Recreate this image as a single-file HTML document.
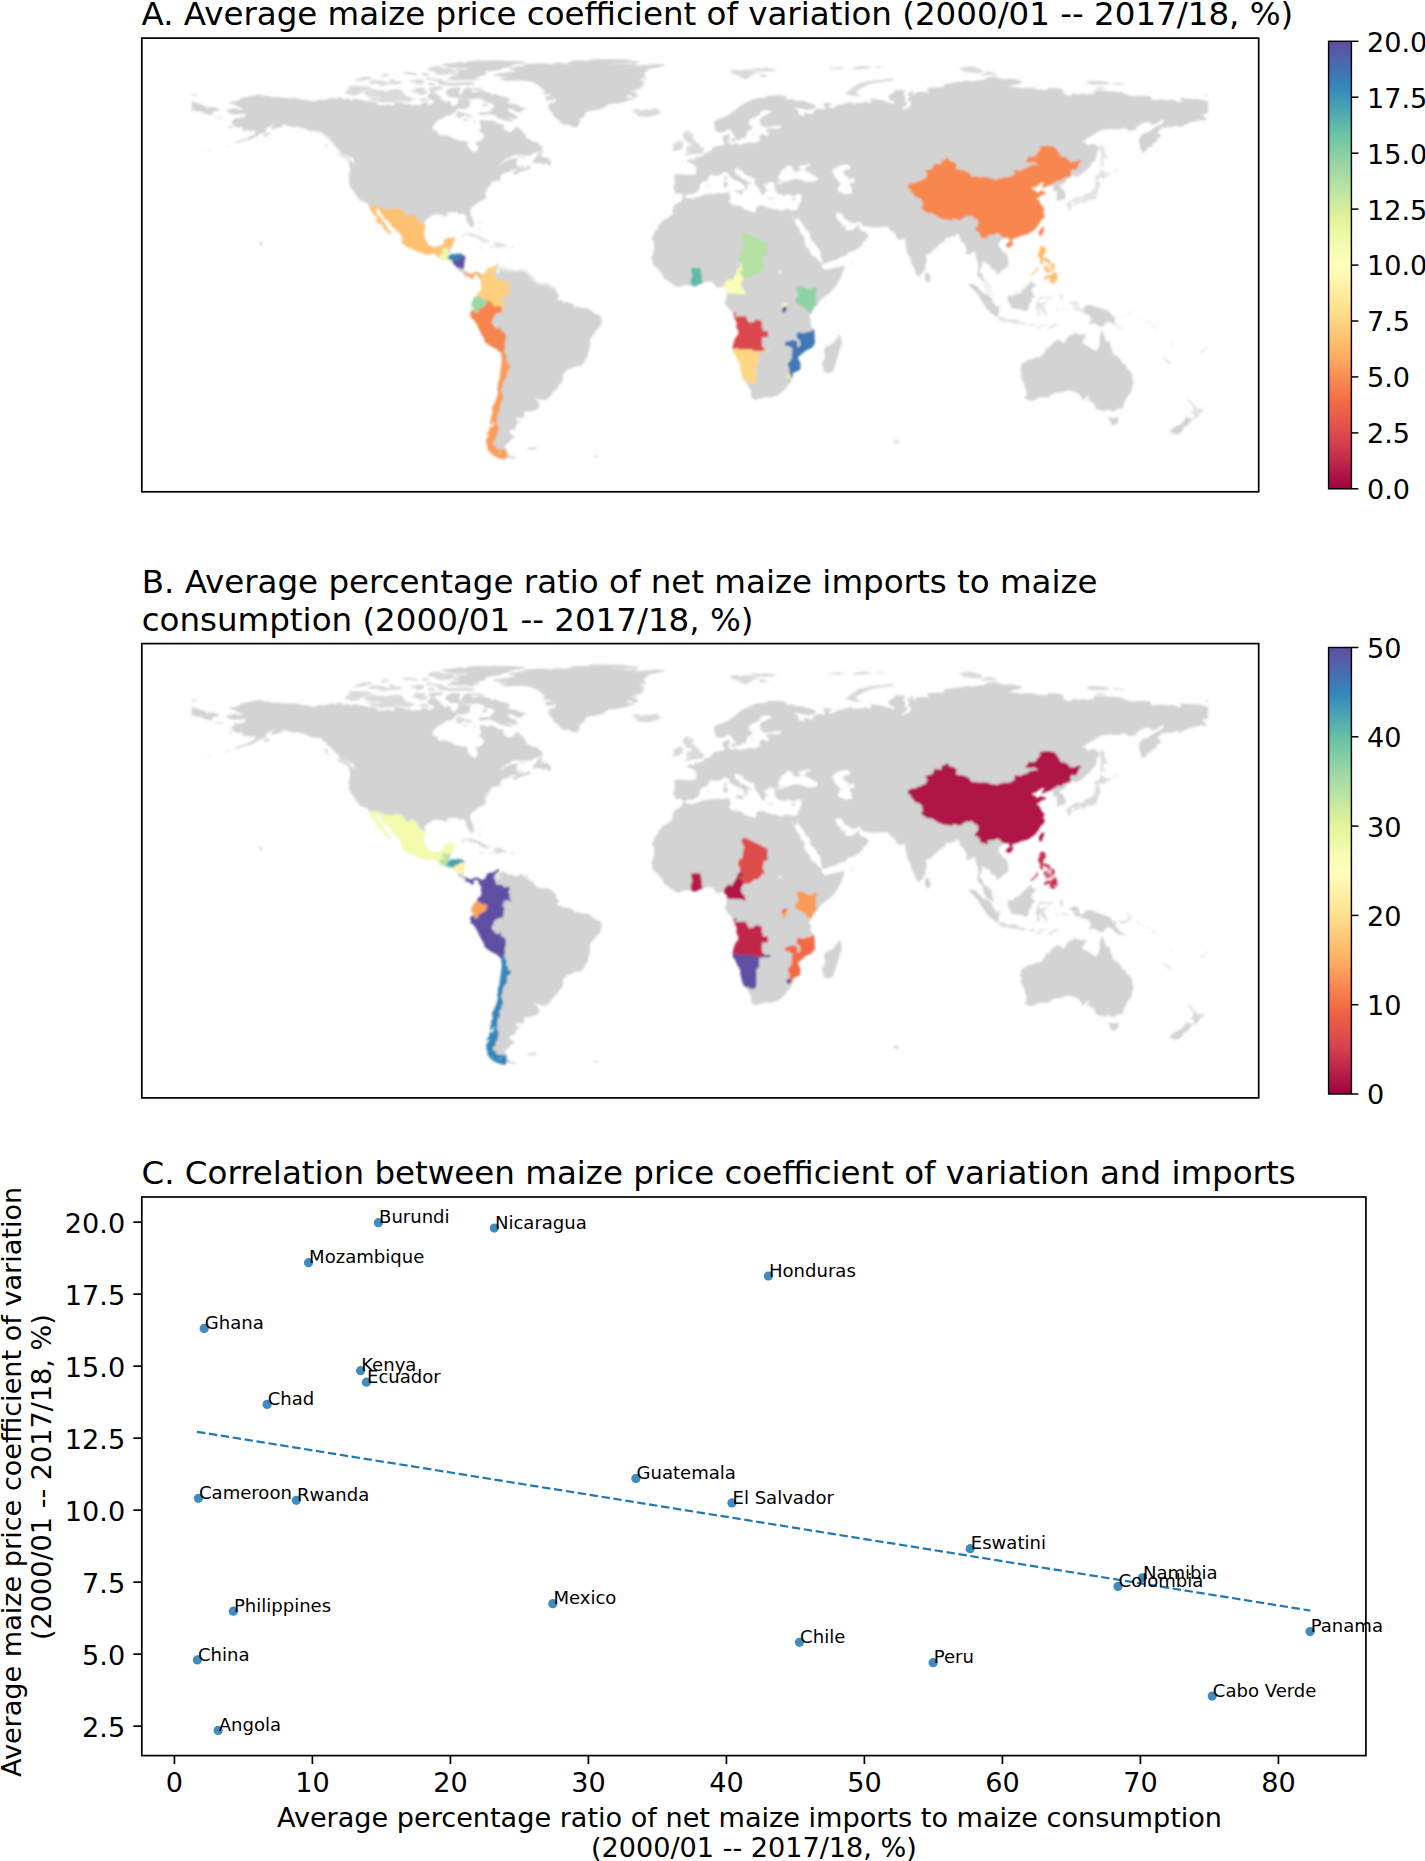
<!DOCTYPE html>
<html lang="en"><head><meta charset="utf-8"><title>Maize price variation and imports</title>
<style>html,body{margin:0;padding:0;background:#fff}body{width:1425px;height:1861px;overflow:hidden}</style></head>
<body>
<svg width="1425" height="1861" viewBox="0 0 1425 1861" style="display:block;font-family:'DejaVu Sans', 'Liberation Sans', sans-serif">
<rect x="0" y="0" width="1425" height="1861" fill="#fff"/>
<defs><filter id="soft" x="-2%" y="-2%" width="104%" height="104%"><feGaussianBlur stdDeviation="1.0"/></filter></defs>
<g filter="url(#soft)">
<path d="M225.4 110.8L229.9 109.3L235.8 108.2L237.8 109.6L243.4 109.6L241.2 107.9L237.8 106.8L235.8 105.3L233.0 104.2L229.0 103.0L230.7 101.6L235.8 101.6L239.2 100.1L240.0 98.7L242.9 97.5L245.7 97.3L251.0 95.8L253.6 96.1L257.8 94.4L262.1 95.2L264.3 96.4L265.4 95.8L270.2 96.1L270.0 96.7L274.5 97.3L277.3 97.0L283.2 97.8L288.6 98.1L290.8 98.4L294.5 97.8L298.8 98.7L301.9 99.3L307.2 99.8L311.7 101.3L314.6 101.6L317.1 100.4L320.5 99.6L324.7 99.8L329.0 98.7L333.5 97.8L335.5 99.0L337.4 98.4L338.3 97.0L340.2 97.3L344.8 99.8L348.7 97.8L349.0 100.1L352.4 99.6L353.5 98.7L356.9 99.0L361.4 100.1L367.9 101.3L371.9 101.9L374.7 101.6L378.4 103.0L374.4 104.5L379.5 105.0L387.1 104.7L389.7 104.2L392.5 105.9L395.6 104.5L392.8 103.3L394.5 102.2L398.0 102.2L400.1 101.9L402.6 102.4L405.5 104.2L408.6 103.9L413.4 105.3L417.9 104.7L422.1 104.7L421.6 103.0L424.1 102.4L428.6 103.6L428.6 106.2L430.3 103.9L432.6 103.9L434.0 101.0L430.9 99.3L427.5 98.1L427.8 95.0L431.2 92.9L434.8 93.2L437.6 94.7L441.6 97.8L439.1 99.3L444.4 99.8L444.1 102.7L448.1 100.4L451.5 102.4L450.6 104.5L453.2 106.5L456.3 104.5L458.3 101.9L458.5 98.7L462.5 99.0L466.7 99.3L470.4 100.7L470.7 102.2L468.4 103.9L470.4 105.3L470.1 106.8L464.7 108.8L460.8 109.1L457.7 108.2L456.8 109.6L454.3 112.2L453.5 113.4L450.1 115.4L446.1 115.7L443.9 116.8L443.6 118.5L440.5 119.1L436.8 121.4L434.0 124.6L432.8 126.9L432.6 130.3L436.8 130.6L437.9 133.5L439.3 135.5L443.3 134.9L448.7 136.1L451.5 137.2L453.5 138.7L456.8 139.6L459.9 140.7L464.5 141.0L467.6 141.3L467.3 143.6L468.1 146.5L470.1 149.6L474.3 152.5L476.6 151.6L478.0 148.5L476.6 144.2L474.6 142.4L479.1 141.3L482.2 139.3L483.9 137.2L483.7 135.2L481.7 132.6L478.3 130.6L481.7 127.5L480.3 124.9L479.4 120.6L481.4 119.7L486.2 120.6L489.0 120.9L491.6 120.3L494.1 121.1L497.5 122.9L498.3 124.0L503.4 124.0L503.4 126.6L504.3 130.1L506.8 130.6L509.1 132.4L513.0 130.6L515.8 127.5L517.5 126.3L519.8 128.9L523.5 132.4L526.6 135.9L525.4 137.8L529.1 139.3L531.6 141.0L536.3 141.9L538.1 142.7L539.3 145.0L541.2 145.6L542.4 146.5L542.7 149.9L540.7 150.8L538.7 151.9L533.9 152.8L530.5 155.4L525.7 155.7L519.5 155.1L515.3 155.1L512.5 155.4L510.2 157.4L506.5 158.5L502.4 162.6L499.2 165.2L501.4 164.6L506.1 160.8L512.0 158.5L516.1 158.3L518.7 159.7L516.1 161.4L517.0 164.6L517.8 166.9L521.5 168.3L526.3 167.7L529.1 164.6L529.4 166.6L531.1 167.7L527.7 169.5L521.3 171.2L518.7 172.3L515.3 174.7L513.3 174.4L513.0 171.8L518.1 169.5L513.6 169.5L510.5 170.0L510.8 170.9L507.9 172.3L504.8 173.3L502.0 174.1L500.6 175.8L500.0 178.1L500.9 179.5L502.0 179.5L502.3 180.1L500.6 180.4L499.2 180.4L496.9 181.0L494.1 181.3L491.8 182.1L491.0 183.0L491.0 183.6L490.4 185.6L488.5 187.9L488.2 187.0L486.8 186.2L487.3 187.7L487.9 189.0L487.0 190.5L485.6 192.8L485.4 192.5L484.5 190.2L484.8 187.3L483.9 188.5L484.5 190.8L484.5 193.4L485.4 193.6L486.2 197.4L484.2 199.7L481.4 200.5L479.4 202.3L478.0 202.3L476.6 203.4L476.3 204.3L473.2 206.3L471.5 207.7L470.4 209.5L469.8 211.5L470.4 213.5L471.2 215.8L472.6 217.8L472.6 219.2L473.8 222.4L473.8 225.6L472.9 227.3L472.1 227.6L470.7 227.3L470.4 226.1L469.3 225.3L467.8 223.0L466.4 220.7L465.9 216.1L463.6 213.8L462.5 213.2L459.7 214.6L459.1 214.4L457.7 212.9L456.0 212.3L452.9 212.6L450.3 212.3L448.1 212.6L447.0 212.9L447.5 213.8L447.5 214.9L448.1 215.5L447.5 215.8L446.4 215.5L445.3 216.1L443.3 216.1L441.3 214.4L438.8 214.8L436.8 214.1L435.1 214.4L432.6 214.9L430.0 217.2L427.2 218.4L425.8 219.8L424.9 221.0L424.9 223.0L425.2 224.4L425.8 225.3L424.7 227.9L424.1 229.9L423.8 233.9L423.5 235.4L424.1 236.8L424.9 238.2L425.5 240.5L427.5 242.5L428.0 244.3L429.2 245.7L432.3 246.3L433.4 247.7L435.9 246.9L437.9 246.6L440.2 246.0L441.9 245.4L443.6 244.3L444.4 240.2L445.0 239.4L447.0 238.5L450.1 237.9L452.4 238.1L454.2 237.8L454.9 238.5L454.7 239.8L453.2 241.5L452.6 243.3L453.2 243.7L452.6 245.1L452.0 247.2L451.2 246.6L450.6 246.6L451.2 247.7L450.6 249.2L450.9 250.9L450.3 252.3L448.9 254.1L449.8 254.6L450.9 254.6L451.8 254.1L453.2 254.2L454.6 254.5L456.0 254.3L457.1 253.8L458.8 254.1L459.9 253.8L461.6 254.3L463.3 255.5L464.5 255.8L465.2 256.6L465.0 258.7L464.2 260.7L464.2 262.7L464.2 264.1L463.6 265.6L463.8 268.2L463.1 269.0L464.5 269.9L465.6 271.0L467.0 272.2L467.8 273.3L469.3 273.9L470.1 274.5L471.5 274.2L472.6 273.6L474.3 273.0L475.2 272.2L476.9 272.3L478.3 272.8L479.4 273.2L480.6 274.2L481.5 274.9L481.1 276.8L480.0 279.1L479.1 278.2L478.6 276.6L479.1 275.9L478.6 275.6L478.0 274.8L476.6 273.9L475.2 274.2L474.6 275.1L472.9 275.9L472.6 276.5L474.1 278.1L473.2 278.5L471.5 279.1L471.0 277.4L469.8 277.6L469.3 276.5L467.3 275.9L465.9 276.2L465.7 276.7L464.2 275.5L463.6 274.9L463.9 274.5L463.6 273.8L461.9 272.5L460.9 272.2L460.8 271.3L459.9 270.7L460.2 271.6L459.7 272.3L459.0 271.5L458.1 271.2L457.7 270.7L457.7 269.8L458.1 268.9L458.0 267.9L457.0 267.0L455.7 265.9L455.0 264.9L453.8 264.0L452.4 262.7L452.7 262.2L453.2 262.7L453.5 262.4L452.9 261.5L452.0 261.2L451.8 262.0L450.1 261.9L449.2 261.7L447.9 261.1L446.4 261.0L445.5 260.3L444.1 259.8L442.4 259.7L441.0 259.1L439.5 258.0L436.3 254.9L434.8 253.9L432.6 253.2L431.0 253.4L428.8 254.5L427.3 254.8L425.3 254.0L423.2 253.5L420.6 252.1L418.4 251.8L415.3 250.4L412.9 249.0L412.2 248.3L410.6 248.1L407.7 247.2L406.6 245.9L403.5 244.3L402.1 242.4L401.5 241.0L402.4 240.7L402.1 240.0L402.7 239.2L402.7 238.2L401.8 236.9L401.5 235.7L400.6 234.3L398.1 231.4L395.3 229.2L393.9 227.4L391.5 226.2L391.0 225.5L391.4 223.7L389.9 223.0L388.3 221.7L387.6 219.6L386.0 219.4L384.4 217.9L383.1 216.5L383.0 215.6L381.5 213.5L380.4 211.2L380.5 210.1L378.4 209.0L377.5 209.1L375.9 208.3L375.4 209.5L375.9 210.9L376.2 213.0L377.1 214.2L379.2 216.2L379.7 216.9L380.1 217.1L380.5 218.1L381.0 218.0L381.6 219.9L382.4 220.6L383.0 221.6L384.8 223.1L385.8 225.8L386.6 227.0L387.4 228.4L387.5 229.9L388.9 230.0L390.0 231.3L391.0 232.6L391.0 233.1L389.8 234.1L389.3 234.1L388.5 232.4L386.7 230.8L384.7 229.4L383.2 228.6L383.3 226.5L382.9 225.0L381.5 224.1L379.6 222.8L379.2 223.2L378.5 222.4L376.8 221.7L375.1 220.0L375.3 219.8L376.5 220.0L377.5 218.9L377.6 217.6L375.5 215.6L373.8 214.8L372.7 213.0L371.7 211.1L370.4 208.8L369.2 206.2L368.8 204.7L367.0 203.1L365.6 202.7L365.3 201.9L363.7 201.8L362.7 201.0L360.1 200.7L359.4 200.2L359.1 198.6L356.3 195.8L353.9 191.8L354.1 191.1L352.8 190.2L350.6 187.7L350.2 185.4L348.7 183.8L349.3 181.4L349.3 179.0L348.4 176.8L349.5 174.0L350.1 168.8L349.6 165.0L348.7 162.5L347.9 161.2L348.2 160.6L352.3 161.6L353.8 164.3L354.5 163.5L354.1 161.2L353.1 158.8L352.7 158.0L347.3 156.0L345.3 154.7L340.1 153.6L338.6 151.0L339.0 149.2L335.4 148.0L334.9 145.7L331.5 143.6L331.4 142.1L329.8 141.0L327.3 140.1L326.6 137.6L322.9 135.3L321.4 132.6L318.7 132.4L314.2 132.3L310.9 131.5L305.0 128.5L302.3 128.0L297.4 126.9L293.5 127.2L287.9 125.9L284.6 124.6L281.5 125.3L282.0 127.2L280.5 127.4L277.2 128.0L274.7 129.0L271.6 129.6L271.2 127.9L272.5 125.1L275.5 124.2L274.7 123.5L271.1 125.1L269.2 127.0L265.1 129.1L267.2 130.5L264.5 132.5L261.5 133.7L258.6 134.6L257.9 135.9L253.5 137.4L252.7 138.7L249.3 139.9L247.4 139.7L244.8 140.5L241.9 141.5L239.6 142.5L234.7 143.3L234.3 142.8L237.4 141.4L240.1 140.6L243.1 139.0L246.6 138.7L248.0 137.5L251.9 135.8L252.6 135.2L254.7 134.2L255.1 132.0L256.6 130.3L253.3 131.2L252.4 130.7L250.9 131.7L249.0 130.3L248.3 131.3L247.2 129.9L244.4 131.0L242.7 131.0L242.4 129.3L242.9 128.2L241.1 127.2L237.4 127.8L235.1 126.4L233.1 125.7L233.1 124.1L230.9 122.9L232.0 121.2L234.3 119.6L235.3 118.1L237.6 117.9L239.6 118.4L241.8 117.0L243.9 117.2L246.0 116.3L245.5 115.0L243.9 114.5L246.0 113.4L244.3 113.4L241.3 114.1L240.4 114.7L238.2 114.1L234.2 114.4L230.1 113.7L228.9 112.5ZM481.5 274.9L483.0 274.9L485.1 272.9L486.3 272.6L486.3 271.7L486.8 269.2L488.4 267.9L490.2 267.9L490.4 267.3L492.7 267.5L494.9 266.1L496.0 265.4L497.3 264.0L498.3 264.2L499.1 265.0L498.5 265.9L498.5 266.6L496.8 266.9L497.7 268.2L497.7 269.7L496.4 271.4L497.5 273.7L498.7 273.5L499.4 271.4L498.5 270.4L498.3 268.2L501.8 267.1L501.5 265.7L502.5 264.8L503.5 266.8L505.5 266.9L507.3 268.5L507.4 269.4L509.9 269.4L512.9 269.2L514.5 270.5L516.7 270.8L518.3 269.9L518.3 269.2L521.8 269.0L525.2 269.0L522.8 269.8L523.8 271.2L526.0 271.4L528.2 272.8L528.6 275.1L530.1 275.1L531.2 275.7L533.1 276.8L534.8 278.7L534.9 280.2L535.9 280.2L537.5 281.6L538.6 282.6L542.0 283.2L544.6 282.5L547.6 283.2L550.6 284.2L553.6 286.7L554.1 287.8L555.0 287.7L555.7 289.3L557.3 294.3L558.8 294.8L558.9 296.8L556.8 299.2L557.6 300.0L562.6 300.5L562.8 303.4L564.9 301.5L568.4 302.5L573.1 304.3L574.5 306.0L574.1 307.5L577.3 306.6L582.8 308.2L587.0 308.1L591.2 310.4L594.8 313.7L597.0 314.5L599.4 314.6L600.4 315.5L601.4 319.2L601.9 320.9L600.7 325.7L599.3 327.6L595.3 331.6L593.5 334.8L591.4 337.3L590.7 337.4L589.9 339.5L590.1 344.9L589.4 349.3L589.0 351.2L588.2 352.3L587.7 356.2L584.8 359.9L584.3 362.9L582.0 364.2L581.4 365.9L578.3 365.9L573.9 367.0L571.9 368.3L568.7 369.1L565.4 371.4L563.0 374.3L562.6 376.4L563.1 378.0L562.5 380.9L561.9 382.3L559.9 383.9L556.8 388.9L554.3 391.2L552.4 392.6L551.1 395.3L549.2 397.0L548.0 398.8L544.8 400.4L542.7 399.8L541.2 400.1L538.6 398.9L536.7 398.9L535.0 397.4L534.8 398.9L538.3 401.3L538.0 403.3L539.7 404.6L539.6 406.0L536.9 409.6L532.7 411.2L527.0 411.8L523.9 411.5L524.5 413.2L523.9 415.4L524.5 416.8L522.8 417.8L519.9 418.2L517.2 417.2L516.1 417.9L516.5 420.8L518.4 421.7L519.9 420.7L520.8 422.2L518.2 423.1L515.9 424.9L515.5 427.8L514.8 429.4L512.1 429.4L509.9 430.8L509.1 433.0L511.9 435.1L514.6 435.7L513.6 438.3L510.3 439.9L508.4 443.3L505.9 444.4L504.7 445.8L505.6 448.7L507.5 450.4L506.8 450.6L504.3 450.8L500.0 452.0L499.5 454.6L498.3 454.8L495.1 453.8L491.8 451.8L488.3 450.2L487.4 448.3L488.2 446.6L486.8 444.7L486.5 439.8L487.7 437.1L490.6 434.8L486.4 434.0L489.1 431.5L490.0 426.7L493.1 427.7L494.6 421.7L492.7 421.0L491.8 424.6L490.1 424.1L490.9 420.0L491.9 414.7L493.2 412.8L492.4 409.9L492.2 406.7L493.3 406.6L495.1 402.0L497.0 397.4L498.2 393.1L497.6 388.8L498.4 386.4L498.1 382.8L499.7 379.3L500.3 373.8L501.2 367.8L502.0 361.3L501.8 356.6L501.2 352.6L498.4 350.9L498.2 349.7L492.6 346.9L487.5 343.7L485.3 341.9L484.2 339.6L484.6 338.8L482.2 335.0L479.5 329.7L476.8 323.9L475.6 322.6L474.7 320.5L472.5 318.6L470.5 317.5L471.4 316.2L470.1 313.4L471.0 311.4L473.2 309.6L474.7 307.5L474.1 306.2L473.0 307.5L471.3 306.3L471.9 305.5L471.4 302.8L472.4 302.4L472.9 300.6L474.0 298.8L473.8 297.6L475.4 297.0L477.3 295.8L476.9 294.9L478.0 294.7L477.8 293.3L478.5 292.2L479.9 292.0L481.1 290.2L482.2 288.7L481.1 288.0L481.7 286.4L481.0 283.7L481.6 283.0L481.2 280.6L480.0 279.1L481.1 276.8ZM506.2 451.2L507.2 452.6L508.6 454.7L512.3 456.5L516.3 457.2L515.0 458.6L512.3 458.8L510.9 457.7L509.2 457.7L506.2 457.7L504.5 459.5L502.4 458.6L499.5 458.2L495.9 456.6L493.0 455.0L489.1 451.8L491.4 452.4L495.4 454.4L499.2 455.4L500.6 454.1L501.5 452.1L504.1 450.9ZM527.1 449.0L530.5 447.2L532.9 448.0L534.6 446.8L536.9 448.1L536.0 449.1L532.2 450.0L530.9 449.0L528.5 450.3ZM567.9 62.1L577.4 60.3L587.3 60.5L590.9 59.4L600.8 59.1L623.4 59.5L641.0 61.8L635.8 62.9L625.0 63.0L609.8 63.3L611.3 63.8L621.3 63.5L629.8 64.5L635.3 63.6L637.6 64.7L634.5 66.3L641.7 65.3L655.4 64.1L663.9 64.7L665.4 65.9L653.9 68.0L652.3 68.6L643.3 69.1L649.8 69.3L646.5 71.4L644.3 73.2L644.4 76.4L647.8 78.3L643.3 78.4L638.7 79.3L643.9 80.9L644.6 83.3L641.5 83.6L645.2 86.0L639.0 86.3L642.2 87.4L641.3 88.5L637.3 88.9L633.4 88.9L636.9 90.8L636.9 92.1L631.4 90.9L629.9 91.7L633.7 92.4L637.4 94.2L638.5 96.5L633.4 97.1L631.3 95.9L627.8 94.3L628.8 96.3L625.5 97.7L632.9 97.9L636.8 98.0L629.2 100.5L621.6 102.8L613.3 103.8L610.2 103.8L607.3 104.9L603.4 108.0L597.3 110.0L595.3 110.1L591.6 110.8L587.5 111.5L585.1 113.3L585.1 115.3L583.6 117.2L579.0 119.5L580.1 121.7L578.9 124.1L577.4 126.9L573.5 127.1L569.3 124.7L563.7 124.7L560.9 123.1L559.0 120.3L554.1 116.7L552.7 114.9L552.3 112.3L548.4 109.6L549.4 107.5L547.5 106.5L550.3 103.1L554.6 102.1L555.7 100.9L556.3 98.6L553.1 99.6L551.5 100.0L549.0 100.5L545.5 99.5L545.3 97.6L546.4 96.1L549.1 96.0L554.8 96.8L550.0 95.0L547.5 94.0L544.6 94.4L542.3 93.7L545.4 91.0L543.7 89.9L541.5 87.9L538.1 84.9L534.5 83.7L534.5 82.5L526.9 80.9L521.0 80.6L513.4 80.8L506.5 81.0L503.2 80.1L498.3 78.2L505.7 77.4L511.4 77.2L499.4 76.4L493.0 75.3L493.4 74.2L504.1 72.8L514.4 71.4L515.5 70.3L507.9 69.3L510.3 68.1L520.1 66.2L524.2 65.8L523.0 64.5L529.7 63.8L538.4 63.3L547.1 63.3L550.2 64.2L557.6 62.6L564.4 63.7L568.3 63.9L574.2 64.9L567.5 63.3ZM526.9 108.2L524.3 109.3L519.5 112.8L516.1 111.6L511.6 108.8L507.9 109.1L507.7 110.8L510.5 112.5L514.4 113.9L515.6 114.5L517.3 117.4L516.4 119.4L512.7 118.8L505.7 116.5L509.6 118.8L512.7 120.6L513.0 121.7L505.4 120.6L499.5 118.8L496.1 117.4L496.9 116.5L492.7 115.1L488.7 114.2L480.6 115.1L478.0 113.9L480.0 111.9L485.4 111.9L491.0 111.4L491.3 109.1L494.7 106.2L493.0 103.9L488.7 102.7L482.8 101.6L484.8 100.7L481.7 99.0L479.1 98.7L476.9 97.8L475.5 98.7L470.4 99.0L460.2 98.4L454.0 97.5L449.5 97.3L447.2 96.1L450.1 95.0L446.1 95.0L445.3 92.1L447.5 89.5L450.3 88.3L457.7 87.5L460.5 88.6L459.9 91.2L458.3 93.8L461.1 95.0L462.2 92.7L463.1 90.1L467.6 87.6L471.2 88.1L471.8 90.6L472.4 92.4L477.4 91.6L480.3 90.5L486.5 92.0L490.4 93.3L490.7 94.6L496.1 93.9L498.9 95.8L505.7 96.9L508.2 98.1L510.8 100.7L505.7 102.1L512.3 104.0L516.8 104.6L520.9 107.2L525.3 107.4ZM506.5 60.7L514.1 60.9L520.1 61.3L525.3 62.1L525.2 62.9L518.3 64.1L511.5 64.7L508.9 65.3L515.0 65.3L508.4 67.1L503.8 67.9L499.0 70.2L493.1 70.7L491.3 71.3L482.8 71.6L486.7 71.9L484.7 72.5L487.1 73.9L484.4 74.9L480.0 75.7L478.7 76.8L474.7 77.7L475.1 78.3L480.0 78.2L480.0 78.9L472.5 80.6L465.1 79.9L456.8 80.3L452.6 79.9L447.3 79.8L446.9 78.4L452.1 77.8L450.7 75.7L452.5 75.5L460.0 76.7L456.2 74.9L451.6 74.3L453.9 73.2L458.9 72.5L459.7 71.5L455.7 70.4L454.5 68.9L462.2 69.0L464.4 69.4L468.8 68.3L462.5 68.0L452.6 68.1L447.6 67.2L445.3 66.0L442.0 65.2L441.3 64.2L445.5 63.6L448.9 63.5L454.4 63.1L458.5 62.0L462.0 62.2L465.1 63.0L467.2 61.4L471.0 61.0L476.0 60.6L484.6 60.5L486.1 60.8L494.3 60.3L500.4 60.5ZM541.4 154.0L539.6 156.5L541.4 155.5L543.3 156.1L542.3 157.1L544.8 157.9L546.1 157.2L548.9 158.1L548.1 160.2L550.0 159.7L550.4 161.2L551.3 163.0L550.1 165.6L548.8 165.7L546.9 165.1L547.6 162.8L546.8 162.4L543.5 164.9L541.8 164.8L543.8 163.5L541.1 162.8L538.1 162.9L532.6 162.9L532.2 162.0L533.9 161.0L532.7 160.2L535.1 158.5L538.0 153.9L539.7 152.2L542.2 151.3L543.5 151.4L542.9 152.2ZM351.2 160.2L349.8 160.6L345.2 159.3L344.3 158.3L341.8 157.3L341.3 156.5L338.4 156.0L337.3 154.4L337.5 153.7L340.5 154.4L342.2 154.8L344.9 155.1L345.8 156.1L347.3 157.4L350.1 158.7ZM325.3 144.3L328.0 144.1L327.1 147.4L329.6 149.7L328.4 149.7L326.8 148.4L325.7 147.0L324.3 146.1L323.8 144.9L323.9 144.0ZM267.3 133.0L269.2 133.2L270.4 134.1L268.0 135.5L265.1 136.6L263.7 135.8L263.3 134.5L265.8 133.5ZM215.1 116.3L216.9 116.9L218.6 116.6L220.9 117.3L223.7 117.7L223.5 118.0L221.3 118.6L219.2 118.0L218.1 117.5L215.6 117.6L214.9 117.4ZM230.0 126.1L232.2 126.3L232.5 127.4L230.7 127.9L228.9 127.4L227.2 126.6ZM260.8 244.9L260.4 245.4L259.7 245.0L259.8 244.2L259.3 243.1L259.5 242.8L259.9 242.3L259.7 241.8L259.9 241.5L261.7 242.3L262.2 242.7L262.9 243.7L261.7 244.4ZM517.8 156.3L522.4 156.8L525.3 158.0L524.1 158.6L520.4 157.7ZM520.2 165.9L524.8 166.2L523.5 167.4L522.4 167.5L518.8 166.3L518.1 165.4L519.2 164.5ZM787.7 99.7L790.6 98.7L795.3 100.4L803.0 101.1L813.7 104.5L815.8 105.7L816.0 107.6L812.8 109.1L808.2 109.9L795.7 107.7L793.6 108.1L798.2 110.2L798.4 111.5L798.5 114.5L802.2 115.4L804.4 116.1L804.7 114.7L803.1 113.5L804.9 112.4L811.7 114.2L814.1 113.5L812.1 111.4L818.7 108.5L821.3 108.7L824.0 109.7L825.6 107.7L823.3 106.0L824.6 104.3L822.6 102.5L830.5 103.4L832.1 105.1L828.5 105.4L828.5 107.0L830.7 108.0L835.1 107.4L835.8 105.5L841.7 104.2L851.6 101.7L853.7 101.8L850.9 103.6L854.4 103.9L856.4 102.9L861.7 102.8L865.9 101.6L869.1 103.4L872.3 101.5L869.4 99.8L870.8 98.8L879.2 99.7L883.1 100.6L893.3 103.9L895.2 102.4L892.3 100.9L892.3 100.3L888.8 100.0L889.8 98.6L888.3 96.4L888.2 95.4L893.4 92.9L895.3 90.2L897.3 89.7L904.8 90.4L905.4 92.0L902.7 94.4L904.5 95.3L905.4 97.3L904.7 101.2L907.9 103.0L906.7 104.9L901.1 109.0L904.3 109.4L905.5 108.4L908.6 107.6L909.3 106.2L911.8 104.9L910.1 103.2L911.5 101.3L908.4 101.1L907.7 99.5L909.9 96.6L906.3 94.2L911.3 92.3L910.7 90.3L912.1 90.2L913.5 91.8L912.4 94.6L915.5 95.1L914.2 93.0L918.9 91.9L924.8 91.7L930.0 93.4L927.5 91.0L927.2 87.9L932.1 87.3L938.9 87.4L945.0 87.1L942.7 85.6L946.0 83.7L949.2 83.6L954.7 82.2L962.2 81.8L963.1 81.0L970.5 80.7L972.8 81.4L979.2 79.9L984.3 79.9L985.1 78.7L987.8 77.4L994.5 76.3L999.3 77.2L995.5 77.9L1001.9 78.4L1002.6 79.8L1005.2 79.1L1013.5 79.1L1019.8 80.5L1022.1 81.6L1021.4 83.1L1018.3 83.9L1010.9 85.5L1008.7 86.4L1012.2 86.8L1016.4 87.5L1019.0 87.0L1020.4 88.8L1021.6 88.1L1026.2 87.6L1035.2 88.1L1035.9 89.4L1047.7 89.9L1047.9 87.7L1053.8 88.2L1058.4 88.1L1062.9 89.7L1064.2 91.5L1062.5 92.7L1066.1 95.0L1070.5 96.1L1073.2 93.1L1077.8 94.4L1082.6 93.6L1088.1 94.5L1090.1 93.7L1094.8 94.1L1092.7 91.4L1096.4 90.2L1121.9 92.1L1124.3 93.8L1131.7 96.0L1143.1 95.4L1148.8 95.9L1151.1 97.1L1150.8 99.2L1154.2 100.0L1158.0 99.4L1163.0 99.4L1168.3 99.9L1173.7 99.6L1178.6 102.2L1182.1 101.3L1179.8 99.4L1181.1 98.1L1190.1 98.9L1196.0 98.8L1204.1 100.1L1208.0 101.4L1208.0 112.9L1204.4 114.1L1200.7 113.9L1203.3 115.4L1205.0 117.8L1206.3 118.6L1206.6 119.8L1205.9 120.6L1200.6 119.9L1192.7 122.1L1190.2 122.4L1185.9 124.4L1181.8 126.2L1180.7 127.5L1176.7 125.5L1169.3 127.8L1168.1 126.7L1165.4 128.0L1161.6 127.6L1160.7 129.5L1157.3 132.2L1157.4 133.4L1160.6 134.0L1160.2 138.2L1157.6 138.3L1156.4 140.7L1157.6 142.0L1152.6 143.5L1151.6 146.7L1147.4 147.4L1146.6 150.4L1142.5 153.0L1141.5 151.1L1140.3 146.9L1138.7 140.5L1140.0 136.5L1142.4 134.8L1142.6 133.4L1147.0 132.8L1152.0 129.2L1156.9 126.2L1161.9 123.9L1164.2 119.8L1160.8 120.1L1159.1 122.5L1151.9 125.6L1149.6 122.1L1142.3 123.1L1135.3 127.9L1137.6 129.7L1131.3 130.4L1126.9 130.7L1127.1 128.6L1122.7 128.2L1119.2 129.6L1110.6 129.1L1101.3 129.9L1092.2 135.6L1081.4 142.3L1085.8 142.7L1087.2 144.5L1089.9 145.1L1091.7 143.7L1094.8 143.9L1098.9 147.1L1099.0 149.5L1096.8 152.4L1096.6 155.8L1095.3 160.4L1091.0 164.6L1090.1 166.6L1086.3 169.9L1082.5 173.2L1080.6 174.9L1076.9 176.6L1075.1 176.7L1073.3 175.3L1069.5 177.4L1069.1 178.3L1068.0 178.2L1066.8 179.1L1066.0 180.1L1066.1 182.2L1064.6 182.8L1064.1 183.3L1063.0 184.2L1061.2 184.6L1059.9 185.4L1059.8 186.7L1059.5 187.0L1060.6 187.5L1062.2 188.7L1064.7 192.1L1065.4 194.0L1065.4 197.3L1064.3 198.9L1061.8 199.4L1059.5 200.6L1057.0 200.9L1056.6 199.3L1057.2 197.1L1055.9 194.1L1058.0 193.7L1056.1 191.2L1054.7 190.6L1054.4 191.2L1053.6 191.4L1053.5 190.9L1052.7 190.6L1052.0 190.2L1052.7 188.9L1053.4 188.5L1053.1 188.0L1053.9 186.5L1053.7 186.0L1052.0 185.7L1050.7 184.9L1046.8 185.8L1044.7 187.1L1041.6 187.9L1043.1 186.6L1042.6 185.4L1044.8 183.5L1043.3 182.0L1040.8 183.0L1037.6 185.0L1035.9 186.9L1033.1 187.0L1031.7 188.3L1033.2 190.3L1035.5 190.8L1035.6 192.1L1037.8 192.9L1041.0 190.8L1043.5 192.0L1045.3 192.1L1045.8 193.6L1041.8 194.4L1040.5 195.9L1037.7 197.4L1036.3 199.4L1039.3 200.9L1040.4 203.8L1042.1 206.4L1044.1 208.6L1044.0 210.8L1042.2 211.5L1042.9 213.1L1044.6 214.0L1044.1 216.3L1043.4 218.6L1041.8 218.8L1039.8 222.0L1037.5 225.7L1034.9 229.2L1031.0 231.8L1027.1 234.3L1023.9 234.6L1022.1 235.9L1021.2 234.9L1019.6 236.4L1015.6 237.8L1012.7 238.2L1011.7 241.3L1010.1 241.5L1009.4 239.4L1010.0 238.2L1006.3 237.3L1004.9 237.8L1001.2 240.2L998.8 243.0L998.2 245.0L1000.4 248.0L1003.0 251.8L1005.5 253.5L1007.3 255.8L1008.6 261.2L1008.2 266.2L1005.8 268.1L1002.6 270.0L1000.3 272.4L996.8 275.1L995.8 273.2L996.5 271.3L994.4 269.6L992.1 269.2L990.9 267.7L989.5 264.7L987.0 263.4L984.5 263.5L985.0 261.2L982.5 261.2L982.3 264.4L980.7 268.6L979.8 271.1L980.0 273.2L981.8 273.3L983.0 275.9L983.5 278.4L985.1 280.1L986.8 280.4L988.2 281.9L988.9 282.2L990.6 283.9L991.7 285.8L991.9 287.8L991.6 289.1L991.9 290.1L992.1 291.8L993.1 292.5L994.2 295.1L994.1 296.1L992.1 296.3L989.5 294.1L986.1 291.9L985.8 290.4L984.2 288.5L983.8 286.1L982.8 284.5L983.1 282.4L982.5 281.2L981.3 280.1L980.8 278.7L979.3 277.0L978.0 275.7L977.5 277.4L977.0 275.8L977.3 274.0L978.1 271.2L977.9 269.1L978.7 266.9L977.8 265.2L978.0 262.1L976.8 260.6L975.9 257.1L975.4 253.5L974.2 251.1L972.3 252.5L969.1 254.6L967.5 254.3L965.8 253.7L966.8 250.1L966.2 247.4L964.0 244.1L964.3 243.0L962.7 242.7L960.7 240.3L959.8 238.8L959.7 237.4L959.1 236.0L958.0 234.3L955.4 234.2L955.6 235.4L954.7 237.0L953.5 236.4L953.1 236.9L952.3 236.6L951.2 236.3L950.8 237.4L948.9 237.4L945.4 237.9L945.6 240.1L944.1 241.8L940.0 243.8L936.9 247.2L934.7 249.0L931.9 250.8L931.9 252.2L930.5 252.9L928.0 253.9L926.6 254.1L925.8 256.2L926.4 260.0L926.6 262.4L925.3 265.1L925.3 270.0L923.9 270.1L922.6 272.3L923.5 273.3L920.9 274.1L919.9 276.1L918.8 276.9L916.1 274.2L914.8 270.2L913.7 267.3L912.8 265.9L911.2 263.1L910.6 259.6L910.0 257.7L907.5 253.8L906.3 248.2L905.5 244.5L905.5 241.1L904.9 238.3L900.8 240.1L898.8 239.7L895.1 236.2L896.5 235.2L895.7 234.1L892.4 231.6L890.3 230.9L889.5 228.9L887.3 226.6L882.1 227.2L877.5 227.2L873.5 227.6L868.2 226.8L865.1 226.1L861.9 225.7L860.7 222.2L859.4 221.7L857.2 222.2L854.4 223.6L850.9 222.7L848.1 220.5L845.3 219.6L843.4 216.9L841.4 213.1L839.9 213.5L838.1 212.6L837.0 213.7L835.3 213.5L835.9 214.8L835.7 215.5L836.6 217.7L837.7 220.1L839.1 220.8L839.6 221.8L841.5 223.0L841.6 224.2L841.4 225.2L841.7 226.1L842.5 226.9L842.9 227.9L843.3 228.6L843.1 226.5L843.9 225.0L844.7 224.7L845.5 225.6L845.6 227.2L845.0 228.9L845.5 230.0L846.0 229.9L846.1 230.7L848.3 230.2L850.6 230.3L852.4 230.4L854.3 228.5L856.4 226.6L858.2 224.8L859.0 223.8L859.4 224.1L859.1 225.3L858.7 225.8L859.1 228.1L860.4 230.1L861.9 231.1L864.0 231.5L865.7 232.0L867.0 233.7L867.7 234.6L868.7 235.0L868.7 235.6L867.7 237.3L867.2 238.1L866.1 239.1L865.0 241.0L863.7 240.9L863.2 241.6L862.7 243.0L863.0 244.9L862.8 245.3L861.5 245.3L859.7 246.4L859.4 247.8L858.8 248.4L857.0 248.4L855.9 249.1L855.9 250.2L854.6 251.0L853.0 250.8L851.1 251.7L849.8 251.9L847.8 252.7L847.2 253.9L847.2 254.9L844.4 256.1L839.8 257.5L837.3 259.5L836.1 259.7L835.2 259.5L833.6 260.7L831.8 261.2L829.4 261.4L828.7 261.6L828.1 262.3L827.3 262.5L826.9 263.3L825.5 263.2L824.6 263.6L822.6 263.4L821.9 261.8L822.0 260.2L821.5 259.3L821.0 257.2L820.2 256.0L820.8 255.9L820.4 254.6L820.8 254.0L820.7 252.8L820.3 251.6L819.5 250.7L819.2 249.5L817.8 248.5L816.3 246.1L815.5 243.7L813.5 241.8L812.3 241.3L810.4 238.5L810.1 236.5L810.2 234.8L808.6 231.6L807.2 230.5L805.7 229.9L804.8 228.3L804.9 227.6L804.2 226.1L803.3 225.5L802.2 223.4L800.5 221.0L799.1 219.1L797.7 219.1L798.1 217.5L798.2 216.5L798.6 215.3L798.5 214.9L797.7 216.1L797.1 218.3L796.3 219.8L795.7 220.3L794.7 219.3L793.5 218.0L791.4 213.9L791.1 209.9L795.2 210.7L796.6 210.0L797.5 209.0L798.0 207.5L798.6 205.3L799.0 204.6L800.1 202.2L801.5 200.2L801.3 197.9L802.0 196.7L800.9 195.5L802.0 194.4L800.3 194.6L797.9 193.9L796.0 195.6L791.7 195.9L789.4 194.4L786.3 194.3L785.7 195.5L783.7 195.8L781.0 194.3L777.9 194.3L776.3 191.5L774.2 189.9L775.6 187.6L773.8 186.3L775.3 183.9L773.4 182.9L773.5 182.4L771.7 182.3L770.3 182.0L766.8 182.7L768.8 184.4L767.4 184.8L765.8 184.8L764.3 183.3L763.8 184.0L764.4 185.7L765.8 187.1L764.7 187.7L766.3 189.0L767.7 189.8L767.8 191.5L765.2 190.7L766.0 192.2L764.2 192.5L765.3 195.0L763.4 195.0L761.1 193.8L760.0 191.5L759.5 189.6L758.4 188.3L757.0 186.6L756.8 185.8L756.3 185.6L756.2 185.0L754.7 184.0L754.4 182.6L754.7 180.7L755.1 179.8L754.6 179.3L754.0 179.1L753.2 178.2L752.0 177.6L749.3 176.5L747.7 175.5L745.1 174.6L742.7 172.5L743.3 172.3L742.0 171.1L742.0 170.1L740.2 169.7L739.3 170.9L738.5 169.9L738.5 169.0L738.6 168.9L739.3 168.6L737.0 168.2L734.7 169.2L734.8 170.7L734.5 171.5L735.4 173.0L738.1 174.4L739.5 176.8L742.6 179.1L744.9 179.1L745.5 179.7L744.8 180.3L747.3 181.3L749.4 182.2L751.8 183.7L752.1 184.2L751.5 185.3L750.0 183.9L747.5 183.5L746.3 185.3L748.4 186.4L748.0 187.9L746.9 188.1L745.4 190.5L744.2 190.7L744.2 189.9L744.8 188.3L745.4 187.7L744.3 186.0L743.4 184.6L742.2 184.2L741.4 183.0L739.6 182.4L738.4 181.3L736.3 181.1L734.1 179.8L731.5 177.9L729.6 176.3L728.7 173.4L727.3 173.1L725.0 172.1L723.7 172.6L722.1 173.9L720.9 174.1L718.3 175.7L712.8 174.9L708.7 175.9L708.3 177.6L708.5 179.3L705.8 181.2L702.2 181.8L701.9 182.8L700.2 184.4L699.1 186.7L700.2 188.3L698.6 189.6L698.0 191.5L695.8 192.1L693.8 194.3L690.2 194.3L687.6 194.3L685.8 195.3L684.7 196.4L683.3 196.1L682.3 195.2L681.5 193.5L678.9 193.1L677.7 193.8L676.2 193.4L674.8 193.7L675.2 191.5L674.9 189.7L673.7 189.4L673.0 188.3L673.2 186.5L674.4 185.4L674.5 184.3L675.1 182.5L675.1 181.3L674.5 180.3L674.4 179.3L674.5 177.3L673.4 176.0L677.4 173.9L680.8 174.4L684.6 174.4L687.6 174.9L690.0 174.8L694.5 174.9L696.0 173.2L696.5 167.4L693.6 164.4L691.5 162.9L687.2 161.8L686.9 159.7L690.6 159.1L695.3 159.9L694.5 156.6L697.1 157.8L703.7 155.6L704.5 153.2L707.0 152.6L709.2 152.1L710.7 151.3L713.2 147.1L717.0 145.9L719.4 145.9L719.9 145.3L722.3 145.2L722.8 145.8L724.7 144.4L724.1 143.3L724.0 141.7L722.8 140.1L722.7 137.1L723.2 136.4L724.0 135.5L726.5 135.3L727.5 134.5L729.8 133.7L729.7 135.2L728.8 136.1L729.2 136.9L730.7 137.4L730.0 138.5L729.2 138.1L727.1 140.2L727.9 141.6L728.0 142.7L730.8 143.4L730.8 144.4L733.7 143.9L735.2 143.1L738.4 144.2L739.8 145.1L741.7 144.3L746.1 143.0L749.6 142.0L752.5 142.5L752.7 143.2L755.4 143.2L756.0 141.9L759.9 141.0L759.4 138.6L759.4 136.4L760.8 134.6L763.5 133.7L765.7 135.8L768.0 135.7L768.5 133.5L768.9 131.8L767.8 132.2L766.0 131.2L765.8 129.5L769.3 128.7L772.9 128.3L776.0 128.8L778.9 128.7L782.1 127.1L779.1 125.7L774.0 126.0L769.1 127.0L764.5 127.6L762.8 126.1L760.1 125.1L760.7 122.3L759.4 119.7L760.7 118.0L763.2 116.2L769.7 113.1L771.6 112.5L771.3 111.3L767.4 109.9L762.5 110.7L759.8 112.7L760.2 114.5L755.7 116.8L750.3 119.3L748.2 123.3L750.2 125.3L752.9 126.9L750.3 130.2L747.4 130.9L746.3 135.7L744.7 138.4L741.3 138.1L739.7 140.4L736.4 140.5L735.6 137.8L733.2 134.5L731.0 130.5L729.1 128.7L723.6 132.0L719.8 132.7L715.9 131.2L714.9 128.2L714.0 121.5L716.6 119.7L724.0 117.3L729.6 114.3L734.8 110.3L741.6 104.7L746.3 102.6L754.0 98.9L760.3 97.7L764.9 97.8L769.2 95.4L774.3 95.6L779.4 95.0L788.2 97.1L784.6 97.9ZM191.8 101.4L198.7 103.6L206.1 106.4L205.8 108.2L207.7 108.9L207.1 106.9L214.7 107.3L220.3 110.0L217.5 111.2L212.8 111.5L212.8 114.3L211.6 115.0L209.0 114.9L206.9 113.9L203.1 113.0L202.5 111.8L199.6 111.3L196.4 111.7L194.9 110.7L195.5 109.6L192.1 110.3L193.4 111.6L191.8 112.9ZM1043.7 229.6L1042.0 234.2L1040.8 236.6L1039.3 234.2L1039.0 232.0L1040.6 229.2L1042.9 227.0L1044.2 227.9ZM930.8 278.2L930.4 281.2L929.2 282.0L926.7 282.6L925.4 280.4L924.9 276.2L926.2 271.5L928.1 273.1L929.4 275.2ZM743.7 189.8L742.7 192.1L743.1 193.0L742.5 194.4L740.4 193.4L738.9 193.1L735.0 191.6L735.4 190.1L738.7 190.4L741.6 190.1ZM725.9 181.2L727.6 183.3L727.2 187.1L725.9 186.9L724.8 187.9L723.7 187.1L723.6 183.6L722.9 182.0L724.5 182.1ZM726.9 178.5L726.0 180.7L724.7 180.2L724.0 178.2L724.6 177.2L726.4 176.1ZM766.8 197.1L768.4 198.0L770.6 197.9L772.6 198.1L774.1 198.2L773.7 199.1L769.7 199.3L769.7 198.9L766.3 198.3ZM792.3 198.7L792.9 198.0L795.0 198.0L797.5 197.2L795.6 198.4L795.9 199.2L793.1 200.3L791.6 200.0L791.0 198.8ZM735.7 139.8L734.0 142.1L731.1 140.5L730.7 139.3L734.8 138.4ZM728.1 141.0L730.4 141.3L730.1 140.0L727.8 140.1ZM751.3 135.8L753.5 134.1L754.1 133.1L752.1 133.5ZM706.7 185.9L708.7 184.9L709.6 185.6L708.5 186.7ZM850.4 263.7L852.9 263.4L853.8 263.8L851.8 264.4ZM1011.4 246.1L1009.0 247.4L1006.6 246.5L1006.6 244.1L1007.9 242.8L1011.0 242.0L1012.7 242.0L1013.3 243.1L1012.0 244.4ZM791.4 213.9L792.3 217.2L794.0 220.1L796.2 224.6L797.2 226.1L798.1 227.8L800.7 231.0L800.1 231.5L800.2 233.3L803.5 235.9L804.0 236.5L804.9 239.3L804.3 239.8L804.7 242.8L805.7 246.3L806.8 246.9L808.3 248.0L810.1 251.4L810.8 254.0L812.3 255.4L816.2 258.1L817.7 259.8L819.3 261.4L820.1 262.4L821.5 263.3L822.2 264.2L822.1 265.4L820.5 266.0L821.7 266.8L822.6 267.3L824.5 269.7L825.8 269.8L828.5 269.0L831.6 268.7L834.1 267.8L835.5 267.6L836.5 267.1L838.1 267.0L839.0 266.9L840.3 266.5L841.8 266.2L843.1 265.2L844.2 265.2L844.2 266.0L844.0 267.7L844.0 269.2L843.4 270.2L842.6 273.3L841.2 276.6L839.5 280.2L837.1 284.4L834.7 287.7L831.3 291.6L828.5 293.9L824.3 296.8L821.7 299.0L818.6 302.4L817.9 304.0L817.3 304.6L815.3 305.8L814.6 307.0L813.6 307.2L813.2 309.2L812.3 310.4L811.7 312.3L810.6 313.3L809.3 316.8L809.4 318.4L811.2 319.5L811.3 320.2L810.5 322.0L810.7 322.8L810.5 324.2L811.5 326.0L812.7 328.9L813.7 329.5L814.2 330.8L814.1 333.6L814.4 336.2L814.5 340.7L815.0 342.1L814.2 344.1L813.1 346.1L811.3 347.9L808.7 349.0L805.5 350.4L802.3 353.5L801.2 354.0L799.3 356.0L798.1 356.7L797.9 358.8L799.2 360.9L799.7 362.6L799.8 363.5L800.3 363.4L800.2 366.2L799.7 367.5L800.4 368.0L800.0 369.2L798.8 370.2L796.5 371.2L793.1 372.8L791.8 373.8L792.1 375.0L792.8 375.2L792.6 376.7L791.9 378.8L791.5 381.2L790.8 382.5L788.9 384.0L788.3 384.4L787.1 385.9L786.3 387.3L784.8 389.4L781.6 392.4L779.6 394.1L777.4 395.4L774.5 396.5L773.0 396.7L772.7 397.4L771.0 397.0L769.6 397.6L766.5 397.0L764.8 397.4L763.6 397.2L760.7 398.4L758.3 398.8L756.6 399.9L755.3 400.0L754.1 398.9L753.1 398.9L751.9 397.6L751.8 398.0L751.4 397.2L751.4 395.5L750.5 393.6L751.4 393.1L751.3 390.9L749.5 388.2L748.1 385.8L746.0 382.0L743.9 379.8L742.8 377.7L742.2 374.9L741.5 372.8L740.6 368.4L740.5 365.0L740.2 363.4L739.1 362.2L737.6 359.8L736.1 356.4L735.5 354.6L733.2 351.8L733.0 349.6L732.8 347.8L733.2 345.2L734.1 342.6L734.3 341.4L735.2 338.8L735.9 337.6L737.5 335.7L738.4 334.4L738.7 332.3L738.5 330.7L737.7 329.6L736.9 327.9L736.3 326.2L736.4 325.6L737.3 324.4L736.4 321.7L735.8 319.7L734.4 317.9L734.7 317.3L734.3 316.5L733.5 314.3L731.2 311.3L728.3 308.3L726.5 306.0L724.7 303.0L724.8 302.0L725.4 301.1L726.1 299.0L726.7 296.9L726.2 296.5L727.1 293.2L727.6 291.0L726.4 289.1L725.2 288.6L724.6 287.3L723.9 286.9L723.9 286.1L721.0 287.1L719.9 287.0L718.8 287.6L716.6 287.5L715.0 285.7L714.1 283.7L712.1 281.8L710.0 281.8L707.5 281.8L705.2 282.1L702.9 282.7L698.5 284.4L696.9 285.4L694.4 286.2L691.8 285.4L690.6 285.5L688.6 284.9L686.8 284.9L683.4 285.4L681.5 286.2L678.7 287.3L678.1 287.3L677.4 287.3L674.5 285.9L671.9 283.7L669.5 282.1L667.6 280.3L666.8 280.1L664.8 278.9L663.3 277.4L662.9 276.3L662.5 274.2L661.3 272.5L660.2 271.3L659.4 271.0L658.7 270.4L658.4 269.1L658.0 268.5L657.2 268.0L655.7 266.8L654.5 266.7L653.9 265.8L653.9 265.4L653.0 264.8L652.8 264.2L652.4 262.0L652.7 260.7L651.5 258.5L650.1 257.4L651.4 256.9L652.8 254.9L653.4 253.4L653.2 251.8L654.0 250.4L654.3 247.7L654.0 244.8L653.7 243.4L653.9 242.0L653.2 240.6L651.7 239.4L651.9 238.2L652.0 236.8L653.1 236.0L654.0 234.5L653.8 233.6L654.8 231.6L656.3 229.7L657.3 229.3L658.1 227.6L658.1 226.0L659.1 224.3L661.0 223.2L662.8 220.3L664.3 219.1L666.9 218.8L669.1 216.9L670.5 216.1L672.9 213.7L672.2 210.1L673.3 207.6L673.6 206.1L675.5 204.2L678.3 202.8L680.4 201.7L682.3 198.7L683.2 196.9L685.2 196.9L686.9 198.2L689.6 198.0L692.6 198.6L693.8 198.6L696.5 197.1L699.5 196.5L701.3 195.4L704.0 194.5L708.8 194.0L713.5 193.7L714.9 194.2L717.6 193.0L720.6 193.0L721.8 193.7L723.7 193.5L726.7 192.3L728.7 192.7L728.6 194.2L731.0 193.1L731.2 193.6L729.8 195.0L729.8 196.4L730.8 197.1L730.4 199.6L728.6 201.0L729.1 202.6L730.6 202.6L731.3 204.0L732.3 204.5L735.6 205.5L736.8 205.2L739.2 205.7L743.0 207.0L744.2 209.5L746.8 210.1L750.8 211.3L753.8 212.7L755.1 212.0L756.5 210.6L755.9 208.5L756.7 207.0L758.8 205.7L760.7 205.3L764.5 205.9L765.5 207.2L766.6 207.2L767.5 207.7L770.2 208.0L770.9 209.0L774.7 208.9L777.4 209.7L780.2 210.5L781.5 211.0L783.7 210.1L784.9 209.3L787.4 209.0L789.4 209.4L790.1 210.8L791.1 209.9ZM839.8 335.7L840.5 336.9L841.2 338.8L841.7 342.3L842.4 343.6L842.1 345.0L841.6 345.8L840.7 344.1L840.1 345.0L840.7 347.1L840.4 348.4L839.6 349.0L839.5 351.4L838.3 354.8L837.0 358.8L835.2 364.2L834.1 368.2L832.9 371.6L830.5 372.2L828.1 373.5L826.5 372.7L824.2 371.7L823.4 370.2L823.3 367.6L822.3 365.3L822.0 363.3L822.5 361.2L823.8 360.7L823.8 359.7L825.2 357.5L825.4 355.7L824.8 354.3L824.2 352.5L824.0 349.9L825.0 348.3L825.4 346.5L826.8 346.3L828.3 345.7L829.4 345.2L830.6 345.2L832.2 343.6L834.6 341.8L835.4 340.3L835.0 339.1L836.2 339.4L837.8 337.5L837.8 335.7L838.8 334.4ZM894.5 439.7L896.3 440.6L899.0 441.0L899.1 441.5L898.3 442.8L894.0 443.0L893.9 441.5L894.3 440.3ZM592.6 455.2L596.9 455.7L598.8 457.2L597.7 457.7L594.0 456.3ZM998.6 316.6L995.5 316.7L993.1 314.3L989.5 311.9L988.3 310.2L986.2 307.9L984.7 305.7L982.6 301.7L980.1 299.3L979.3 296.8L978.2 294.6L975.7 292.8L974.2 290.3L972.1 288.7L969.2 285.5L968.9 284.0L970.7 284.1L975.1 284.7L977.6 287.5L979.8 289.5L981.3 290.7L984.0 293.8L986.9 293.8L989.3 295.8L990.9 298.2L993.0 299.5L991.9 301.8L993.5 302.8L994.5 302.9L995.0 304.9L996.0 306.5L998.1 306.8L999.4 308.6L998.7 312.2ZM1009.5 294.0L1011.6 295.0L1013.7 294.5L1014.3 292.0L1015.5 291.5L1018.9 290.9L1020.9 288.6L1022.3 286.8L1023.4 285.7L1025.8 284.1L1028.0 282.1L1029.4 279.9L1030.6 279.9L1032.0 281.3L1032.1 282.6L1034.0 283.4L1036.3 284.2L1036.1 285.4L1034.3 285.5L1034.8 286.9L1032.7 287.9L1031.1 290.5L1033.2 293.2L1032.7 294.5L1035.8 297.2L1032.5 297.6L1031.5 299.5L1031.7 302.1L1028.9 304.1L1028.9 306.9L1027.8 311.3L1027.4 310.3L1024.1 311.6L1023.0 309.9L1021.0 309.7L1019.6 308.8L1016.3 309.8L1015.2 308.4L1013.4 308.6L1011.1 308.2L1010.6 304.4L1009.2 303.6L1007.9 301.1L1007.5 298.6L1007.8 295.9ZM1078.6 303.1L1079.4 307.8L1082.3 309.5L1084.6 306.4L1087.9 304.7L1090.4 304.7L1092.8 305.7L1094.9 306.7L1097.9 307.3L1102.9 309.3L1108.0 310.9L1110.0 312.4L1111.6 313.8L1112.0 315.5L1116.7 317.3L1117.4 318.8L1114.8 319.1L1115.4 321.1L1117.9 322.9L1119.8 326.0L1121.4 325.9L1121.3 327.2L1123.5 327.6L1122.6 328.2L1125.6 329.4L1125.3 330.2L1123.4 330.4L1122.7 329.7L1120.3 329.4L1117.4 328.9L1115.3 327.1L1113.7 325.5L1112.2 323.0L1108.5 321.8L1106.1 322.6L1104.4 323.5L1104.7 325.6L1102.5 326.6L1101.0 326.2L1098.0 326.0L1095.5 323.7L1092.7 323.1L1092.0 323.9L1088.4 324.0L1089.6 321.7L1091.4 320.9L1090.6 317.7L1089.3 315.3L1083.8 312.9L1081.5 312.6L1077.2 310.0L1076.4 311.4L1075.3 311.6L1074.7 310.6L1074.7 309.3L1072.5 307.9L1075.6 306.9L1077.6 306.9L1077.3 306.2L1073.2 306.2L1072.1 304.5L1069.5 303.9L1068.4 302.5L1072.2 301.8L1073.6 300.9L1078.2 302.0ZM1105.2 339.4L1106.2 341.7L1108.0 340.6L1108.9 341.8L1110.3 342.9L1110.0 344.2L1110.6 346.7L1111.0 348.1L1111.7 348.5L1112.5 350.9L1112.2 352.4L1113.2 354.3L1116.2 355.8L1118.2 357.2L1120.1 358.5L1119.7 359.2L1121.3 361.0L1122.4 364.1L1123.6 363.4L1124.7 364.7L1125.4 364.2L1125.9 367.3L1127.9 369.1L1129.2 370.2L1131.4 372.5L1132.2 374.8L1132.3 376.4L1132.1 378.2L1133.4 380.7L1133.3 383.2L1132.8 384.6L1132.0 387.1L1132.1 388.8L1131.5 390.8L1130.3 393.4L1128.2 394.9L1127.1 397.1L1126.2 398.5L1125.4 401.0L1124.3 402.4L1123.6 404.6L1123.2 406.6L1123.3 407.5L1121.7 408.5L1118.6 408.6L1116.0 409.8L1114.7 410.9L1113.0 412.1L1110.6 410.8L1108.9 410.3L1109.3 408.8L1107.8 409.4L1105.3 411.5L1102.9 410.7L1101.3 410.2L1099.7 410.0L1096.9 409.2L1095.1 407.4L1094.6 405.2L1093.9 402.6L1092.5 402.6L1089.8 402.2L1090.7 400.9L1090.1 398.7L1088.7 400.7L1086.2 401.2L1087.6 399.7L1088.1 398.0L1089.2 396.6L1088.9 394.5L1086.7 396.9L1084.9 397.9L1083.8 400.2L1081.6 399.0L1081.7 397.5L1079.9 395.4L1078.4 394.3L1078.9 393.6L1075.3 391.9L1073.4 391.8L1070.6 390.4L1065.6 390.7L1061.9 392.5L1058.7 392.7L1056.0 392.5L1053.0 394.0L1050.6 394.6L1050.0 396.1L1049.0 397.3L1046.6 397.4L1044.8 397.6L1042.3 397.1L1040.3 397.4L1038.3 397.6L1036.7 399.1L1035.9 398.9L1034.5 399.8L1033.1 400.7L1031.0 400.6L1029.1 400.6L1026.1 398.7L1024.6 398.2L1024.7 396.5L1026.1 396.2L1026.5 395.5L1026.5 394.5L1026.8 392.5L1026.5 390.7L1025.0 387.8L1024.5 386.2L1024.7 384.6L1023.5 382.7L1023.5 381.9L1022.2 380.7L1021.9 378.4L1020.3 376.2L1019.9 374.9L1021.1 376.2L1020.1 373.5L1021.6 374.3L1022.4 375.5L1022.3 374.0L1020.9 371.7L1020.7 370.8L1020.0 369.9L1020.3 368.3L1020.9 367.6L1021.3 366.1L1021.0 364.5L1022.1 362.4L1022.4 364.6L1023.6 362.6L1025.8 361.7L1027.2 360.4L1029.4 359.4L1030.7 359.1L1031.4 359.5L1033.7 358.4L1035.4 358.1L1035.8 357.5L1036.5 357.2L1038.1 357.3L1041.1 356.4L1042.6 355.2L1043.3 353.6L1045.0 352.2L1045.1 351.0L1045.2 349.4L1047.2 347.0L1048.3 349.5L1049.6 348.9L1048.5 347.6L1049.4 346.1L1050.7 346.8L1051.0 344.6L1052.6 343.2L1053.3 342.0L1054.7 341.5L1054.7 340.7L1056.0 341.1L1056.0 340.4L1057.2 339.9L1058.6 339.6L1060.7 340.9L1062.3 342.6L1064.0 342.6L1065.8 342.9L1065.2 341.3L1066.6 339.0L1067.8 338.2L1067.4 337.5L1068.6 335.9L1070.3 334.8L1071.8 335.2L1074.2 334.6L1074.1 333.2L1072.0 332.2L1073.6 331.8L1075.4 332.5L1076.9 333.7L1079.3 334.4L1080.1 334.2L1081.9 335.0L1083.5 334.2L1084.6 334.5L1085.2 333.9L1086.5 335.3L1085.8 336.9L1084.7 338.0L1083.7 338.1L1084.1 339.3L1083.2 340.7L1082.2 342.1L1082.4 343.0L1084.7 344.5L1086.8 345.5L1088.3 346.5L1090.3 348.2L1091.1 348.2L1092.6 348.9L1093.0 349.8L1095.7 350.8L1097.6 349.8L1098.1 348.2L1098.7 347.0L1099.1 345.4L1099.9 343.1L1099.5 341.7L1099.7 340.9L1099.4 339.2L1099.8 337.0L1100.3 336.5L1099.9 335.5L1100.6 334.0L1101.1 332.4L1101.2 331.6L1102.2 330.5L1103.0 331.9L1103.2 333.7L1103.9 334.1L1104.0 335.3L1105.1 336.7L1105.3 338.4ZM1110.4 417.2L1113.1 418.2L1114.6 417.8L1116.8 417.2L1118.5 417.4L1118.7 420.8L1117.8 421.8L1117.4 424.1L1116.5 423.3L1114.5 425.3L1113.9 425.2L1112.2 425.1L1110.4 422.6L1110.1 420.7L1108.4 418.2L1108.5 416.9ZM1178.9 425.1L1181.3 423.6L1183.0 422.1L1184.2 420.0L1185.3 419.2L1185.7 417.6L1187.7 416.3L1188.3 417.5L1189.0 418.7L1191.0 417.6L1191.8 418.8L1191.8 420.0L1190.8 421.3L1188.9 423.4L1187.5 424.6L1188.5 426.0L1186.3 426.0L1183.9 427.1L1183.2 429.0L1181.6 431.9L1179.3 433.2L1177.9 434.0L1175.3 433.9L1173.5 433.0L1170.4 432.8L1170.0 431.7L1171.5 429.6L1175.0 426.7L1176.8 426.2ZM1042.4 246.6L1044.1 247.4L1045.0 246.6L1045.3 247.4L1044.8 248.6L1045.8 250.6L1045.0 253.0L1043.3 254.0L1042.9 256.3L1043.5 258.6L1045.0 258.9L1046.3 258.5L1049.8 260.2L1049.6 261.7L1050.5 262.4L1050.2 263.7L1048.0 262.3L1046.9 260.8L1046.2 261.9L1044.4 260.2L1041.8 260.6L1040.4 259.9L1040.6 258.7L1041.5 258.0L1040.6 257.3L1040.2 258.4L1038.9 256.7L1038.4 255.5L1038.3 252.7L1039.5 253.7L1039.8 249.2L1040.7 246.5ZM1056.7 275.6L1057.0 277.5L1057.1 279.1L1056.2 281.8L1055.1 278.8L1053.8 280.3L1054.7 282.4L1053.9 283.7L1050.6 282.1L1049.8 280.0L1050.6 278.6L1048.9 277.3L1048.0 278.5L1046.6 278.3L1044.6 279.9L1044.1 279.1L1045.2 276.7L1047.0 275.9L1048.5 274.8L1049.5 276.1L1051.6 275.3L1052.1 274.0L1054.1 273.9L1053.9 271.7L1056.2 273.1L1056.5 274.5ZM1037.3 267.1L1037.8 269.4L1035.9 271.0L1034.5 273.0L1030.7 275.7L1032.1 273.7L1034.1 272.0L1035.8 269.9ZM1050.7 263.7L1053.4 263.7L1054.2 264.8L1055.0 268.0L1052.8 267.3L1052.9 268.2L1053.6 270.0L1052.2 270.7L1052.1 268.6L1051.3 268.5L1050.8 266.7L1052.5 266.9L1052.4 265.9ZM1048.5 268.3L1048.1 270.3L1047.1 272.8L1045.4 271.9L1046.0 271.1L1046.7 270.3L1047.0 268.5ZM1044.0 265.6L1045.7 266.5L1047.5 266.5L1047.4 267.7L1046.1 268.9L1044.3 269.8L1044.2 268.4L1044.4 266.9ZM1039.6 261.0L1042.0 261.2L1043.0 262.2L1042.2 264.7L1041.0 263.3ZM1050.1 267.4L1050.0 270.2L1048.8 271.2L1048.1 272.8L1048.8 269.9ZM1049.4 271.3L1051.4 270.9L1051.5 271.9L1050.0 272.2ZM1047.7 263.8L1050.0 265.0L1048.8 265.4L1047.6 264.7Z" fill="#d3d3d3"/>
<path d="M742.6 70.6L743.7 69.6L747.9 69.5L751.4 70.5L760.7 72.6L753.6 73.8L752.0 75.9L749.6 76.4L748.2 78.8L744.8 78.9L738.7 77.2L741.3 76.1L737.1 75.3L731.6 72.9L729.4 70.6L737.1 69.6L738.6 70.6ZM777.3 69.5L773.1 71.0L764.9 71.4L756.6 70.9L756.1 70.1L752.0 70.0L748.9 68.7L757.7 67.9L761.8 68.6L764.6 67.7L771.7 68.5ZM769.7 75.8L763.4 77.0L758.4 76.3L760.4 75.6L758.6 74.7L764.5 74.1L765.6 75.2ZM851.0 87.6L857.7 85.1L856.9 83.8L863.3 82.3L872.6 80.4L882.0 79.9L886.8 78.8L892.3 78.4L894.3 79.6L892.4 80.5L882.4 81.9L873.7 83.3L865.0 86.0L860.8 88.8L856.4 91.6L856.9 94.0L862.3 96.3L860.6 96.6L851.4 96.2L850.7 94.9L845.6 94.2L845.2 92.6L848.1 92.0L847.9 90.4L853.6 88.0ZM832.6 69.1L838.2 69.4L845.3 68.2L841.0 67.1L834.3 67.6L826.4 67.9ZM850.9 69.1L860.8 69.4L867.9 68.5L872.1 67.1L863.6 65.9L855.2 67.1ZM874.9 67.9L883.4 67.6L883.4 66.5L876.3 66.8ZM982.0 72.9L975.9 73.2L968.0 72.4L963.3 71.3L961.2 69.2L957.3 68.7L964.6 66.7L970.7 66.0L976.2 67.5L982.7 70.3ZM996.5 74.5L980.6 75.6L985.8 71.9L988.1 71.5L990.2 71.7L997.4 73.4ZM1091.8 80.7L1099.3 80.9L1109.5 82.4L1107.3 84.5L1096.8 84.5L1092.2 85.1L1086.6 83.3L1088.1 81.3ZM1118.3 83.0L1125.4 83.8L1122.2 84.9L1117.6 84.7L1112.4 83.5L1113.1 82.6ZM1094.7 88.7L1097.4 87.6L1100.9 87.3L1104.9 88.4L1105.3 89.2L1101.0 89.2L1095.2 88.9ZM1208.0 94.0L1204.5 95.2L1204.9 96.2L1208.0 96.0ZM191.8 96.0L195.5 95.8L198.4 95.2L198.6 94.8L191.8 94.0ZM691.4 131.1L688.4 134.2L691.3 133.8L694.4 133.9L693.6 136.2L691.1 138.8L694.0 138.9L696.8 142.7L698.7 143.1L700.4 146.4L701.2 147.5L704.6 148.1L704.3 149.9L702.9 150.7L704.0 152.2L701.5 153.7L697.7 153.7L692.9 154.5L691.5 153.9L689.7 155.3L687.1 155.0L685.1 156.1L683.6 155.5L687.7 152.5L690.3 151.8L685.8 151.4L685.0 150.2L688.0 149.3L686.4 147.8L687.0 145.9L691.2 146.2L691.6 144.5L689.7 142.7L686.2 142.2L685.6 141.4L686.6 140.1L685.6 139.3L684.1 140.7L684.0 137.9L682.5 136.4L683.6 133.5L685.8 131.1L688.0 131.4ZM682.4 144.8L682.9 146.9L680.7 149.4L675.7 151.1L671.7 150.7L674.0 147.7L672.5 144.8L676.4 142.5L678.5 141.2L680.9 141.1L683.9 142.9ZM658.9 108.6L658.3 110.5L661.5 112.4L657.8 114.6L649.7 116.6L647.2 117.1L643.5 116.7L635.6 115.8L638.4 114.5L632.3 113.1L637.3 112.6L637.1 111.7L631.2 111.0L633.1 109.2L637.4 108.7L641.8 110.7L646.1 109.1L649.7 109.9L654.3 108.4ZM472.6 87.8L479.7 87.9L484.5 89.5L484.5 90.4L481.7 90.2L478.6 90.1L475.5 90.5L471.5 88.9ZM344.4 93.0L345.6 91.8L347.6 89.7L350.0 87.8L347.3 86.1L356.8 85.6L360.8 86.2L368.0 86.4L370.8 87.2L373.8 88.4L370.3 89.1L363.3 91.2L359.8 93.2L359.8 94.4L352.4 95.8L350.9 94.6ZM390.6 78.9L393.5 79.2L394.4 80.6L395.5 81.6L398.0 81.1L401.0 81.2L401.5 82.6L399.8 84.0L390.2 84.5L383.1 85.7L378.8 85.8L378.4 84.8L384.3 83.6L371.6 83.9L367.6 83.4L371.4 80.6L374.1 79.8L382.1 80.7L387.1 82.4L392.0 82.7L388.0 79.9ZM353.1 80.8L357.9 78.7L363.7 76.8L368.0 76.8L371.9 76.4L371.5 78.6L369.3 79.6L366.7 79.8L361.4 81.0L356.9 81.4ZM421.8 79.1L424.0 80.4L424.1 81.9L422.8 84.0L418.1 84.3L415.1 83.9L415.2 82.2L410.5 82.4L410.3 80.2L413.4 80.3L417.7 79.3L421.6 79.5ZM434.5 83.2L435.7 84.1L434.1 85.2L430.0 85.0L426.6 84.2L428.1 82.9L432.1 82.2ZM474.6 84.3L472.8 85.0L468.6 85.6L464.9 85.3L456.8 85.7L451.1 85.8L446.5 85.4L439.0 84.5L438.0 82.9L437.7 81.5L434.8 80.2L429.0 79.9L425.7 79.0L426.8 77.8L432.6 78.0L435.8 78.9L441.3 78.9L443.7 79.9L443.1 80.9L446.3 81.6L448.1 82.3L451.9 82.4L456.0 82.6L460.5 82.0L466.3 81.8L470.9 82.0L473.9 83.0ZM433.1 86.5L439.0 86.6L444.4 87.3L440.2 89.9L436.8 90.4L433.8 92.6L430.6 92.5L428.8 90.0L428.8 88.5L430.3 87.3ZM416.4 90.6L413.3 88.7L416.6 87.4L420.0 88.0L425.0 87.6L425.7 88.4L423.1 89.8L427.4 91.0L426.9 93.6L422.2 94.8L419.5 94.5L417.6 93.4L410.5 91.2L410.6 90.3ZM429.9 101.0L428.1 102.0L424.3 101.1L422.0 101.4L418.2 100.1L420.6 99.2L422.6 98.0L425.6 98.8L427.3 99.3L428.2 99.9ZM465.3 121.0L463.4 120.9L462.8 120.1L464.9 118.8L468.8 118.8L468.7 119.4ZM474.3 120.3L475.4 120.4L476.1 121.0L475.0 122.5L473.8 122.2L473.0 121.4ZM485.7 106.6L482.6 106.8L481.9 105.3L483.1 103.7L485.6 103.3L487.9 104.1L487.9 105.4ZM454.2 70.6L457.7 71.5L453.8 72.4L448.5 74.6L443.6 74.8L437.7 74.4L434.7 73.2L434.7 72.2L436.9 71.4L431.8 71.5L428.7 70.5L426.9 69.2L430.8 67.0L433.7 66.8L432.4 66.2L439.0 66.0L442.6 67.6L452.0 68.7ZM417.4 74.5L418.5 75.7L413.9 75.3L409.3 74.4L403.0 74.3L405.7 73.4L402.3 72.7L402.1 71.7L407.6 72.0L415.3 73.1ZM425.1 73.0L426.8 73.2L430.1 74.2L429.4 75.2L425.2 75.8L422.9 75.2L421.7 74.1L421.5 72.9ZM385.1 72.9L386.7 73.1L390.3 73.7L386.9 74.2L382.2 74.2L382.2 73.8ZM388.8 76.3L383.6 77.1L379.4 76.2L381.7 75.3L385.8 75.0L389.8 75.4ZM367.2 90.6L374.7 88.9L377.5 89.5L376.1 90.8L382.6 89.9L386.4 91.4L389.7 89.9L394.5 89.5L395.9 92.5L393.9 89.5L396.4 89.1L399.3 89.5L402.4 90.7L404.0 93.5L405.0 95.6L409.7 97.0L414.8 98.4L414.5 99.6L409.9 99.8L411.7 100.9L410.7 102.0L405.6 101.5L400.8 100.8L397.5 100.9L392.2 101.9L380.0 102.6L378.5 101.3L374.6 100.5L372.1 100.8L368.6 98.5L370.5 98.2L374.9 97.7L378.9 97.9L382.5 97.3L377.1 96.7L371.0 96.9L367.1 96.9L365.6 95.8L372.1 94.6L367.7 94.7L362.8 93.9L365.2 91.8ZM459.5 110.9L460.0 112.2L461.5 111.7L463.1 112.5L466.2 113.5L469.4 114.3L469.7 115.7L471.7 115.5L473.8 116.4L471.3 117.4L466.9 116.7L465.3 115.4L462.5 116.9L458.5 118.4L457.5 116.7L453.7 117.0L456.1 115.6L456.5 113.3L457.5 110.7Z" fill="#dadada"/>
<path d="M632.7 255.8L633.7 256.1L633.6 256.9L632.7 256.6ZM635.1 253.0L636.0 253.3L635.7 253.9L635.1 253.8ZM628.3 250.6L629.3 250.3L629.5 251.0L628.5 251.2ZM630.7 251.9L632.1 252.0L631.9 252.3ZM652.2 218.2L654.4 217.7L653.0 219.2ZM659.8 218.7L660.9 217.2L660.7 219.0ZM655.3 219.2L656.4 219.0L656.1 220.0ZM822.1 332.9L822.7 334.0L822.0 333.7ZM856.0 359.9L857.4 360.5L856.6 361.2ZM861.9 357.3L863.1 357.9L862.2 358.8ZM723.9 290.0L725.2 289.2L724.6 290.3ZM1105.4 153.8L1108.2 158.9L1104.1 157.9L1102.3 162.1L1105.1 165.0L1105.0 167.1L1102.9 165.3L1101.0 167.5L1100.5 165.1L1100.8 162.3L1100.5 159.2L1101.2 157.0L1101.3 153.2L1099.6 150.4L1099.9 146.5L1102.5 145.1L1101.4 143.8L1102.6 143.4L1103.3 145.3L1104.3 148.1L1104.3 150.9ZM1106.2 172.7L1108.1 173.3L1110.1 172.1L1110.8 175.3L1106.6 176.1L1104.1 179.0L1099.7 177.0L1098.1 180.2L1095.0 180.2L1094.6 177.4L1096.0 175.1L1099.0 175.0L1099.8 171.0L1100.7 168.8L1104.0 171.7ZM1097.9 192.9L1096.8 195.2L1097.3 196.7L1095.8 198.7L1092.2 200.1L1087.3 200.2L1083.2 203.5L1081.3 202.4L1081.2 200.3L1076.3 200.9L1073.0 202.3L1069.7 202.3L1072.5 204.4L1070.6 209.3L1068.8 210.5L1067.5 209.4L1068.2 206.8L1066.4 206.0L1065.2 204.0L1067.9 203.1L1069.4 201.3L1072.2 199.8L1074.3 197.9L1079.9 197.0L1082.9 197.6L1085.9 192.5L1087.8 193.8L1091.9 191.0L1093.5 189.8L1095.3 186.3L1094.8 183.1L1096.0 181.3L1099.0 180.7L1100.5 184.7L1100.4 187.1L1097.8 190.0ZM1080.0 201.6L1080.4 202.5L1078.7 204.3L1077.6 203.4L1076.1 204.0L1075.4 205.7L1073.6 204.9L1073.6 203.5L1075.1 201.8L1076.7 202.2L1077.9 200.9ZM1112.1 172.1L1114.9 170.3L1119.4 168.6L1118.3 169.8L1114.3 171.8ZM1129.0 164.6L1131.8 162.0L1131.0 163.7ZM1138.0 155.7L1140.6 153.9L1139.2 155.4ZM1056.2 204.0L1058.1 203.4L1057.3 204.3ZM1006.5 319.3L1012.0 319.6L1012.6 318.4L1017.8 319.8L1018.8 321.6L1023.1 322.2L1026.5 323.9L1023.3 325.0L1020.2 323.8L1017.7 323.9L1014.7 323.7L1012.1 323.2L1008.8 322.1L1006.7 321.8L1005.6 322.2L1000.4 320.9L999.9 319.7L997.4 319.5L999.3 316.8L1002.7 316.9L1005.0 318.1L1006.2 318.3ZM1032.7 323.1L1033.7 323.9L1035.5 323.6L1036.2 324.9L1032.9 325.4L1031.0 325.8L1029.5 325.8L1030.4 324.1L1032.0 324.1ZM1046.8 323.1L1046.5 324.7L1042.2 325.5L1038.4 325.1L1038.4 324.1L1040.7 323.5L1042.4 324.4L1044.3 324.1ZM1035.8 327.3L1038.4 326.7L1039.9 327.6L1040.9 328.5L1040.7 329.3L1039.5 329.3ZM1027.1 324.0L1029.1 323.7L1028.8 325.4L1027.1 325.1ZM1052.7 325.4L1053.0 324.7L1055.5 324.1L1057.4 324.0L1058.3 323.6L1059.4 324.0L1058.3 324.7L1055.4 326.0L1053.0 326.8L1051.2 329.0L1048.8 329.6L1048.4 329.3L1048.7 328.3L1049.9 326.5ZM1063.2 296.5L1063.1 299.1L1061.6 298.8L1061.2 300.5L1062.3 302.0L1061.5 302.4L1060.4 300.6L1059.6 296.9L1060.1 294.6L1061.0 293.6L1061.2 295.1L1062.9 295.4ZM1068.2 308.7L1069.2 310.9L1066.9 309.7L1064.5 309.5L1062.9 309.7L1061.0 309.6L1061.6 308.0L1065.1 307.9ZM1059.1 309.8L1058.1 310.7L1056.1 310.2L1055.6 308.9L1058.4 308.8ZM997.7 304.4L999.7 304.7L1001.1 307.3L999.4 308.1L998.0 305.8ZM1128.9 315.6L1127.5 315.8L1127.0 316.6L1125.5 317.3L1124.0 318.0L1122.5 318.0L1120.2 317.1L1118.6 316.3L1118.8 315.5L1121.4 315.9L1122.9 315.7L1123.7 314.2L1124.0 315.7L1125.6 315.5L1126.4 314.5L1128.0 313.5L1127.7 311.8L1129.4 311.7L1130.0 312.2L1129.9 313.8ZM1125.2 307.7L1126.0 307.0L1127.5 307.8L1128.5 308.4L1129.7 309.1L1130.8 310.3L1131.9 311.3L1132.2 312.7L1131.3 313.5L1130.8 311.8L1130.2 310.7L1128.9 309.8L1127.2 308.5ZM1136.8 315.2L1137.6 315.8L1139.0 317.6L1140.3 318.6L1139.9 319.4L1139.2 319.7L1137.9 318.6L1136.7 316.8L1136.1 314.6L1136.5 314.3ZM1150.6 327.5L1152.6 326.8L1154.0 328.2L1152.9 328.3L1151.2 328.0ZM1154.0 323.7L1155.2 326.0L1156.3 327.4L1155.9 327.9L1153.8 325.5L1153.2 323.7ZM1147.0 320.9L1150.6 322.9L1151.2 323.8L1151.4 324.4L1147.6 322.1L1146.5 321.1ZM1141.8 318.8L1143.5 320.0L1144.6 320.9L1144.1 321.1L1142.8 320.5L1141.7 319.3ZM1156.9 329.1L1158.1 330.0L1157.5 330.9L1155.8 329.7ZM1171.8 345.5L1172.0 345.5L1171.6 342.8L1170.3 341.9L1170.7 344.9ZM1173.7 347.2L1172.8 347.6L1171.8 346.3L1172.0 345.5ZM1167.9 360.4L1170.2 362.2L1171.7 363.6L1170.6 364.2L1169.1 363.5L1167.0 362.2L1165.2 360.6L1163.4 358.6L1163.0 357.7L1164.2 357.7L1165.8 358.7L1167.0 359.6ZM1203.4 349.7L1204.4 350.5L1203.9 352.0L1202.2 352.4L1200.6 352.0L1200.4 350.8L1201.5 349.8L1202.8 350.1ZM1206.2 348.1L1204.5 348.7L1204.1 347.7L1205.5 347.1L1206.4 346.9L1208.0 346.0L1208.0 347.4ZM1199.3 415.1L1198.2 416.6L1196.8 418.6L1194.6 419.7L1194.1 419.0L1192.9 418.6L1194.6 416.2L1193.6 414.6L1190.6 413.5L1190.7 412.4L1192.7 411.4L1193.2 409.2L1193.1 407.3L1191.9 405.4L1192.0 404.9L1190.7 403.7L1188.4 401.2L1187.3 399.1L1188.3 398.9L1189.8 400.5L1192.0 401.3L1192.8 403.8L1194.9 406.9L1194.9 404.9L1196.2 405.7L1196.6 407.9L1198.9 408.8L1200.8 409.0L1202.4 407.9L1203.9 408.3L1203.2 410.8L1202.3 412.5L1200.2 412.4L1199.4 413.3L1199.7 414.5ZM1172.8 434.4L1174.7 434.6L1174.4 435.6L1172.8 435.7ZM1053.5 295.7L1051.2 298.6L1049.1 299.1L1046.3 298.6L1041.7 298.7L1039.2 299.1L1038.8 301.3L1041.3 303.9L1042.8 302.6L1048.1 301.6L1047.9 302.9L1046.6 302.5L1045.4 304.2L1042.9 305.3L1045.6 309.0L1045.1 310.0L1047.6 313.3L1047.6 315.2L1046.1 316.0L1045.0 315.0L1046.3 312.6L1043.6 313.8L1042.9 312.9L1043.2 311.9L1041.2 310.2L1041.4 307.4L1039.5 308.2L1039.8 311.6L1039.9 315.7L1038.1 316.1L1036.9 315.3L1037.7 312.6L1037.2 309.8L1036.1 309.8L1035.2 307.9L1036.3 306.0L1036.7 303.7L1038.2 299.4L1038.8 298.2L1041.2 296.0L1043.4 296.9L1046.9 297.3L1050.2 297.2L1053.0 295.1ZM467.7 233.1L470.1 233.3L472.3 233.3L475.0 234.3L476.1 235.4L478.7 235.0L479.7 235.7L482.1 237.5L483.9 238.8L484.8 238.8L486.5 239.3L486.3 240.1L488.4 240.3L490.5 241.5L490.2 242.1L488.3 242.5L486.4 242.6L484.4 242.4L480.4 242.7L482.3 241.1L481.1 240.3L479.3 240.1L478.4 239.3L477.7 237.7L476.1 237.8L473.4 237.0L472.6 236.4L468.9 236.0L467.9 235.4L469.0 234.7L466.2 234.5L464.2 236.0L463.0 236.1L462.6 236.8L461.2 237.1L460.0 236.8L461.5 235.9L462.1 234.9L463.4 234.2L464.8 233.7L467.0 233.4ZM497.5 243.1L497.8 242.6L500.0 242.6L501.7 243.4L502.4 243.3L502.9 244.3L504.5 244.2L504.4 245.1L505.6 245.2L507.0 246.3L506.0 247.4L504.7 246.8L503.4 246.9L502.4 246.8L501.9 247.3L500.8 247.5L500.4 246.8L499.5 247.2L498.3 249.2L497.6 248.7L497.5 247.9L495.6 247.4L494.3 247.6L492.6 247.4L491.2 247.9L489.7 247.0L490.0 246.1L492.6 246.5L494.7 246.7L495.7 246.1L494.4 244.8L494.4 243.8L492.6 243.3L493.3 242.5L495.0 242.6ZM480.9 246.6L482.8 246.9L484.3 247.6L484.8 248.3L482.8 248.4L481.9 248.8L480.4 248.4L478.7 247.4L479.1 246.7L480.3 246.5ZM512.8 246.5L514.2 246.8L514.7 247.4L514.0 248.1L511.9 248.1L510.3 248.2L510.1 246.9L510.5 246.5ZM479.2 227.3L480.0 227.4L481.0 229.8L481.0 231.4L480.3 231.6L479.6 229.9L478.5 229.1ZM482.5 223.3L482.0 225.3L481.5 225.0L481.6 223.5L480.3 222.3L480.3 222.0ZM476.9 222.7L478.3 222.5L480.1 222.6L480.2 223.3L477.1 223.8ZM525.8 268.8L527.4 268.5L528.0 268.6L527.9 270.7L525.5 271.0L525.0 270.8L525.8 270.0ZM441.9 301.0L442.7 300.8L443.0 302.4L442.0 302.2ZM234.1 142.7L236.4 141.9L238.6 141.9L238.1 142.7L235.5 143.3ZM226.2 146.5L229.9 144.4L230.7 145.0L227.9 146.5ZM222.8 147.6L225.6 145.9L226.2 146.5L223.4 147.8ZM205.9 150.2L208.7 149.3L211.5 149.9L208.1 150.3ZM199.7 151.1L201.6 150.3L203.1 150.8L200.8 151.3ZM1188.3 147.9L1189.7 147.3L1186.9 147.3ZM257.5 239.7L258.8 239.6L259.5 240.1L259.3 240.4L258.4 240.6ZM253.2 237.8L254.0 237.5L254.9 238.5L253.5 238.5ZM248.8 236.3L248.9 236.1L250.1 235.9L250.0 236.6L249.7 236.9Z" fill="#e3e3e3"/>
<path d="M781.8 181.1L779.2 180.1L778.7 179.0L778.0 177.3L779.1 175.3L780.5 174.0L781.3 170.6L783.5 169.5L785.7 167.4L786.7 165.8L789.3 165.4L792.0 167.3L793.9 167.2L791.6 169.4L794.6 170.2L794.0 171.6L795.5 172.2L799.4 170.5L802.5 170.0L803.0 169.0L800.1 169.2L798.8 168.5L798.6 166.7L801.0 165.6L803.7 165.4L805.6 164.5L807.8 164.3L810.3 163.8L810.4 164.5L807.7 166.9L806.2 165.6L805.5 169.2L803.4 169.6L805.9 171.3L809.1 172.4L812.7 174.9L816.9 177.1L817.6 179.1L817.2 180.3L813.9 181.8L811.4 181.6L808.2 182.0L804.1 180.9L799.2 178.9L794.5 178.9L791.2 179.7L787.8 181.6L782.4 181.2ZM831.7 171.5L834.5 168.5L838.5 166.3L841.1 165.7L844.4 164.4L846.8 165.2L849.6 165.0L850.1 166.8L849.6 169.6L847.2 169.2L844.8 169.6L844.7 171.7L841.9 171.5L842.0 172.4L843.6 173.1L844.8 175.7L848.1 176.7L848.6 177.7L848.0 179.6L849.0 181.4L849.3 179.3L852.6 178.0L854.5 178.9L854.4 182.0L851.9 182.9L849.3 182.2L850.5 184.8L849.8 186.8L852.0 187.7L851.6 190.7L852.1 192.8L851.9 193.4L847.4 194.2L843.4 193.7L841.5 192.3L838.8 191.7L837.9 189.6L837.8 188.1L838.8 187.5L839.4 186.4L839.8 184.2L842.2 184.0L841.3 183.2L840.0 183.1L838.5 181.0L837.0 179.5L834.0 176.1L834.2 174.2ZM775.3 183.6L777.0 183.4L781.5 183.6L784.3 182.6L781.8 181.7L778.9 181.8L776.7 182.7ZM778.7 271.0L780.9 271.0L781.5 272.5L780.4 273.3L778.7 272.8Z" fill="#fff"/>
<path d="M1114.3 304.1L1141.7 304.1L1141.7 334.3L1114.3 334.3Z" fill="#fff" fill-opacity="0.75"/>
<path d="M980.2 280.8L989.3 280.8L993.5 288.3L995.8 296.9L991.5 297.2L985.0 292.6L982.8 286.9L981.9 282.5Z" fill="#fff" fill-opacity="0.7"/>
<path d="M1058.4 298.4L1083.3 298.4L1083.3 312.7L1058.4 312.7Z" fill="#fff" fill-opacity="0.5"/>
<path d="M1008.5 293.5L1014.1 291.2L1018.9 290.0L1025.4 283.1L1029.6 278.8L1033.0 279.7L1028.8 284.8L1023.4 289.4L1020.3 293.2L1016.1 294.3L1011.8 296.3L1008.7 295.8Z" fill="#fff" fill-opacity="0.8"/>
<path d="M478.3 247.7L527.7 247.7L527.7 269.6L502.3 268.4L495.2 263.0L478.3 263.0Z" fill="#fff" fill-opacity="0.7"/>
<path d="M496.6 268.4L527.7 269.3L527.7 271.9L496.6 271.3Z" fill="#fff" fill-opacity="0.4"/>
<path d="M529.1 273.9L539.0 280.8L548.9 282.0L555.9 286.6L553.7 289.4L547.5 285.7L537.6 284.8L530.0 279.1Z" fill="#fff" fill-opacity="0.5"/>
<path d="M311.7 129.5L321.6 131.2L331.5 139.3L336.3 147.3L341.4 154.5L351.3 161.1L345.6 162.3L334.3 156.0L323.0 145.9L311.7 134.4Z" fill="#fff" fill-opacity="0.45"/>
<path d="M369.2 206.2L372.5 206.0L376.0 205.7L375.8 206.2L380.1 207.6L386.5 209.7L392.1 209.6L394.3 209.6L394.3 208.5L399.2 208.5L400.3 209.5L401.7 210.4L403.4 211.6L404.3 213.1L405.0 214.7L406.5 215.6L408.8 216.5L410.6 214.2L412.9 214.1L414.9 215.3L416.3 217.2L417.3 218.9L419.0 220.6L419.6 222.6L420.4 223.9L422.6 224.8L424.6 225.5L425.8 225.3L424.7 227.9L424.1 229.9L423.8 233.9L423.5 235.4L424.1 236.8L424.9 238.2L425.5 240.5L427.5 242.5L428.0 244.3L429.2 245.7L432.3 246.3L433.4 247.7L435.9 246.9L437.9 246.6L440.2 246.0L441.9 245.4L443.6 244.3L444.4 240.2L445.0 239.4L447.0 238.5L450.1 237.9L452.4 238.1L454.2 237.8L454.9 238.5L454.7 239.8L453.2 241.5L452.6 243.3L453.2 243.7L452.6 245.1L452.0 247.2L451.2 246.6L450.6 246.6L450.1 246.6L449.1 248.4L448.6 248.0L448.2 248.1L448.3 248.6L445.6 248.5L443.0 248.5L443.0 250.2L441.7 250.2L442.8 251.1L443.8 251.8L444.1 252.4L444.6 252.6L444.5 253.6L440.9 253.6L439.5 255.9L439.9 256.5L439.6 257.1L439.5 258.0L436.3 254.9L434.8 253.9L432.6 253.2L431.0 253.4L428.8 254.5L427.3 254.8L425.3 254.0L423.2 253.5L420.6 252.1L418.4 251.8L415.3 250.4L412.9 249.0L412.2 248.3L410.6 248.1L407.7 247.2L406.6 245.9L403.5 244.3L402.1 242.4L401.5 241.0L402.4 240.7L402.1 240.0L402.7 239.2L402.7 238.2L401.8 236.9L401.5 235.7L400.6 234.3L398.1 231.4L395.3 229.2L393.9 227.4L391.5 226.2L391.0 225.5L391.4 223.7L389.9 223.0L388.3 221.7L387.6 219.6L386.0 219.4L384.4 217.9L383.1 216.5L383.0 215.6L381.5 213.5L380.4 211.2L380.5 210.1L378.4 209.0L377.5 209.1L375.9 208.3L375.4 209.5L375.9 210.9L376.2 213.0L377.1 214.2L379.2 216.2L379.7 216.9L380.1 217.1L380.5 218.1L381.0 218.0L381.6 219.9L382.4 220.6L383.0 221.6L384.8 223.1L385.8 225.8L386.6 227.0L387.4 228.4L387.5 229.9L388.9 230.0L390.0 231.3L391.0 232.6L391.0 233.1L389.8 234.1L389.3 234.1L388.5 232.4L386.7 230.8L384.7 229.4L383.2 228.6L383.3 226.5L382.9 225.0L381.5 224.1L379.6 222.8L379.2 223.2L378.5 222.4L376.8 221.7L375.1 220.0L375.3 219.8L376.5 220.0L377.5 218.9L377.6 217.6L375.5 215.6L373.8 214.8L372.7 213.0L371.7 211.1L370.4 208.8Z" fill="#fdc171" stroke="#fdc171" stroke-width="0.5" stroke-linejoin="round"/>
<path d="M439.5 258.0L439.6 257.1L439.9 256.5L439.5 255.9L440.9 253.6L444.5 253.6L444.6 252.6L444.1 252.4L443.8 251.8L442.8 251.1L441.7 250.2L443.0 250.2L443.0 248.5L445.6 248.5L448.3 248.6L448.2 250.8L448.0 254.1L448.9 254.1L449.8 254.6L450.9 254.6L449.6 255.6L448.2 256.4L448.0 257.0L448.2 257.6L447.7 258.3L447.0 258.5L447.2 258.8L446.6 259.1L445.7 259.9L445.5 260.3L444.1 259.8L442.4 259.7L441.0 259.1Z" fill="#f1f9a9" stroke="#f1f9a9" stroke-width="0.5" stroke-linejoin="round"/>
<path d="M452.0 261.2L452.3 260.1L451.9 259.8L451.3 259.6L450.1 260.0L450.0 259.6L449.1 259.1L448.5 258.5L447.7 258.3L447.0 258.5L447.2 258.8L446.6 259.1L445.7 259.9L445.5 260.3L446.4 261.0L447.9 261.1L449.2 261.7L450.1 261.9L451.8 262.0Z" fill="#fcfeba" stroke="#fcfeba" stroke-width="0.5" stroke-linejoin="round"/>
<path d="M450.9 254.6L451.8 254.1L453.2 254.2L454.6 254.5L456.0 254.3L457.1 253.8L458.8 254.1L459.9 253.8L461.6 254.3L463.3 255.5L464.5 255.8L465.2 256.6L464.2 256.6L463.8 257.0L462.8 257.4L462.1 257.4L461.5 257.7L460.9 257.6L460.5 257.2L460.2 257.2L459.8 257.9L459.5 257.9L459.5 258.5L458.5 259.3L458.0 259.6L457.7 260.0L456.8 259.4L456.2 260.2L455.7 260.2L455.0 260.2L455.1 261.7L454.6 261.7L454.3 262.3L453.5 262.4L452.9 261.5L452.0 261.2L452.3 260.1L451.9 259.8L451.3 259.6L450.1 260.0L450.0 259.6L449.1 259.1L448.5 258.5L447.7 258.3L448.2 257.6L448.0 257.0L448.2 256.4L449.6 255.6Z" fill="#3682ba" stroke="#3682ba" stroke-width="0.5" stroke-linejoin="round"/>
<path d="M465.2 256.6L465.0 258.7L464.2 260.7L464.2 262.7L464.2 264.1L463.6 265.6L463.8 268.2L463.1 268.9L462.2 268.8L461.8 268.2L460.9 267.9L460.2 268.3L458.4 267.5L458.0 267.9L457.0 267.0L455.7 265.9L455.0 264.9L453.8 264.0L452.4 262.7L452.7 262.2L453.2 262.7L453.5 262.4L454.3 262.3L454.6 261.7L455.1 261.7L455.0 260.2L455.7 260.2L456.2 260.2L456.8 259.4L457.7 260.0L458.0 259.6L458.5 259.3L459.5 258.5L459.5 257.9L459.8 257.9L460.2 257.2L460.5 257.2L460.9 257.6L461.5 257.7L462.1 257.4L462.8 257.4L463.8 257.0L464.2 256.6Z" fill="#5b53a4" stroke="#5b53a4" stroke-width="0.5" stroke-linejoin="round"/>
<path d="M467.0 272.2L467.8 273.3L469.3 273.9L470.1 274.5L471.5 274.2L472.6 273.6L474.3 273.0L475.2 272.2L476.9 272.3L478.3 272.8L479.4 273.2L480.6 274.2L481.5 274.9L481.2 275.3L481.9 277.0L481.3 277.8L480.4 277.6L480.0 279.1L479.1 278.2L478.6 276.6L479.1 275.9L478.6 275.6L478.0 274.8L476.6 273.9L475.2 274.2L474.6 275.1L472.9 275.9L472.6 276.5L474.1 278.1L473.2 278.5L471.5 279.1L471.0 277.4L469.8 277.6L469.3 276.5L467.3 275.9L465.9 276.2L465.7 276.7L466.1 275.9L466.0 275.0L466.4 274.1L465.8 273.7L465.8 272.5Z" fill="#fca55d" stroke="#fca55d" stroke-width="0.5" stroke-linejoin="round"/>
<path d="M481.5 274.9L483.0 274.9L485.1 272.9L486.3 272.6L486.3 271.7L486.8 269.2L488.4 267.9L490.2 267.9L490.4 267.3L492.7 267.5L494.9 266.1L496.0 265.4L497.3 264.0L498.3 264.2L499.1 265.0L498.5 265.9L496.7 266.4L496.0 267.8L494.9 268.7L494.1 269.7L493.7 271.8L493.0 273.5L494.4 273.6L494.8 275.0L495.4 275.6L495.6 276.8L495.3 277.8L495.4 278.5L496.1 278.7L496.8 279.7L500.4 279.4L502.0 279.8L504.0 282.3L505.1 281.9L507.2 282.1L508.8 281.8L509.8 282.3L509.3 283.8L508.7 284.8L508.4 286.9L509.0 288.8L509.8 289.6L509.9 290.2L508.5 291.7L509.5 292.3L510.3 293.3L511.1 296.2L510.6 296.5L510.0 294.9L509.2 293.9L508.3 294.9L502.8 294.9L502.9 296.7L504.5 297.0L504.4 298.1L503.8 297.8L502.2 298.2L502.2 300.3L503.5 301.4L503.9 303.0L503.9 304.3L502.6 312.2L501.2 310.6L500.3 310.6L502.1 307.7L500.0 306.3L498.3 306.5L497.3 306.0L495.7 306.8L493.6 306.4L492.0 303.4L490.7 302.7L489.8 301.3L487.9 300.0L487.1 300.2L485.9 299.6L484.5 298.6L483.7 299.1L481.3 298.6L480.6 297.4L480.1 297.5L477.3 295.8L476.9 294.9L478.0 294.7L477.8 293.3L478.5 292.2L479.9 292.0L481.1 290.2L482.2 288.7L481.1 288.0L481.7 286.4L481.0 283.7L481.6 283.0L481.2 280.6L480.0 279.1L480.4 277.6L481.3 277.8L481.9 277.0L481.2 275.3Z" fill="#fed07e" stroke="#fed07e" stroke-width="0.5" stroke-linejoin="round"/>
<path d="M473.2 309.6L474.7 307.5L474.1 306.2L473.0 307.5L471.3 306.3L471.9 305.5L471.4 302.8L472.4 302.4L472.9 300.6L474.0 298.8L473.8 297.6L475.4 297.0L477.3 295.8L480.1 297.5L480.6 297.4L481.3 298.6L483.7 299.1L484.5 298.6L485.9 299.6L487.1 300.2L487.5 302.4L486.7 304.3L483.5 307.3L480.2 308.4L478.4 310.9L477.9 312.9L476.3 314.1L475.1 312.6L474.0 312.3L472.8 312.5L472.7 311.5L473.6 310.8Z" fill="#9cd7a4" stroke="#9cd7a4" stroke-width="0.5" stroke-linejoin="round"/>
<path d="M501.2 352.6L498.4 350.9L498.2 349.7L492.6 346.9L487.5 343.7L485.3 341.9L484.2 339.6L484.6 338.8L482.2 335.0L479.5 329.7L476.8 323.9L475.6 322.6L474.7 320.5L472.5 318.6L470.5 317.5L471.4 316.2L470.1 313.4L471.0 311.4L473.2 309.6L473.6 310.8L472.7 311.5L472.8 312.5L474.0 312.3L475.1 312.6L476.3 314.1L477.9 312.9L478.4 310.9L480.2 308.4L483.5 307.3L486.7 304.3L487.5 302.4L487.1 300.2L487.9 300.0L489.8 301.3L490.7 302.7L492.0 303.4L493.6 306.4L495.7 306.8L497.3 306.0L498.3 306.5L500.0 306.3L502.1 307.7L500.3 310.6L501.2 310.6L502.6 312.2L500.1 312.0L499.7 312.5L497.3 313.0L494.1 315.0L493.9 316.3L493.2 317.3L493.5 318.9L491.8 319.7L491.8 320.9L491.0 321.4L492.2 324.0L493.8 325.8L493.2 327.0L495.1 327.2L496.1 328.7L498.6 328.8L500.9 327.1L500.7 331.5L502.0 331.8L503.6 331.3L506.0 335.9L505.5 336.9L505.3 338.9L505.3 341.4L504.2 342.8L504.7 343.9L504.0 344.9L505.2 347.3L503.4 350.4L502.7 351.8Z" fill="#f7844e" stroke="#f7844e" stroke-width="0.5" stroke-linejoin="round"/>
<path d="M501.2 352.6L502.7 351.8L503.4 350.4L504.8 352.3L505.2 354.4L506.7 355.6L505.8 358.4L507.3 361.6L508.4 365.6L510.4 365.2L510.8 365.9L509.8 368.9L506.8 370.3L506.8 375.1L506.3 376.1L507.1 377.2L505.1 379.0L503.2 381.7L502.3 384.3L502.5 387.1L500.8 390.1L502.1 395.0L502.8 395.5L502.8 398.2L501.2 401.0L501.3 403.4L499.1 405.3L499.1 407.9L500.0 410.7L498.3 411.8L497.5 414.3L496.9 417.3L497.3 420.8L496.2 421.4L496.9 424.7L498.2 425.8L497.2 427.0L498.5 427.6L498.8 428.6L497.6 429.2L497.9 430.9L496.9 434.7L495.4 437.1L495.7 438.6L494.8 440.4L492.6 441.7L492.9 444.7L493.9 445.8L495.8 445.6L495.7 447.8L496.9 449.4L503.7 449.8L506.3 450.3L506.8 450.6L504.3 450.8L500.0 452.0L499.5 454.6L498.3 454.8L495.1 453.8L491.8 451.8L488.3 450.2L487.4 448.3L488.2 446.6L486.8 444.7L486.5 439.8L487.7 437.1L490.6 434.8L486.4 434.0L489.1 431.5L490.0 426.7L493.1 427.7L494.6 421.7L492.7 421.0L491.8 424.6L490.1 424.1L490.9 420.0L491.9 414.7L493.2 412.8L492.4 409.9L492.2 406.7L493.3 406.6L495.1 402.0L497.0 397.4L498.2 393.1L497.6 388.8L498.4 386.4L498.1 382.8L499.7 379.3L500.3 373.8L501.2 367.8L502.0 361.3L501.8 356.6ZM506.2 451.2L506.2 457.7L504.5 459.5L502.4 458.6L499.5 458.2L495.9 456.6L493.0 455.0L489.1 451.8L491.4 452.4L495.4 454.4L499.2 455.4L500.6 454.1L501.5 452.1L504.1 450.9Z" fill="#fa9b58" stroke="#fa9b58" stroke-width="0.5" stroke-linejoin="round"/>
<path d="M691.8 285.4L690.8 281.8L691.5 278.6L692.7 276.2L691.9 272.1L691.5 269.9L691.6 268.3L696.5 268.1L697.8 268.3L698.7 267.9L700.0 268.1L699.8 269.0L700.9 270.5L700.9 272.6L701.2 274.8L701.9 275.9L701.3 278.5L701.5 279.9L702.3 281.7L702.9 282.7L698.5 284.4L696.9 285.4L694.4 286.2Z" fill="#5eb9a9" stroke="#5eb9a9" stroke-width="0.5" stroke-linejoin="round"/>
<path d="M723.9 286.1L724.6 284.0L726.0 281.3L726.8 281.2L728.5 279.5L729.5 279.5L731.1 280.7L733.1 279.7L733.3 278.5L733.9 277.4L734.4 275.9L735.9 274.7L736.5 272.7L737.1 272.1L737.5 270.6L738.2 268.7L740.6 266.5L740.7 265.6L741.1 265.0L739.9 263.9L740.0 263.0L740.8 262.8L741.9 264.6L742.1 266.5L742.0 268.5L743.6 271.1L742.0 271.1L741.2 271.3L739.9 271.0L739.3 272.3L740.9 274.0L742.2 274.5L742.6 275.7L743.5 277.7L743.0 278.5L741.6 281.4L740.9 281.9L740.7 284.1L741.0 285.3L740.8 286.2L742.1 287.7L742.4 288.7L743.4 290.2L744.7 291.1L744.8 292.4L745.1 293.3L744.9 294.8L742.7 294.2L740.4 293.4L736.8 293.3L736.5 293.1L734.8 293.5L733.1 293.1L731.7 293.3L727.1 293.2L727.6 291.0L726.4 289.1L725.2 288.6L724.6 287.3L723.9 286.9Z" fill="#fafdb7" stroke="#fafdb7" stroke-width="0.5" stroke-linejoin="round"/>
<path d="M740.8 262.8L739.3 261.4L738.1 258.5L739.3 254.7L743.0 252.0L743.1 248.2L744.2 242.4L744.8 241.1L743.6 240.2L743.6 239.2L742.5 238.5L741.8 234.0L744.7 232.4L755.9 237.9L767.2 243.5L767.3 254.9L764.9 254.7L763.6 256.8L762.9 258.6L763.4 259.3L762.5 260.1L762.9 261.3L762.1 262.5L761.8 263.6L762.8 263.4L763.4 264.5L763.4 266.2L764.5 267.1L764.4 267.8L762.7 268.2L761.2 269.4L759.2 272.5L756.5 273.9L753.8 273.7L753.0 274.0L753.3 275.0L751.8 276.0L750.6 277.1L747.1 278.2L746.4 277.6L745.9 277.5L745.4 278.2L743.0 278.5L743.5 277.7L742.6 275.7L742.2 274.5L740.9 274.0L739.3 272.3L739.9 271.0L741.2 271.3L742.0 271.1L743.6 271.1L742.0 268.5L742.1 266.5L741.9 264.6Z" fill="#b5e1a2" stroke="#b5e1a2" stroke-width="0.5" stroke-linejoin="round"/>
<path d="M734.7 317.3L735.9 317.0L736.7 317.0L737.7 316.7L746.0 316.7L746.7 318.8L747.5 320.6L748.1 321.5L749.2 323.0L751.1 322.8L752.0 322.4L753.6 322.8L754.0 322.1L754.7 320.4L756.5 320.3L756.6 319.8L758.1 319.8L757.8 320.8L761.2 320.8L761.3 322.6L761.9 323.7L761.4 325.4L761.7 327.2L762.6 328.3L762.5 331.7L763.1 331.4L764.4 331.5L766.1 331.1L767.4 331.2L767.7 332.1L767.4 333.5L767.9 334.9L767.5 336.0L767.7 336.9L761.8 336.9L761.7 346.1L763.6 348.4L765.5 350.2L760.3 351.4L753.4 351.0L751.4 349.6L740.0 349.7L739.6 349.9L737.9 348.6L736.1 348.5L734.4 349.0L733.0 349.6L732.8 347.8L733.2 345.2L734.1 342.6L734.3 341.4L735.2 338.8L735.9 337.6L737.5 335.7L738.4 334.4L738.7 332.3L738.5 330.7L737.7 329.6L736.9 327.9L736.3 326.2L736.4 325.6L737.3 324.4L736.4 321.7L735.8 319.7L734.4 317.9ZM734.3 316.5L733.5 314.3L734.7 313.1L735.5 312.6L736.6 313.6L735.6 314.2L735.1 314.9L735.0 316.1Z" fill="#da464d" stroke="#da464d" stroke-width="0.5" stroke-linejoin="round"/>
<path d="M733.0 349.6L734.4 349.0L736.1 348.5L737.9 348.6L739.6 349.9L740.0 349.7L751.4 349.6L753.4 351.0L760.3 351.4L765.5 350.2L767.7 349.6L769.6 349.7L770.7 350.4L770.7 350.6L769.1 351.3L768.3 351.3L766.5 352.4L765.4 351.2L761.0 352.2L758.9 352.3L758.8 362.5L756.1 362.7L756.1 371.1L756.0 381.7L753.5 383.1L752.0 383.4L750.3 382.8L749.0 382.6L748.5 381.4L747.4 380.6L746.0 382.0L743.9 379.8L742.8 377.7L742.2 374.9L741.5 372.8L740.6 368.4L740.5 365.0L740.2 363.4L739.1 362.2L737.6 359.8L736.1 356.4L735.5 354.6L733.2 351.8Z" fill="#fed683" stroke="#fed683" stroke-width="0.5" stroke-linejoin="round"/>
<path d="M792.6 376.7L790.4 376.7L790.2 375.4L789.8 374.1L789.5 373.1L790.0 369.9L789.3 367.9L787.9 363.8L790.9 360.6L791.7 358.5L792.1 358.2L792.4 356.5L792.0 355.7L792.1 353.5L792.6 351.5L792.6 347.9L791.2 347.0L789.8 346.8L789.2 346.0L787.9 345.4L785.5 345.5L785.4 344.4L785.1 342.4L793.7 340.0L795.3 341.4L796.1 341.1L797.2 341.8L797.3 343.0L796.8 344.3L797.0 346.3L798.8 348.1L799.7 346.1L800.9 345.5L800.7 341.8L799.5 339.8L798.5 338.8L797.5 338.9L796.7 335.1L797.5 332.9L799.6 332.7L803.0 333.5L803.7 333.1L805.7 333.1L806.7 332.2L808.4 332.3L811.5 331.2L813.7 329.5L814.2 330.8L814.1 333.6L814.4 336.2L814.5 340.7L815.0 342.1L814.2 344.1L813.1 346.1L811.3 347.9L808.7 349.0L805.5 350.4L802.3 353.5L801.2 354.0L799.3 356.0L798.1 356.7L797.9 358.8L799.2 360.9L799.7 362.6L799.8 363.5L800.3 363.4L800.2 366.2L799.7 367.5L800.4 368.0L800.0 369.2L798.8 370.2L796.5 371.2L793.1 372.8L791.8 373.8L792.1 375.0L792.8 375.2Z" fill="#3f77b5" stroke="#3f77b5" stroke-width="0.5" stroke-linejoin="round"/>
<path d="M790.4 376.7L789.9 378.0L788.2 378.3L786.5 376.7L786.5 375.8L787.3 374.7L787.5 373.8L788.3 373.6L789.8 374.1L790.2 375.4Z" fill="#feea9b" stroke="#feea9b" stroke-width="0.5" stroke-linejoin="round"/>
<path d="M810.6 313.3L806.5 310.4L806.3 308.7L796.1 302.8L795.6 302.5L795.6 299.5L796.4 298.3L797.8 296.4L798.8 294.3L797.6 291.0L797.2 289.6L795.9 287.6L797.3 287.0L799.6 286.4L801.4 286.4L802.0 287.0L804.0 287.0L807.5 289.4L808.4 289.5L809.1 289.4L809.7 289.7L811.6 290.0L812.4 288.8L815.0 287.5L816.1 288.5L818.1 288.5L815.6 291.8L815.6 302.3L817.3 304.6L815.3 305.8L814.6 307.0L813.6 307.2L813.2 309.2L812.3 310.4L811.7 312.3Z" fill="#8fd2a4" stroke="#8fd2a4" stroke-width="0.5" stroke-linejoin="round"/>
<path d="M785.8 303.1L786.9 304.7L786.7 306.4L785.9 306.7L784.4 306.6L783.5 308.2L781.8 308.0L782.1 306.4L782.5 306.2L782.6 304.5L783.4 303.7L784.1 303.9Z" fill="#fbfdb8" stroke="#fbfdb8" stroke-width="0.5" stroke-linejoin="round"/>
<path d="M782.7 312.7L782.6 309.3L781.8 308.0L783.5 308.2L784.4 306.6L785.9 306.7L786.1 307.9L786.7 308.5L786.7 309.5L786.0 310.1L784.9 311.6L783.9 312.6Z" fill="#5e4fa2" stroke="#5e4fa2" stroke-width="0.5" stroke-linejoin="round"/>
<path d="M1004.9 237.8L1000.7 235.9L1001.2 234.2L998.6 233.7L997.2 232.6L994.8 234.1L992.1 234.5L989.9 234.5L988.3 235.2L986.9 235.6L987.3 238.9L985.8 238.8L985.5 238.1L985.4 236.9L983.4 237.8L982.1 237.3L980.1 236.2L980.9 233.8L979.1 233.2L978.4 230.6L975.4 231.0L975.8 227.6L978.4 225.2L978.6 222.9L978.5 220.7L977.3 220.0L976.3 218.3L974.7 218.5L971.6 215.1L969.2 216.3L966.9 215.6L963.6 217.4L961.0 219.5L958.8 219.9L957.5 219.1L956.0 219.1L954.0 218.4L952.5 219.1L950.6 221.3L950.4 219.0L948.7 219.6L945.4 219.3L942.2 218.7L939.9 217.4L937.7 216.8L936.7 215.4L935.2 215.0L932.3 213.1L930.1 212.3L928.9 213.0L924.9 211.0L922.2 209.1L921.4 206.0L923.4 206.4L923.5 204.9L922.4 203.4L922.7 201.1L919.6 197.7L915.0 196.5L914.2 194.3L912.1 193.0L911.6 192.1L911.1 190.5L911.2 189.4L909.5 188.7L908.6 189.0L907.9 186.4L908.7 185.7L908.3 185.0L911.0 183.7L913.0 183.1L915.9 183.5L917.0 181.6L920.6 181.3L921.6 180.2L926.1 178.6L926.5 178.0L926.2 176.3L928.2 175.6L925.7 170.6L931.2 169.4L932.7 168.8L934.7 163.6L940.3 164.6L941.9 163.3L942.0 160.4L944.4 160.1L946.5 158.2L947.6 158.0L948.4 160.0L950.7 161.5L954.8 162.6L956.7 164.9L955.6 168.3L956.7 169.5L960.0 170.0L963.8 170.4L967.2 172.2L969.0 172.5L970.2 175.2L971.9 176.9L975.0 176.8L980.8 177.5L984.6 177.1L987.4 177.5L991.5 179.2L995.0 179.2L996.2 180.1L999.5 178.6L1004.1 177.6L1008.3 177.5L1011.6 176.5L1013.6 174.9L1015.6 174.0L1015.1 173.0L1014.2 171.9L1015.7 170.0L1017.3 170.3L1020.2 170.9L1023.0 169.4L1027.3 168.2L1029.4 166.3L1031.4 165.5L1035.5 165.1L1037.7 165.5L1038.0 164.4L1035.5 162.4L1033.2 161.5L1031.0 162.6L1028.2 162.1L1026.6 162.5L1025.9 161.3L1027.9 158.5L1029.3 156.3L1032.7 157.4L1036.7 155.5L1036.6 154.3L1039.2 151.2L1040.7 150.3L1040.7 148.7L1039.2 148.0L1041.5 146.6L1045.0 146.1L1048.7 146.0L1053.0 146.9L1055.5 147.9L1057.2 150.8L1058.3 152.1L1059.2 153.8L1060.3 156.6L1065.2 157.6L1068.5 159.6L1069.7 162.3L1074.0 162.3L1076.4 161.2L1081.1 160.3L1079.6 162.9L1078.5 164.0L1077.5 167.1L1075.6 169.9L1072.2 169.4L1069.8 170.4L1070.5 172.9L1070.1 176.3L1068.7 176.4L1068.7 177.8L1066.9 176.1L1065.8 177.8L1061.4 179.0L1061.8 180.5L1059.4 180.4L1058.1 179.5L1056.1 181.5L1053.0 183.1L1050.7 184.9L1046.8 185.8L1044.7 187.1L1041.6 187.9L1043.1 186.6L1042.6 185.4L1044.8 183.5L1043.3 182.0L1040.8 183.0L1037.6 185.0L1035.9 186.9L1033.1 187.0L1031.7 188.3L1033.2 190.3L1035.5 190.8L1035.6 192.1L1037.8 192.9L1041.0 190.8L1043.5 192.0L1045.3 192.1L1045.8 193.6L1041.8 194.4L1040.5 195.9L1037.7 197.4L1036.3 199.4L1039.3 200.9L1040.4 203.8L1042.1 206.4L1044.1 208.6L1044.0 210.8L1042.2 211.5L1042.9 213.1L1044.6 214.0L1044.1 216.3L1043.4 218.6L1041.8 218.8L1039.8 222.0L1037.5 225.7L1034.9 229.2L1031.0 231.8L1027.1 234.3L1023.9 234.6L1022.1 235.9L1021.2 234.9L1019.6 236.4L1015.6 237.8L1012.7 238.2L1011.7 241.3L1010.1 241.5L1009.4 239.4L1010.0 238.2L1006.3 237.3ZM1011.4 246.1L1009.0 247.4L1006.6 246.5L1006.6 244.1L1007.9 242.8L1011.0 242.0L1012.7 242.0L1013.3 243.1L1012.0 244.4ZM1043.7 229.6L1042.0 234.2L1040.8 236.6L1039.3 234.2L1039.0 232.0L1040.6 229.2L1042.9 227.0L1044.2 227.9Z" fill="#f8864f" stroke="#f8864f" stroke-width="0.5" stroke-linejoin="round"/>
<path d="M1042.4 246.6L1044.1 247.4L1045.0 246.6L1045.3 247.4L1044.8 248.6L1045.8 250.6L1045.0 253.0L1043.3 254.0L1042.9 256.3L1043.5 258.6L1045.0 258.9L1046.3 258.5L1049.8 260.2L1049.6 261.7L1050.5 262.4L1050.2 263.7L1048.0 262.3L1046.9 260.8L1046.2 261.9L1044.4 260.2L1041.8 260.6L1040.4 259.9L1040.6 258.7L1041.5 258.0L1040.6 257.3L1040.2 258.4L1038.9 256.7L1038.4 255.5L1038.3 252.7L1039.5 253.7L1039.8 249.2L1040.7 246.5ZM1056.7 275.6L1057.0 277.5L1057.1 279.1L1056.2 281.8L1055.1 278.8L1053.8 280.3L1054.7 282.4L1053.9 283.7L1050.6 282.1L1049.8 280.0L1050.6 278.6L1048.9 277.3L1048.0 278.5L1046.6 278.3L1044.6 279.9L1044.1 279.1L1045.2 276.7L1047.0 275.9L1048.5 274.8L1049.5 276.1L1051.6 275.3L1052.1 274.0L1054.1 273.9L1053.9 271.7L1056.2 273.1L1056.5 274.5ZM1037.3 267.1L1037.8 269.4L1035.9 271.0L1034.5 273.0L1030.7 275.7L1032.1 273.7L1034.1 272.0L1035.8 269.9ZM1050.7 263.7L1053.4 263.7L1054.2 264.8L1055.0 268.0L1052.8 267.3L1052.9 268.2L1053.6 270.0L1052.2 270.7L1052.1 268.6L1051.3 268.5L1050.8 266.7L1052.5 266.9L1052.4 265.9ZM1048.5 268.3L1048.1 270.3L1047.1 272.8L1045.4 271.9L1046.0 271.1L1046.7 270.3L1047.0 268.5ZM1044.0 265.6L1045.7 266.5L1047.5 266.5L1047.4 267.7L1046.1 268.9L1044.3 269.8L1044.2 268.4L1044.4 266.9ZM1039.6 261.0L1042.0 261.2L1043.0 262.2L1042.2 264.7L1041.0 263.3ZM1050.1 267.4L1050.0 270.2L1048.8 271.2L1048.1 272.8L1048.8 269.9ZM1049.4 271.3L1051.4 270.9L1051.5 271.9L1050.0 272.2ZM1047.7 263.8L1050.0 265.0L1048.8 265.4L1047.6 264.7Z" fill="#fdbb6c" stroke="#fdbb6c" stroke-width="0.5" stroke-linejoin="round"/>
</g><g filter="url(#soft)">
<path d="M225.4 716.2L229.9 714.7L235.8 713.6L237.8 715.0L243.4 715.0L241.2 713.3L237.8 712.2L235.8 710.7L233.0 709.6L229.0 708.4L230.7 707.0L235.8 707.0L239.2 705.5L240.0 704.1L242.9 702.9L245.7 702.7L251.0 701.2L253.6 701.5L257.8 699.8L262.1 700.6L264.3 701.8L265.4 701.2L270.2 701.5L270.0 702.1L274.5 702.7L277.3 702.4L283.2 703.2L288.6 703.5L290.8 703.8L294.5 703.2L298.8 704.1L301.9 704.7L307.2 705.2L311.7 706.7L314.6 707.0L317.1 705.8L320.5 705.0L324.7 705.2L329.0 704.1L333.5 703.2L335.5 704.4L337.4 703.8L338.3 702.4L340.2 702.7L344.8 705.2L348.7 703.2L349.0 705.5L352.4 705.0L353.5 704.1L356.9 704.4L361.4 705.5L367.9 706.7L371.9 707.3L374.7 707.0L378.4 708.4L374.4 709.9L379.5 710.4L387.1 710.1L389.7 709.6L392.5 711.3L395.6 709.9L392.8 708.7L394.5 707.6L398.0 707.6L400.1 707.3L402.6 707.8L405.5 709.6L408.6 709.3L413.4 710.7L417.9 710.1L422.1 710.1L421.6 708.4L424.1 707.8L428.6 709.0L428.6 711.6L430.3 709.3L432.6 709.3L434.0 706.4L430.9 704.7L427.5 703.5L427.8 700.4L431.2 698.3L434.8 698.6L437.6 700.1L441.6 703.2L439.1 704.7L444.4 705.2L444.1 708.1L448.1 705.8L451.5 707.8L450.6 709.9L453.2 711.9L456.3 709.9L458.3 707.3L458.5 704.1L462.5 704.4L466.7 704.7L470.4 706.1L470.7 707.6L468.4 709.3L470.4 710.7L470.1 712.2L464.7 714.2L460.8 714.5L457.7 713.6L456.8 715.0L454.3 717.6L453.5 718.8L450.1 720.8L446.1 721.1L443.9 722.2L443.6 723.9L440.5 724.5L436.8 726.8L434.0 730.0L432.8 732.3L432.6 735.7L436.8 736.0L437.9 738.9L439.3 740.9L443.3 740.3L448.7 741.5L451.5 742.6L453.5 744.1L456.8 745.0L459.9 746.1L464.5 746.4L467.6 746.7L467.3 749.0L468.1 751.9L470.1 755.0L474.3 757.9L476.6 757.0L478.0 753.9L476.6 749.6L474.6 747.8L479.1 746.7L482.2 744.7L483.9 742.6L483.7 740.6L481.7 738.0L478.3 736.0L481.7 732.9L480.3 730.3L479.4 726.0L481.4 725.1L486.2 726.0L489.0 726.3L491.6 725.7L494.1 726.5L497.5 728.3L498.3 729.4L503.4 729.4L503.4 732.0L504.3 735.5L506.8 736.0L509.1 737.8L513.0 736.0L515.8 732.9L517.5 731.7L519.8 734.3L523.5 737.8L526.6 741.3L525.4 743.2L529.1 744.7L531.6 746.4L536.3 747.3L538.1 748.1L539.3 750.4L541.2 751.0L542.4 751.9L542.7 755.3L540.7 756.2L538.7 757.3L533.9 758.2L530.5 760.8L525.7 761.1L519.5 760.5L515.3 760.5L512.5 760.8L510.2 762.8L506.5 763.9L502.4 768.0L499.2 770.6L501.4 770.0L506.1 766.2L512.0 763.9L516.1 763.7L518.7 765.1L516.1 766.8L517.0 770.0L517.8 772.3L521.5 773.7L526.3 773.1L529.1 770.0L529.4 772.0L531.1 773.1L527.7 774.9L521.3 776.6L518.7 777.7L515.3 780.1L513.3 779.8L513.0 777.2L518.1 774.9L513.6 774.9L510.5 775.4L510.8 776.3L507.9 777.7L504.8 778.7L502.0 779.5L500.6 781.2L500.0 783.5L500.9 784.9L502.0 784.9L502.3 785.5L500.6 785.8L499.2 785.8L496.9 786.4L494.1 786.7L491.8 787.5L491.0 788.4L491.0 789.0L490.4 791.0L488.5 793.3L488.2 792.4L486.8 791.6L487.3 793.1L487.9 794.4L487.0 795.9L485.6 798.2L485.4 797.9L484.5 795.6L484.8 792.7L483.9 793.9L484.5 796.2L484.5 798.8L485.4 799.0L486.2 802.8L484.2 805.1L481.4 805.9L479.4 807.7L478.0 807.7L476.6 808.8L476.3 809.7L473.2 811.7L471.5 813.1L470.4 814.9L469.8 816.9L470.4 818.9L471.2 821.2L472.6 823.2L472.6 824.6L473.8 827.8L473.8 831.0L472.9 832.7L472.1 833.0L470.7 832.7L470.4 831.5L469.3 830.7L467.8 828.4L466.4 826.1L465.9 821.5L463.6 819.2L462.5 818.6L459.7 820.0L459.1 819.8L457.7 818.3L456.0 817.7L452.9 818.0L450.3 817.7L448.1 818.0L447.0 818.3L447.5 819.2L447.5 820.3L448.1 820.9L447.5 821.2L446.4 820.9L445.3 821.5L443.3 821.5L441.3 819.8L438.8 820.2L436.8 819.5L435.1 819.8L432.6 820.3L430.0 822.6L427.2 823.8L425.8 825.2L424.9 826.4L424.9 828.4L425.2 829.8L425.8 830.7L424.7 833.3L424.1 835.3L423.8 839.3L423.5 840.8L424.1 842.2L424.9 843.6L425.5 845.9L427.5 847.9L428.0 849.7L429.2 851.1L432.3 851.7L433.4 853.1L435.9 852.3L437.9 852.0L440.2 851.4L441.9 850.8L443.6 849.7L444.4 845.6L445.0 844.8L447.0 843.9L450.1 843.3L452.4 843.5L454.2 843.2L454.9 843.9L454.7 845.2L453.2 846.9L452.6 848.7L453.2 849.1L452.6 850.5L452.0 852.6L451.2 852.0L450.6 852.0L451.2 853.1L450.6 854.6L450.9 856.3L450.3 857.7L448.9 859.5L449.8 860.0L450.9 860.0L451.8 859.5L453.2 859.6L454.6 859.9L456.0 859.7L457.1 859.2L458.8 859.5L459.9 859.2L461.6 859.7L463.3 860.9L464.5 861.2L465.2 862.0L465.0 864.1L464.2 866.1L464.2 868.1L464.2 869.5L463.6 871.0L463.8 873.6L463.1 874.4L464.5 875.3L465.6 876.4L467.0 877.6L467.8 878.7L469.3 879.3L470.1 879.9L471.5 879.6L472.6 879.0L474.3 878.4L475.2 877.6L476.9 877.7L478.3 878.2L479.4 878.6L480.6 879.6L481.5 880.3L481.1 882.2L480.0 884.5L479.1 883.6L478.6 882.0L479.1 881.3L478.6 881.0L478.0 880.2L476.6 879.3L475.2 879.6L474.6 880.5L472.9 881.3L472.6 881.9L474.1 883.5L473.2 883.9L471.5 884.5L471.0 882.8L469.8 883.0L469.3 881.9L467.3 881.3L465.9 881.6L465.7 882.1L464.2 880.9L463.6 880.3L463.9 879.9L463.6 879.2L461.9 877.9L460.9 877.6L460.8 876.7L459.9 876.1L460.2 877.0L459.7 877.7L459.0 876.9L458.1 876.6L457.7 876.1L457.7 875.2L458.1 874.3L458.0 873.3L457.0 872.4L455.7 871.3L455.0 870.3L453.8 869.4L452.4 868.1L452.7 867.6L453.2 868.1L453.5 867.8L452.9 866.9L452.0 866.6L451.8 867.4L450.1 867.3L449.2 867.1L447.9 866.5L446.4 866.4L445.5 865.7L444.1 865.2L442.4 865.1L441.0 864.5L439.5 863.4L436.3 860.3L434.8 859.3L432.6 858.6L431.0 858.8L428.8 859.9L427.3 860.2L425.3 859.4L423.2 858.9L420.6 857.5L418.4 857.2L415.3 855.8L412.9 854.4L412.2 853.7L410.6 853.5L407.7 852.6L406.6 851.3L403.5 849.7L402.1 847.8L401.5 846.4L402.4 846.1L402.1 845.4L402.7 844.6L402.7 843.6L401.8 842.3L401.5 841.1L400.6 839.7L398.1 836.8L395.3 834.6L393.9 832.8L391.5 831.6L391.0 830.9L391.4 829.1L389.9 828.4L388.3 827.1L387.6 825.0L386.0 824.8L384.4 823.3L383.1 821.9L383.0 821.0L381.5 818.9L380.4 816.6L380.5 815.5L378.4 814.4L377.5 814.5L375.9 813.7L375.4 814.9L375.9 816.3L376.2 818.4L377.1 819.6L379.2 821.6L379.7 822.3L380.1 822.5L380.5 823.5L381.0 823.4L381.6 825.3L382.4 826.0L383.0 827.0L384.8 828.5L385.8 831.2L386.6 832.4L387.4 833.8L387.5 835.3L388.9 835.4L390.0 836.7L391.0 838.0L391.0 838.5L389.8 839.5L389.3 839.5L388.5 837.8L386.7 836.2L384.7 834.8L383.2 834.0L383.3 831.9L382.9 830.4L381.5 829.5L379.6 828.2L379.2 828.6L378.5 827.8L376.8 827.1L375.1 825.4L375.3 825.2L376.5 825.4L377.5 824.3L377.6 823.0L375.5 821.0L373.8 820.2L372.7 818.4L371.7 816.5L370.4 814.2L369.2 811.6L368.8 810.1L367.0 808.5L365.6 808.1L365.3 807.3L363.7 807.2L362.7 806.4L360.1 806.1L359.4 805.6L359.1 804.0L356.3 801.2L353.9 797.2L354.1 796.5L352.8 795.6L350.6 793.1L350.2 790.8L348.7 789.2L349.3 786.8L349.3 784.4L348.4 782.2L349.5 779.4L350.1 774.2L349.6 770.4L348.7 767.9L347.9 766.6L348.2 766.0L352.3 767.0L353.8 769.7L354.5 768.9L354.1 766.6L353.1 764.2L352.7 763.4L347.3 761.4L345.3 760.1L340.1 759.0L338.6 756.4L339.0 754.6L335.4 753.4L334.9 751.1L331.5 749.0L331.4 747.5L329.8 746.4L327.3 745.5L326.6 743.0L322.9 740.7L321.4 738.0L318.7 737.8L314.2 737.7L310.9 736.9L305.0 733.9L302.3 733.4L297.4 732.3L293.5 732.6L287.9 731.3L284.6 730.0L281.5 730.7L282.0 732.6L280.5 732.8L277.2 733.4L274.7 734.4L271.6 735.0L271.2 733.3L272.5 730.5L275.5 729.6L274.7 728.9L271.1 730.5L269.2 732.4L265.1 734.5L267.2 735.9L264.5 737.9L261.5 739.1L258.6 740.0L257.9 741.3L253.5 742.8L252.7 744.1L249.3 745.3L247.4 745.1L244.8 745.9L241.9 746.9L239.6 747.9L234.7 748.7L234.3 748.2L237.4 746.8L240.1 746.0L243.1 744.4L246.6 744.1L248.0 742.9L251.9 741.2L252.6 740.6L254.7 739.6L255.1 737.4L256.6 735.7L253.3 736.6L252.4 736.1L250.9 737.1L249.0 735.7L248.3 736.7L247.2 735.3L244.4 736.4L242.7 736.4L242.4 734.7L242.9 733.6L241.1 732.6L237.4 733.2L235.1 731.8L233.1 731.1L233.1 729.5L230.9 728.3L232.0 726.6L234.3 725.0L235.3 723.5L237.6 723.3L239.6 723.8L241.8 722.4L243.9 722.6L246.0 721.7L245.5 720.4L243.9 719.9L246.0 718.8L244.3 718.8L241.3 719.5L240.4 720.1L238.2 719.5L234.2 719.8L230.1 719.1L228.9 717.9ZM481.5 880.3L483.0 880.3L485.1 878.3L486.3 878.0L486.3 877.1L486.8 874.6L488.4 873.3L490.2 873.3L490.4 872.7L492.7 872.9L494.9 871.5L496.0 870.8L497.3 869.4L498.3 869.6L499.1 870.4L498.5 871.3L498.5 872.0L496.8 872.3L497.7 873.6L497.7 875.1L496.4 876.8L497.5 879.1L498.7 878.9L499.4 876.8L498.5 875.8L498.3 873.6L501.8 872.5L501.5 871.1L502.5 870.2L503.5 872.2L505.5 872.3L507.3 873.9L507.4 874.8L509.9 874.8L512.9 874.6L514.5 875.9L516.7 876.2L518.3 875.3L518.3 874.6L521.8 874.4L525.2 874.4L522.8 875.2L523.8 876.6L526.0 876.8L528.2 878.2L528.6 880.5L530.1 880.5L531.2 881.1L533.1 882.2L534.8 884.1L534.9 885.6L535.9 885.6L537.5 887.0L538.6 888.0L542.0 888.6L544.6 887.9L547.6 888.6L550.6 889.6L553.6 892.1L554.1 893.2L555.0 893.1L555.7 894.7L557.3 899.7L558.8 900.2L558.9 902.2L556.8 904.6L557.6 905.4L562.6 905.9L562.8 908.8L564.9 906.9L568.4 907.9L573.1 909.7L574.5 911.4L574.1 912.9L577.3 912.0L582.8 913.6L587.0 913.5L591.2 915.8L594.8 919.1L597.0 919.9L599.4 920.0L600.4 920.9L601.4 924.6L601.9 926.3L600.7 931.1L599.3 933.0L595.3 937.0L593.5 940.2L591.4 942.7L590.7 942.8L589.9 944.9L590.1 950.3L589.4 954.7L589.0 956.6L588.2 957.7L587.7 961.6L584.8 965.3L584.3 968.3L582.0 969.6L581.4 971.3L578.3 971.3L573.9 972.4L571.9 973.7L568.7 974.5L565.4 976.8L563.0 979.7L562.6 981.8L563.1 983.4L562.5 986.3L561.9 987.7L559.9 989.3L556.8 994.3L554.3 996.6L552.4 998.0L551.1 1000.7L549.2 1002.4L548.0 1004.2L544.8 1005.8L542.7 1005.2L541.2 1005.5L538.6 1004.3L536.7 1004.3L535.0 1002.8L534.8 1004.3L538.3 1006.7L538.0 1008.7L539.7 1010.0L539.6 1011.4L536.9 1015.0L532.7 1016.6L527.0 1017.2L523.9 1016.9L524.5 1018.6L523.9 1020.8L524.5 1022.2L522.8 1023.2L519.9 1023.6L517.2 1022.6L516.1 1023.3L516.5 1026.2L518.4 1027.1L519.9 1026.1L520.8 1027.6L518.2 1028.5L515.9 1030.3L515.5 1033.2L514.8 1034.8L512.1 1034.8L509.9 1036.2L509.1 1038.4L511.9 1040.5L514.6 1041.1L513.6 1043.7L510.3 1045.3L508.4 1048.7L505.9 1049.8L504.7 1051.2L505.6 1054.1L507.5 1055.8L506.8 1056.0L504.3 1056.2L500.0 1057.4L499.5 1060.0L498.3 1060.2L495.1 1059.2L491.8 1057.2L488.3 1055.6L487.4 1053.7L488.2 1052.0L486.8 1050.1L486.5 1045.2L487.7 1042.5L490.6 1040.2L486.4 1039.4L489.1 1036.9L490.0 1032.1L493.1 1033.1L494.6 1027.1L492.7 1026.4L491.8 1030.0L490.1 1029.5L490.9 1025.4L491.9 1020.1L493.2 1018.2L492.4 1015.3L492.2 1012.1L493.3 1012.0L495.1 1007.4L497.0 1002.8L498.2 998.5L497.6 994.2L498.4 991.8L498.1 988.2L499.7 984.7L500.3 979.2L501.2 973.2L502.0 966.7L501.8 962.0L501.2 958.0L498.4 956.3L498.2 955.1L492.6 952.3L487.5 949.1L485.3 947.3L484.2 945.0L484.6 944.2L482.2 940.4L479.5 935.1L476.8 929.3L475.6 928.0L474.7 925.9L472.5 924.0L470.5 922.9L471.4 921.6L470.1 918.8L471.0 916.8L473.2 915.0L474.7 912.9L474.1 911.6L473.0 912.9L471.3 911.7L471.9 910.9L471.4 908.2L472.4 907.8L472.9 906.0L474.0 904.2L473.8 903.0L475.4 902.4L477.3 901.2L476.9 900.3L478.0 900.1L477.8 898.7L478.5 897.6L479.9 897.4L481.1 895.6L482.2 894.1L481.1 893.4L481.7 891.8L481.0 889.1L481.6 888.4L481.2 886.0L480.0 884.5L481.1 882.2ZM506.2 1056.6L507.2 1058.0L508.6 1060.1L512.3 1061.9L516.3 1062.6L515.0 1064.0L512.3 1064.2L510.9 1063.1L509.2 1063.1L506.2 1063.1L504.5 1064.9L502.4 1064.0L499.5 1063.6L495.9 1062.0L493.0 1060.4L489.1 1057.2L491.4 1057.8L495.4 1059.8L499.2 1060.8L500.6 1059.5L501.5 1057.5L504.1 1056.3ZM527.1 1054.4L530.5 1052.6L532.9 1053.4L534.6 1052.2L536.9 1053.5L536.0 1054.5L532.2 1055.4L530.9 1054.4L528.5 1055.7ZM567.9 667.5L577.4 665.7L587.3 665.9L590.9 664.8L600.8 664.5L623.4 664.9L641.0 667.2L635.8 668.3L625.0 668.4L609.8 668.7L611.3 669.2L621.3 668.9L629.8 669.9L635.3 669.0L637.6 670.1L634.5 671.7L641.7 670.7L655.4 669.5L663.9 670.1L665.4 671.3L653.9 673.4L652.3 674.0L643.3 674.5L649.8 674.7L646.5 676.8L644.3 678.6L644.4 681.8L647.8 683.7L643.3 683.8L638.7 684.7L643.9 686.3L644.6 688.7L641.5 689.0L645.2 691.4L639.0 691.7L642.2 692.8L641.3 693.9L637.3 694.3L633.4 694.3L636.9 696.2L636.9 697.5L631.4 696.3L629.9 697.1L633.7 697.8L637.4 699.6L638.5 701.9L633.4 702.5L631.3 701.3L627.8 699.7L628.8 701.7L625.5 703.1L632.9 703.3L636.8 703.4L629.2 705.9L621.6 708.2L613.3 709.2L610.2 709.2L607.3 710.3L603.4 713.4L597.3 715.4L595.3 715.5L591.6 716.2L587.5 716.9L585.1 718.7L585.1 720.7L583.6 722.6L579.0 724.9L580.1 727.1L578.9 729.5L577.4 732.3L573.5 732.5L569.3 730.1L563.7 730.1L560.9 728.5L559.0 725.7L554.1 722.1L552.7 720.3L552.3 717.7L548.4 715.0L549.4 712.9L547.5 711.9L550.3 708.5L554.6 707.5L555.7 706.3L556.3 704.0L553.1 705.0L551.5 705.4L549.0 705.9L545.5 704.9L545.3 703.0L546.4 701.5L549.1 701.4L554.8 702.2L550.0 700.4L547.5 699.4L544.6 699.8L542.3 699.1L545.4 696.4L543.7 695.3L541.5 693.3L538.1 690.3L534.5 689.1L534.5 687.9L526.9 686.3L521.0 686.0L513.4 686.2L506.5 686.4L503.2 685.5L498.3 683.6L505.7 682.8L511.4 682.6L499.4 681.8L493.0 680.7L493.4 679.6L504.1 678.2L514.4 676.8L515.5 675.7L507.9 674.7L510.3 673.5L520.1 671.6L524.2 671.2L523.0 669.9L529.7 669.2L538.4 668.7L547.1 668.7L550.2 669.6L557.6 668.0L564.4 669.1L568.3 669.3L574.2 670.3L567.5 668.7ZM526.9 713.6L524.3 714.7L519.5 718.2L516.1 717.0L511.6 714.2L507.9 714.5L507.7 716.2L510.5 717.9L514.4 719.3L515.6 719.9L517.3 722.8L516.4 724.8L512.7 724.2L505.7 721.9L509.6 724.2L512.7 726.0L513.0 727.1L505.4 726.0L499.5 724.2L496.1 722.8L496.9 721.9L492.7 720.5L488.7 719.6L480.6 720.5L478.0 719.3L480.0 717.3L485.4 717.3L491.0 716.8L491.3 714.5L494.7 711.6L493.0 709.3L488.7 708.1L482.8 707.0L484.8 706.1L481.7 704.4L479.1 704.1L476.9 703.2L475.5 704.1L470.4 704.4L460.2 703.8L454.0 702.9L449.5 702.7L447.2 701.5L450.1 700.4L446.1 700.4L445.3 697.5L447.5 694.9L450.3 693.7L457.7 692.9L460.5 694.0L459.9 696.6L458.3 699.2L461.1 700.4L462.2 698.1L463.1 695.5L467.6 693.0L471.2 693.5L471.8 696.0L472.4 697.8L477.4 697.0L480.3 695.9L486.5 697.4L490.4 698.7L490.7 700.0L496.1 699.3L498.9 701.2L505.7 702.3L508.2 703.5L510.8 706.1L505.7 707.5L512.3 709.4L516.8 710.0L520.9 712.6L525.3 712.8ZM506.5 666.1L514.1 666.3L520.1 666.7L525.3 667.5L525.2 668.3L518.3 669.5L511.5 670.1L508.9 670.7L515.0 670.7L508.4 672.5L503.8 673.3L499.0 675.6L493.1 676.1L491.3 676.7L482.8 677.0L486.7 677.3L484.7 677.9L487.1 679.3L484.4 680.3L480.0 681.1L478.7 682.2L474.7 683.1L475.1 683.7L480.0 683.6L480.0 684.3L472.5 686.0L465.1 685.3L456.8 685.7L452.6 685.3L447.3 685.2L446.9 683.8L452.1 683.2L450.7 681.1L452.5 680.9L460.0 682.1L456.2 680.3L451.6 679.7L453.9 678.6L458.9 677.9L459.7 676.9L455.7 675.8L454.5 674.3L462.2 674.4L464.4 674.8L468.8 673.7L462.5 673.4L452.6 673.5L447.6 672.6L445.3 671.4L442.0 670.6L441.3 669.6L445.5 669.0L448.9 668.9L454.4 668.5L458.5 667.4L462.0 667.6L465.1 668.4L467.2 666.8L471.0 666.4L476.0 666.0L484.6 665.9L486.1 666.2L494.3 665.7L500.4 665.9ZM541.4 759.4L539.6 761.9L541.4 760.9L543.3 761.5L542.3 762.5L544.8 763.3L546.1 762.6L548.9 763.5L548.1 765.6L550.0 765.1L550.4 766.6L551.3 768.4L550.1 771.0L548.8 771.1L546.9 770.5L547.6 768.2L546.8 767.8L543.5 770.3L541.8 770.2L543.8 768.9L541.1 768.2L538.1 768.3L532.6 768.3L532.2 767.4L533.9 766.4L532.7 765.6L535.1 763.9L538.0 759.3L539.7 757.6L542.2 756.7L543.5 756.8L542.9 757.6ZM351.2 765.6L349.8 766.0L345.2 764.7L344.3 763.7L341.8 762.7L341.3 761.9L338.4 761.4L337.3 759.8L337.5 759.1L340.5 759.8L342.2 760.2L344.9 760.5L345.8 761.5L347.3 762.8L350.1 764.1ZM325.3 749.7L328.0 749.5L327.1 752.8L329.6 755.1L328.4 755.1L326.8 753.8L325.7 752.4L324.3 751.5L323.8 750.3L323.9 749.4ZM267.3 738.4L269.2 738.6L270.4 739.5L268.0 740.9L265.1 742.0L263.7 741.2L263.3 739.9L265.8 738.9ZM215.1 721.7L216.9 722.3L218.6 722.0L220.9 722.7L223.7 723.1L223.5 723.4L221.3 724.0L219.2 723.4L218.1 722.9L215.6 723.0L214.9 722.8ZM230.0 731.5L232.2 731.7L232.5 732.8L230.7 733.3L228.9 732.8L227.2 732.0ZM260.8 850.3L260.4 850.8L259.7 850.4L259.8 849.6L259.3 848.5L259.5 848.2L259.9 847.7L259.7 847.2L259.9 846.9L261.7 847.7L262.2 848.1L262.9 849.1L261.7 849.8ZM517.8 761.7L522.4 762.2L525.3 763.4L524.1 764.0L520.4 763.1ZM520.2 771.3L524.8 771.6L523.5 772.8L522.4 772.9L518.8 771.7L518.1 770.8L519.2 769.9ZM787.7 705.1L790.6 704.1L795.3 705.8L803.0 706.5L813.7 709.9L815.8 711.1L816.0 713.0L812.8 714.5L808.2 715.3L795.7 713.1L793.6 713.5L798.2 715.6L798.4 716.9L798.5 719.9L802.2 720.8L804.4 721.5L804.7 720.1L803.1 718.9L804.9 717.8L811.7 719.6L814.1 718.9L812.1 716.8L818.7 713.9L821.3 714.1L824.0 715.1L825.6 713.1L823.3 711.4L824.6 709.7L822.6 707.9L830.5 708.8L832.1 710.5L828.5 710.8L828.5 712.4L830.7 713.4L835.1 712.8L835.8 710.9L841.7 709.6L851.6 707.1L853.7 707.2L850.9 709.0L854.4 709.3L856.4 708.3L861.7 708.2L865.9 707.0L869.1 708.8L872.3 706.9L869.4 705.2L870.8 704.2L879.2 705.1L883.1 706.0L893.3 709.3L895.2 707.8L892.3 706.3L892.3 705.7L888.8 705.4L889.8 704.0L888.3 701.8L888.2 700.8L893.4 698.3L895.3 695.6L897.3 695.1L904.8 695.8L905.4 697.4L902.7 699.8L904.5 700.7L905.4 702.7L904.7 706.6L907.9 708.4L906.7 710.3L901.1 714.4L904.3 714.8L905.5 713.8L908.6 713.0L909.3 711.6L911.8 710.3L910.1 708.6L911.5 706.7L908.4 706.5L907.7 704.9L909.9 702.0L906.3 699.6L911.3 697.7L910.7 695.7L912.1 695.6L913.5 697.2L912.4 700.0L915.5 700.5L914.2 698.4L918.9 697.3L924.8 697.1L930.0 698.8L927.5 696.4L927.2 693.3L932.1 692.7L938.9 692.8L945.0 692.5L942.7 691.0L946.0 689.1L949.2 689.0L954.7 687.6L962.2 687.2L963.1 686.4L970.5 686.1L972.8 686.8L979.2 685.3L984.3 685.3L985.1 684.1L987.8 682.8L994.5 681.7L999.3 682.6L995.5 683.3L1001.9 683.8L1002.6 685.2L1005.2 684.5L1013.5 684.5L1019.8 685.9L1022.1 687.0L1021.4 688.5L1018.3 689.3L1010.9 690.9L1008.7 691.8L1012.2 692.2L1016.4 692.9L1019.0 692.4L1020.4 694.2L1021.6 693.5L1026.2 693.0L1035.2 693.5L1035.9 694.8L1047.7 695.3L1047.9 693.1L1053.8 693.6L1058.4 693.5L1062.9 695.1L1064.2 696.9L1062.5 698.1L1066.1 700.4L1070.5 701.5L1073.2 698.5L1077.8 699.8L1082.6 699.0L1088.1 699.9L1090.1 699.1L1094.8 699.5L1092.7 696.8L1096.4 695.6L1121.9 697.5L1124.3 699.2L1131.7 701.4L1143.1 700.8L1148.8 701.3L1151.1 702.5L1150.8 704.6L1154.2 705.4L1158.0 704.8L1163.0 704.8L1168.3 705.3L1173.7 705.0L1178.6 707.6L1182.1 706.7L1179.8 704.8L1181.1 703.5L1190.1 704.3L1196.0 704.2L1204.1 705.5L1208.0 706.8L1208.0 718.3L1204.4 719.5L1200.7 719.3L1203.3 720.8L1205.0 723.2L1206.3 724.0L1206.6 725.2L1205.9 726.0L1200.6 725.3L1192.7 727.5L1190.2 727.8L1185.9 729.8L1181.8 731.6L1180.7 732.9L1176.7 730.9L1169.3 733.2L1168.1 732.1L1165.4 733.4L1161.6 733.0L1160.7 734.9L1157.3 737.6L1157.4 738.8L1160.6 739.4L1160.2 743.6L1157.6 743.7L1156.4 746.1L1157.6 747.4L1152.6 748.9L1151.6 752.1L1147.4 752.8L1146.6 755.8L1142.5 758.4L1141.5 756.5L1140.3 752.3L1138.7 745.9L1140.0 741.9L1142.4 740.2L1142.6 738.8L1147.0 738.2L1152.0 734.6L1156.9 731.6L1161.9 729.3L1164.2 725.2L1160.8 725.5L1159.1 727.9L1151.9 731.0L1149.6 727.5L1142.3 728.5L1135.3 733.3L1137.6 735.1L1131.3 735.8L1126.9 736.1L1127.1 734.0L1122.7 733.6L1119.2 735.0L1110.6 734.5L1101.3 735.3L1092.2 741.0L1081.4 747.7L1085.8 748.1L1087.2 749.9L1089.9 750.5L1091.7 749.1L1094.8 749.3L1098.9 752.5L1099.0 754.9L1096.8 757.8L1096.6 761.2L1095.3 765.8L1091.0 770.0L1090.1 772.0L1086.3 775.3L1082.5 778.6L1080.6 780.3L1076.9 782.0L1075.1 782.1L1073.3 780.7L1069.5 782.8L1069.1 783.7L1068.0 783.6L1066.8 784.5L1066.0 785.5L1066.1 787.6L1064.6 788.2L1064.1 788.7L1063.0 789.6L1061.2 790.0L1059.9 790.8L1059.8 792.1L1059.5 792.4L1060.6 792.9L1062.2 794.1L1064.7 797.5L1065.4 799.4L1065.4 802.7L1064.3 804.3L1061.8 804.8L1059.5 806.0L1057.0 806.3L1056.6 804.7L1057.2 802.5L1055.9 799.5L1058.0 799.1L1056.1 796.6L1054.7 796.0L1054.4 796.6L1053.6 796.8L1053.5 796.3L1052.7 796.0L1052.0 795.6L1052.7 794.3L1053.4 793.9L1053.1 793.4L1053.9 791.9L1053.7 791.4L1052.0 791.1L1050.7 790.3L1046.8 791.2L1044.7 792.5L1041.6 793.3L1043.1 792.0L1042.6 790.8L1044.8 788.9L1043.3 787.4L1040.8 788.4L1037.6 790.4L1035.9 792.3L1033.1 792.4L1031.7 793.7L1033.2 795.7L1035.5 796.2L1035.6 797.5L1037.8 798.3L1041.0 796.2L1043.5 797.4L1045.3 797.5L1045.8 799.0L1041.8 799.8L1040.5 801.3L1037.7 802.8L1036.3 804.8L1039.3 806.3L1040.4 809.2L1042.1 811.8L1044.1 814.0L1044.0 816.2L1042.2 816.9L1042.9 818.5L1044.6 819.4L1044.1 821.7L1043.4 824.0L1041.8 824.2L1039.8 827.4L1037.5 831.1L1034.9 834.6L1031.0 837.2L1027.1 839.7L1023.9 840.0L1022.1 841.3L1021.2 840.3L1019.6 841.8L1015.6 843.2L1012.7 843.6L1011.7 846.7L1010.1 846.9L1009.4 844.8L1010.0 843.6L1006.3 842.7L1004.9 843.2L1001.2 845.6L998.8 848.4L998.2 850.4L1000.4 853.4L1003.0 857.2L1005.5 858.9L1007.3 861.2L1008.6 866.6L1008.2 871.6L1005.8 873.5L1002.6 875.4L1000.3 877.8L996.8 880.5L995.8 878.6L996.5 876.7L994.4 875.0L992.1 874.6L990.9 873.1L989.5 870.1L987.0 868.8L984.5 868.9L985.0 866.6L982.5 866.6L982.3 869.8L980.7 874.0L979.8 876.5L980.0 878.6L981.8 878.7L983.0 881.3L983.5 883.8L985.1 885.5L986.8 885.8L988.2 887.3L988.9 887.6L990.6 889.3L991.7 891.2L991.9 893.2L991.6 894.5L991.9 895.5L992.1 897.2L993.1 897.9L994.2 900.5L994.1 901.5L992.1 901.7L989.5 899.5L986.1 897.3L985.8 895.8L984.2 893.9L983.8 891.5L982.8 889.9L983.1 887.8L982.5 886.6L981.3 885.5L980.8 884.1L979.3 882.4L978.0 881.1L977.5 882.8L977.0 881.2L977.3 879.4L978.1 876.6L977.9 874.5L978.7 872.3L977.8 870.6L978.0 867.5L976.8 866.0L975.9 862.5L975.4 858.9L974.2 856.5L972.3 857.9L969.1 860.0L967.5 859.7L965.8 859.1L966.8 855.5L966.2 852.8L964.0 849.5L964.3 848.4L962.7 848.1L960.7 845.7L959.8 844.2L959.7 842.8L959.1 841.4L958.0 839.7L955.4 839.6L955.6 840.8L954.7 842.4L953.5 841.8L953.1 842.3L952.3 842.0L951.2 841.7L950.8 842.8L948.9 842.8L945.4 843.3L945.6 845.5L944.1 847.2L940.0 849.2L936.9 852.6L934.7 854.4L931.9 856.2L931.9 857.6L930.5 858.3L928.0 859.3L926.6 859.5L925.8 861.6L926.4 865.4L926.6 867.8L925.3 870.5L925.3 875.4L923.9 875.5L922.6 877.7L923.5 878.7L920.9 879.5L919.9 881.5L918.8 882.3L916.1 879.6L914.8 875.6L913.7 872.7L912.8 871.3L911.2 868.5L910.6 865.0L910.0 863.1L907.5 859.2L906.3 853.6L905.5 849.9L905.5 846.5L904.9 843.7L900.8 845.5L898.8 845.1L895.1 841.6L896.5 840.6L895.7 839.5L892.4 837.0L890.3 836.3L889.5 834.3L887.3 832.0L882.1 832.6L877.5 832.6L873.5 833.0L868.2 832.2L865.1 831.5L861.9 831.1L860.7 827.6L859.4 827.1L857.2 827.6L854.4 829.0L850.9 828.1L848.1 825.9L845.3 825.0L843.4 822.3L841.4 818.5L839.9 818.9L838.1 818.0L837.0 819.1L835.3 818.9L835.9 820.2L835.7 820.9L836.6 823.1L837.7 825.5L839.1 826.2L839.6 827.2L841.5 828.4L841.6 829.6L841.4 830.6L841.7 831.5L842.5 832.3L842.9 833.3L843.3 834.0L843.1 831.9L843.9 830.4L844.7 830.1L845.5 831.0L845.6 832.6L845.0 834.3L845.5 835.4L846.0 835.3L846.1 836.1L848.3 835.6L850.6 835.7L852.4 835.8L854.3 833.9L856.4 832.0L858.2 830.2L859.0 829.2L859.4 829.5L859.1 830.7L858.7 831.2L859.1 833.5L860.4 835.5L861.9 836.5L864.0 836.9L865.7 837.4L867.0 839.1L867.7 840.0L868.7 840.4L868.7 841.0L867.7 842.7L867.2 843.5L866.1 844.5L865.0 846.4L863.7 846.3L863.2 847.0L862.7 848.4L863.0 850.3L862.8 850.7L861.5 850.7L859.7 851.8L859.4 853.2L858.8 853.8L857.0 853.8L855.9 854.5L855.9 855.6L854.6 856.4L853.0 856.2L851.1 857.1L849.8 857.3L847.8 858.1L847.2 859.3L847.2 860.3L844.4 861.5L839.8 862.9L837.3 864.9L836.1 865.1L835.2 864.9L833.6 866.1L831.8 866.6L829.4 866.8L828.7 867.0L828.1 867.7L827.3 867.9L826.9 868.7L825.5 868.6L824.6 869.0L822.6 868.8L821.9 867.2L822.0 865.6L821.5 864.7L821.0 862.6L820.2 861.4L820.8 861.3L820.4 860.0L820.8 859.4L820.7 858.2L820.3 857.0L819.5 856.1L819.2 854.9L817.8 853.9L816.3 851.5L815.5 849.1L813.5 847.2L812.3 846.7L810.4 843.9L810.1 841.9L810.2 840.2L808.6 837.0L807.2 835.9L805.7 835.3L804.8 833.7L804.9 833.0L804.2 831.5L803.3 830.9L802.2 828.8L800.5 826.4L799.1 824.5L797.7 824.5L798.1 822.9L798.2 821.9L798.6 820.7L798.5 820.3L797.7 821.5L797.1 823.7L796.3 825.2L795.7 825.7L794.7 824.7L793.5 823.4L791.4 819.3L791.1 815.3L795.2 816.1L796.6 815.4L797.5 814.4L798.0 812.9L798.6 810.7L799.0 810.0L800.1 807.6L801.5 805.6L801.3 803.3L802.0 802.1L800.9 800.9L802.0 799.8L800.3 800.0L797.9 799.3L796.0 801.0L791.7 801.3L789.4 799.8L786.3 799.7L785.7 800.9L783.7 801.2L781.0 799.7L777.9 799.7L776.3 796.9L774.2 795.3L775.6 793.0L773.8 791.7L775.3 789.3L773.4 788.3L773.5 787.8L771.7 787.7L770.3 787.4L766.8 788.1L768.8 789.8L767.4 790.2L765.8 790.2L764.3 788.7L763.8 789.4L764.4 791.1L765.8 792.5L764.7 793.1L766.3 794.4L767.7 795.2L767.8 796.9L765.2 796.1L766.0 797.6L764.2 797.9L765.3 800.4L763.4 800.4L761.1 799.2L760.0 796.9L759.5 795.0L758.4 793.7L757.0 792.0L756.8 791.2L756.3 791.0L756.2 790.4L754.7 789.4L754.4 788.0L754.7 786.1L755.1 785.2L754.6 784.7L754.0 784.5L753.2 783.6L752.0 783.0L749.3 781.9L747.7 780.9L745.1 780.0L742.7 777.9L743.3 777.7L742.0 776.5L742.0 775.5L740.2 775.1L739.3 776.3L738.5 775.3L738.5 774.4L738.6 774.3L739.3 774.0L737.0 773.6L734.7 774.6L734.8 776.1L734.5 776.9L735.4 778.4L738.1 779.8L739.5 782.2L742.6 784.5L744.9 784.5L745.5 785.1L744.8 785.7L747.3 786.7L749.4 787.6L751.8 789.1L752.1 789.6L751.5 790.7L750.0 789.3L747.5 788.9L746.3 790.7L748.4 791.8L748.0 793.3L746.9 793.5L745.4 795.9L744.2 796.1L744.2 795.3L744.8 793.7L745.4 793.1L744.3 791.4L743.4 790.0L742.2 789.6L741.4 788.4L739.6 787.8L738.4 786.7L736.3 786.5L734.1 785.2L731.5 783.3L729.6 781.7L728.7 778.8L727.3 778.5L725.0 777.5L723.7 778.0L722.1 779.3L720.9 779.5L718.3 781.1L712.8 780.3L708.7 781.3L708.3 783.0L708.5 784.7L705.8 786.6L702.2 787.2L701.9 788.2L700.2 789.8L699.1 792.1L700.2 793.7L698.6 795.0L698.0 796.9L695.8 797.5L693.8 799.7L690.2 799.7L687.6 799.7L685.8 800.7L684.7 801.8L683.3 801.5L682.3 800.6L681.5 798.9L678.9 798.5L677.7 799.2L676.2 798.8L674.8 799.1L675.2 796.9L674.9 795.1L673.7 794.8L673.0 793.7L673.2 791.9L674.4 790.8L674.5 789.7L675.1 787.9L675.1 786.7L674.5 785.7L674.4 784.7L674.5 782.7L673.4 781.4L677.4 779.3L680.8 779.8L684.6 779.8L687.6 780.3L690.0 780.2L694.5 780.3L696.0 778.6L696.5 772.8L693.6 769.8L691.5 768.3L687.2 767.2L686.9 765.1L690.6 764.5L695.3 765.3L694.5 762.0L697.1 763.2L703.7 761.0L704.5 758.6L707.0 758.0L709.2 757.5L710.7 756.7L713.2 752.5L717.0 751.3L719.4 751.3L719.9 750.7L722.3 750.6L722.8 751.2L724.7 749.8L724.1 748.7L724.0 747.1L722.8 745.5L722.7 742.5L723.2 741.8L724.0 740.9L726.5 740.7L727.5 739.9L729.8 739.1L729.7 740.6L728.8 741.5L729.2 742.3L730.7 742.8L730.0 743.9L729.2 743.5L727.1 745.6L727.9 747.0L728.0 748.1L730.8 748.8L730.8 749.8L733.7 749.3L735.2 748.5L738.4 749.6L739.8 750.5L741.7 749.7L746.1 748.4L749.6 747.4L752.5 747.9L752.7 748.6L755.4 748.6L756.0 747.3L759.9 746.4L759.4 744.0L759.4 741.8L760.8 740.0L763.5 739.1L765.7 741.2L768.0 741.1L768.5 738.9L768.9 737.2L767.8 737.6L766.0 736.6L765.8 734.9L769.3 734.1L772.9 733.7L776.0 734.2L778.9 734.1L782.1 732.5L779.1 731.1L774.0 731.4L769.1 732.4L764.5 733.0L762.8 731.5L760.1 730.5L760.7 727.7L759.4 725.1L760.7 723.4L763.2 721.6L769.7 718.5L771.6 717.9L771.3 716.7L767.4 715.3L762.5 716.1L759.8 718.1L760.2 719.9L755.7 722.2L750.3 724.7L748.2 728.7L750.2 730.7L752.9 732.3L750.3 735.6L747.4 736.3L746.3 741.1L744.7 743.8L741.3 743.5L739.7 745.8L736.4 745.9L735.6 743.2L733.2 739.9L731.0 735.9L729.1 734.1L723.6 737.4L719.8 738.1L715.9 736.6L714.9 733.6L714.0 726.9L716.6 725.1L724.0 722.7L729.6 719.7L734.8 715.7L741.6 710.1L746.3 708.0L754.0 704.3L760.3 703.1L764.9 703.2L769.2 700.8L774.3 701.0L779.4 700.4L788.2 702.5L784.6 703.3ZM191.8 706.8L198.7 709.0L206.1 711.8L205.8 713.6L207.7 714.3L207.1 712.3L214.7 712.7L220.3 715.4L217.5 716.6L212.8 716.9L212.8 719.7L211.6 720.4L209.0 720.3L206.9 719.3L203.1 718.4L202.5 717.2L199.6 716.7L196.4 717.1L194.9 716.1L195.5 715.0L192.1 715.7L193.4 717.0L191.8 718.3ZM1043.7 835.0L1042.0 839.6L1040.8 842.0L1039.3 839.6L1039.0 837.4L1040.6 834.6L1042.9 832.4L1044.2 833.3ZM930.8 883.6L930.4 886.6L929.2 887.4L926.7 888.0L925.4 885.8L924.9 881.6L926.2 876.9L928.1 878.5L929.4 880.6ZM743.7 795.2L742.7 797.5L743.1 798.4L742.5 799.8L740.4 798.8L738.9 798.5L735.0 797.0L735.4 795.5L738.7 795.8L741.6 795.5ZM725.9 786.6L727.6 788.7L727.2 792.5L725.9 792.3L724.8 793.3L723.7 792.5L723.6 789.0L722.9 787.4L724.5 787.5ZM726.9 783.9L726.0 786.1L724.7 785.6L724.0 783.6L724.6 782.6L726.4 781.5ZM766.8 802.5L768.4 803.4L770.6 803.3L772.6 803.5L774.1 803.6L773.7 804.5L769.7 804.7L769.7 804.3L766.3 803.7ZM792.3 804.1L792.9 803.4L795.0 803.4L797.5 802.6L795.6 803.8L795.9 804.6L793.1 805.7L791.6 805.4L791.0 804.2ZM735.7 745.2L734.0 747.5L731.1 745.9L730.7 744.7L734.8 743.8ZM728.1 746.4L730.4 746.7L730.1 745.4L727.8 745.5ZM751.3 741.2L753.5 739.5L754.1 738.5L752.1 738.9ZM706.7 791.3L708.7 790.3L709.6 791.0L708.5 792.1ZM850.4 869.1L852.9 868.8L853.8 869.2L851.8 869.8ZM1011.4 851.5L1009.0 852.8L1006.6 851.9L1006.6 849.5L1007.9 848.2L1011.0 847.4L1012.7 847.4L1013.3 848.5L1012.0 849.8ZM791.4 819.3L792.3 822.6L794.0 825.5L796.2 830.0L797.2 831.5L798.1 833.2L800.7 836.4L800.1 836.9L800.2 838.7L803.5 841.3L804.0 841.9L804.9 844.7L804.3 845.2L804.7 848.2L805.7 851.7L806.8 852.3L808.3 853.4L810.1 856.8L810.8 859.4L812.3 860.8L816.2 863.5L817.7 865.2L819.3 866.8L820.1 867.8L821.5 868.7L822.2 869.6L822.1 870.8L820.5 871.4L821.7 872.2L822.6 872.7L824.5 875.1L825.8 875.2L828.5 874.4L831.6 874.1L834.1 873.2L835.5 873.0L836.5 872.5L838.1 872.4L839.0 872.3L840.3 871.9L841.8 871.6L843.1 870.6L844.2 870.6L844.2 871.4L844.0 873.1L844.0 874.6L843.4 875.6L842.6 878.7L841.2 882.0L839.5 885.6L837.1 889.8L834.7 893.1L831.3 897.0L828.5 899.3L824.3 902.2L821.7 904.4L818.6 907.8L817.9 909.4L817.3 910.0L815.3 911.2L814.6 912.4L813.6 912.6L813.2 914.6L812.3 915.8L811.7 917.7L810.6 918.7L809.3 922.2L809.4 923.8L811.2 924.9L811.3 925.6L810.5 927.4L810.7 928.2L810.5 929.6L811.5 931.4L812.7 934.3L813.7 934.9L814.2 936.2L814.1 939.0L814.4 941.6L814.5 946.1L815.0 947.5L814.2 949.5L813.1 951.5L811.3 953.3L808.7 954.4L805.5 955.8L802.3 958.9L801.2 959.4L799.3 961.4L798.1 962.1L797.9 964.2L799.2 966.3L799.7 968.0L799.8 968.9L800.3 968.8L800.2 971.6L799.7 972.9L800.4 973.4L800.0 974.6L798.8 975.6L796.5 976.6L793.1 978.2L791.8 979.2L792.1 980.4L792.8 980.6L792.6 982.1L791.9 984.2L791.5 986.6L790.8 987.9L788.9 989.4L788.3 989.8L787.1 991.3L786.3 992.7L784.8 994.8L781.6 997.8L779.6 999.5L777.4 1000.8L774.5 1001.9L773.0 1002.1L772.7 1002.8L771.0 1002.4L769.6 1003.0L766.5 1002.4L764.8 1002.8L763.6 1002.6L760.7 1003.8L758.3 1004.2L756.6 1005.3L755.3 1005.4L754.1 1004.3L753.1 1004.3L751.9 1003.0L751.8 1003.4L751.4 1002.6L751.4 1000.9L750.5 999.0L751.4 998.5L751.3 996.3L749.5 993.6L748.1 991.2L746.0 987.4L743.9 985.2L742.8 983.1L742.2 980.3L741.5 978.2L740.6 973.8L740.5 970.4L740.2 968.8L739.1 967.6L737.6 965.2L736.1 961.8L735.5 960.0L733.2 957.2L733.0 955.0L732.8 953.2L733.2 950.6L734.1 948.0L734.3 946.8L735.2 944.2L735.9 943.0L737.5 941.1L738.4 939.8L738.7 937.7L738.5 936.1L737.7 935.0L736.9 933.3L736.3 931.6L736.4 931.0L737.3 929.8L736.4 927.1L735.8 925.1L734.4 923.3L734.7 922.7L734.3 921.9L733.5 919.7L731.2 916.7L728.3 913.7L726.5 911.4L724.7 908.4L724.8 907.4L725.4 906.5L726.1 904.4L726.7 902.3L726.2 901.9L727.1 898.6L727.6 896.4L726.4 894.5L725.2 894.0L724.6 892.7L723.9 892.3L723.9 891.5L721.0 892.5L719.9 892.4L718.8 893.0L716.6 892.9L715.0 891.1L714.1 889.1L712.1 887.2L710.0 887.2L707.5 887.2L705.2 887.5L702.9 888.1L698.5 889.8L696.9 890.8L694.4 891.6L691.8 890.8L690.6 890.9L688.6 890.3L686.8 890.3L683.4 890.8L681.5 891.6L678.7 892.7L678.1 892.7L677.4 892.7L674.5 891.3L671.9 889.1L669.5 887.5L667.6 885.7L666.8 885.5L664.8 884.3L663.3 882.8L662.9 881.7L662.5 879.6L661.3 877.9L660.2 876.7L659.4 876.4L658.7 875.8L658.4 874.5L658.0 873.9L657.2 873.4L655.7 872.2L654.5 872.1L653.9 871.2L653.9 870.8L653.0 870.2L652.8 869.6L652.4 867.4L652.7 866.1L651.5 863.9L650.1 862.8L651.4 862.3L652.8 860.3L653.4 858.8L653.2 857.2L654.0 855.8L654.3 853.1L654.0 850.2L653.7 848.8L653.9 847.4L653.2 846.0L651.7 844.8L651.9 843.6L652.0 842.2L653.1 841.4L654.0 839.9L653.8 839.0L654.8 837.0L656.3 835.1L657.3 834.7L658.1 833.0L658.1 831.4L659.1 829.7L661.0 828.6L662.8 825.7L664.3 824.5L666.9 824.2L669.1 822.3L670.5 821.5L672.9 819.1L672.2 815.5L673.3 813.0L673.6 811.5L675.5 809.6L678.3 808.2L680.4 807.1L682.3 804.1L683.2 802.3L685.2 802.3L686.9 803.6L689.6 803.4L692.6 804.0L693.8 804.0L696.5 802.5L699.5 801.9L701.3 800.8L704.0 799.9L708.8 799.4L713.5 799.1L714.9 799.6L717.6 798.4L720.6 798.4L721.8 799.1L723.7 798.9L726.7 797.7L728.7 798.1L728.6 799.6L731.0 798.5L731.2 799.0L729.8 800.4L729.8 801.8L730.8 802.5L730.4 805.0L728.6 806.4L729.1 808.0L730.6 808.0L731.3 809.4L732.3 809.9L735.6 810.9L736.8 810.6L739.2 811.1L743.0 812.4L744.2 814.9L746.8 815.5L750.8 816.7L753.8 818.1L755.1 817.4L756.5 816.0L755.9 813.9L756.7 812.4L758.8 811.1L760.7 810.7L764.5 811.3L765.5 812.6L766.6 812.6L767.5 813.1L770.2 813.4L770.9 814.4L774.7 814.3L777.4 815.1L780.2 815.9L781.5 816.4L783.7 815.5L784.9 814.7L787.4 814.4L789.4 814.8L790.1 816.2L791.1 815.3ZM839.8 941.1L840.5 942.3L841.2 944.2L841.7 947.7L842.4 949.0L842.1 950.4L841.6 951.2L840.7 949.5L840.1 950.4L840.7 952.5L840.4 953.8L839.6 954.4L839.5 956.8L838.3 960.2L837.0 964.2L835.2 969.6L834.1 973.6L832.9 977.0L830.5 977.6L828.1 978.9L826.5 978.1L824.2 977.1L823.4 975.6L823.3 973.0L822.3 970.7L822.0 968.7L822.5 966.6L823.8 966.1L823.8 965.1L825.2 962.9L825.4 961.1L824.8 959.7L824.2 957.9L824.0 955.3L825.0 953.7L825.4 951.9L826.8 951.7L828.3 951.1L829.4 950.6L830.6 950.6L832.2 949.0L834.6 947.2L835.4 945.7L835.0 944.5L836.2 944.8L837.8 942.9L837.8 941.1L838.8 939.8ZM894.5 1045.1L896.3 1046.0L899.0 1046.4L899.1 1046.9L898.3 1048.2L894.0 1048.4L893.9 1046.9L894.3 1045.7ZM592.6 1060.6L596.9 1061.1L598.8 1062.6L597.7 1063.1L594.0 1061.7ZM998.6 922.0L995.5 922.1L993.1 919.7L989.5 917.3L988.3 915.6L986.2 913.3L984.7 911.1L982.6 907.1L980.1 904.7L979.3 902.2L978.2 900.0L975.7 898.2L974.2 895.7L972.1 894.1L969.2 890.9L968.9 889.4L970.7 889.5L975.1 890.1L977.6 892.9L979.8 894.9L981.3 896.1L984.0 899.2L986.9 899.2L989.3 901.2L990.9 903.6L993.0 904.9L991.9 907.2L993.5 908.2L994.5 908.3L995.0 910.3L996.0 911.9L998.1 912.2L999.4 914.0L998.7 917.6ZM1009.5 899.4L1011.6 900.4L1013.7 899.9L1014.3 897.4L1015.5 896.9L1018.9 896.3L1020.9 894.0L1022.3 892.2L1023.4 891.1L1025.8 889.5L1028.0 887.5L1029.4 885.3L1030.6 885.3L1032.0 886.7L1032.1 888.0L1034.0 888.8L1036.3 889.6L1036.1 890.8L1034.3 890.9L1034.8 892.3L1032.7 893.3L1031.1 895.9L1033.2 898.6L1032.7 899.9L1035.8 902.6L1032.5 903.0L1031.5 904.9L1031.7 907.5L1028.9 909.5L1028.9 912.3L1027.8 916.7L1027.4 915.7L1024.1 917.0L1023.0 915.3L1021.0 915.1L1019.6 914.2L1016.3 915.2L1015.2 913.8L1013.4 914.0L1011.1 913.6L1010.6 909.8L1009.2 909.0L1007.9 906.5L1007.5 904.0L1007.8 901.3ZM1078.6 908.5L1079.4 913.2L1082.3 914.9L1084.6 911.8L1087.9 910.1L1090.4 910.1L1092.8 911.1L1094.9 912.1L1097.9 912.7L1102.9 914.7L1108.0 916.3L1110.0 917.8L1111.6 919.2L1112.0 920.9L1116.7 922.7L1117.4 924.2L1114.8 924.5L1115.4 926.5L1117.9 928.3L1119.8 931.4L1121.4 931.3L1121.3 932.6L1123.5 933.0L1122.6 933.6L1125.6 934.8L1125.3 935.6L1123.4 935.8L1122.7 935.1L1120.3 934.8L1117.4 934.3L1115.3 932.5L1113.7 930.9L1112.2 928.4L1108.5 927.2L1106.1 928.0L1104.4 928.9L1104.7 931.0L1102.5 932.0L1101.0 931.6L1098.0 931.4L1095.5 929.1L1092.7 928.5L1092.0 929.3L1088.4 929.4L1089.6 927.1L1091.4 926.3L1090.6 923.1L1089.3 920.7L1083.8 918.3L1081.5 918.0L1077.2 915.4L1076.4 916.8L1075.3 917.0L1074.7 916.0L1074.7 914.7L1072.5 913.3L1075.6 912.3L1077.6 912.3L1077.3 911.6L1073.2 911.6L1072.1 909.9L1069.5 909.3L1068.4 907.9L1072.2 907.2L1073.6 906.3L1078.2 907.4ZM1105.2 944.8L1106.2 947.1L1108.0 946.0L1108.9 947.2L1110.3 948.3L1110.0 949.6L1110.6 952.1L1111.0 953.5L1111.7 953.9L1112.5 956.3L1112.2 957.8L1113.2 959.7L1116.2 961.2L1118.2 962.6L1120.1 963.9L1119.7 964.6L1121.3 966.4L1122.4 969.5L1123.6 968.8L1124.7 970.1L1125.4 969.6L1125.9 972.7L1127.9 974.5L1129.2 975.6L1131.4 977.9L1132.2 980.2L1132.3 981.8L1132.1 983.6L1133.4 986.1L1133.3 988.6L1132.8 990.0L1132.0 992.5L1132.1 994.2L1131.5 996.2L1130.3 998.8L1128.2 1000.3L1127.1 1002.5L1126.2 1003.9L1125.4 1006.4L1124.3 1007.8L1123.6 1010.0L1123.2 1012.0L1123.3 1012.9L1121.7 1013.9L1118.6 1014.0L1116.0 1015.2L1114.7 1016.3L1113.0 1017.5L1110.6 1016.2L1108.9 1015.7L1109.3 1014.2L1107.8 1014.8L1105.3 1016.9L1102.9 1016.1L1101.3 1015.6L1099.7 1015.4L1096.9 1014.6L1095.1 1012.8L1094.6 1010.6L1093.9 1008.0L1092.5 1008.0L1089.8 1007.6L1090.7 1006.3L1090.1 1004.1L1088.7 1006.1L1086.2 1006.6L1087.6 1005.1L1088.1 1003.4L1089.2 1002.0L1088.9 999.9L1086.7 1002.3L1084.9 1003.3L1083.8 1005.6L1081.6 1004.4L1081.7 1002.9L1079.9 1000.8L1078.4 999.7L1078.9 999.0L1075.3 997.3L1073.4 997.2L1070.6 995.8L1065.6 996.1L1061.9 997.9L1058.7 998.1L1056.0 997.9L1053.0 999.4L1050.6 1000.0L1050.0 1001.5L1049.0 1002.7L1046.6 1002.8L1044.8 1003.0L1042.3 1002.5L1040.3 1002.8L1038.3 1003.0L1036.7 1004.5L1035.9 1004.3L1034.5 1005.2L1033.1 1006.1L1031.0 1006.0L1029.1 1006.0L1026.1 1004.1L1024.6 1003.6L1024.7 1001.9L1026.1 1001.6L1026.5 1000.9L1026.5 999.9L1026.8 997.9L1026.5 996.1L1025.0 993.2L1024.5 991.6L1024.7 990.0L1023.5 988.1L1023.5 987.3L1022.2 986.1L1021.9 983.8L1020.3 981.6L1019.9 980.3L1021.1 981.6L1020.1 978.9L1021.6 979.7L1022.4 980.9L1022.3 979.4L1020.9 977.1L1020.7 976.2L1020.0 975.3L1020.3 973.7L1020.9 973.0L1021.3 971.5L1021.0 969.9L1022.1 967.8L1022.4 970.0L1023.6 968.0L1025.8 967.1L1027.2 965.8L1029.4 964.8L1030.7 964.5L1031.4 964.9L1033.7 963.8L1035.4 963.5L1035.8 962.9L1036.5 962.6L1038.1 962.7L1041.1 961.8L1042.6 960.6L1043.3 959.0L1045.0 957.6L1045.1 956.4L1045.2 954.8L1047.2 952.4L1048.3 954.9L1049.6 954.3L1048.5 953.0L1049.4 951.5L1050.7 952.2L1051.0 950.0L1052.6 948.6L1053.3 947.4L1054.7 946.9L1054.7 946.1L1056.0 946.5L1056.0 945.8L1057.2 945.3L1058.6 945.0L1060.7 946.3L1062.3 948.0L1064.0 948.0L1065.8 948.3L1065.2 946.7L1066.6 944.4L1067.8 943.6L1067.4 942.9L1068.6 941.3L1070.3 940.2L1071.8 940.6L1074.2 940.0L1074.1 938.6L1072.0 937.6L1073.6 937.2L1075.4 937.9L1076.9 939.1L1079.3 939.8L1080.1 939.6L1081.9 940.4L1083.5 939.6L1084.6 939.9L1085.2 939.3L1086.5 940.7L1085.8 942.3L1084.7 943.4L1083.7 943.5L1084.1 944.7L1083.2 946.1L1082.2 947.5L1082.4 948.4L1084.7 949.9L1086.8 950.9L1088.3 951.9L1090.3 953.6L1091.1 953.6L1092.6 954.3L1093.0 955.2L1095.7 956.2L1097.6 955.2L1098.1 953.6L1098.7 952.4L1099.1 950.8L1099.9 948.5L1099.5 947.1L1099.7 946.3L1099.4 944.6L1099.8 942.4L1100.3 941.9L1099.9 940.9L1100.6 939.4L1101.1 937.8L1101.2 937.0L1102.2 935.9L1103.0 937.3L1103.2 939.1L1103.9 939.5L1104.0 940.7L1105.1 942.1L1105.3 943.8ZM1110.4 1022.6L1113.1 1023.6L1114.6 1023.2L1116.8 1022.6L1118.5 1022.8L1118.7 1026.2L1117.8 1027.2L1117.4 1029.5L1116.5 1028.7L1114.5 1030.7L1113.9 1030.6L1112.2 1030.5L1110.4 1028.0L1110.1 1026.1L1108.4 1023.6L1108.5 1022.3ZM1178.9 1030.5L1181.3 1029.0L1183.0 1027.5L1184.2 1025.4L1185.3 1024.6L1185.7 1023.0L1187.7 1021.7L1188.3 1022.9L1189.0 1024.1L1191.0 1023.0L1191.8 1024.2L1191.8 1025.4L1190.8 1026.7L1188.9 1028.8L1187.5 1030.0L1188.5 1031.4L1186.3 1031.4L1183.9 1032.5L1183.2 1034.4L1181.6 1037.3L1179.3 1038.6L1177.9 1039.4L1175.3 1039.3L1173.5 1038.4L1170.4 1038.2L1170.0 1037.1L1171.5 1035.0L1175.0 1032.1L1176.8 1031.6ZM1042.4 852.0L1044.1 852.8L1045.0 852.0L1045.3 852.8L1044.8 854.0L1045.8 856.0L1045.0 858.4L1043.3 859.4L1042.9 861.7L1043.5 864.0L1045.0 864.3L1046.3 863.9L1049.8 865.6L1049.6 867.1L1050.5 867.8L1050.2 869.1L1048.0 867.7L1046.9 866.2L1046.2 867.3L1044.4 865.6L1041.8 866.0L1040.4 865.3L1040.6 864.1L1041.5 863.4L1040.6 862.7L1040.2 863.8L1038.9 862.1L1038.4 860.9L1038.3 858.1L1039.5 859.1L1039.8 854.6L1040.7 851.9ZM1056.7 881.0L1057.0 882.9L1057.1 884.5L1056.2 887.2L1055.1 884.2L1053.8 885.7L1054.7 887.8L1053.9 889.1L1050.6 887.5L1049.8 885.4L1050.6 884.0L1048.9 882.7L1048.0 883.9L1046.6 883.7L1044.6 885.3L1044.1 884.5L1045.2 882.1L1047.0 881.3L1048.5 880.2L1049.5 881.5L1051.6 880.7L1052.1 879.4L1054.1 879.3L1053.9 877.1L1056.2 878.5L1056.5 879.9ZM1037.3 872.5L1037.8 874.8L1035.9 876.4L1034.5 878.4L1030.7 881.1L1032.1 879.1L1034.1 877.4L1035.8 875.3ZM1050.7 869.1L1053.4 869.1L1054.2 870.2L1055.0 873.4L1052.8 872.7L1052.9 873.6L1053.6 875.4L1052.2 876.1L1052.1 874.0L1051.3 873.9L1050.8 872.1L1052.5 872.3L1052.4 871.3ZM1048.5 873.7L1048.1 875.7L1047.1 878.2L1045.4 877.3L1046.0 876.5L1046.7 875.7L1047.0 873.9ZM1044.0 871.0L1045.7 871.9L1047.5 871.9L1047.4 873.1L1046.1 874.3L1044.3 875.2L1044.2 873.8L1044.4 872.3ZM1039.6 866.4L1042.0 866.6L1043.0 867.6L1042.2 870.1L1041.0 868.7ZM1050.1 872.8L1050.0 875.6L1048.8 876.6L1048.1 878.2L1048.8 875.3ZM1049.4 876.7L1051.4 876.3L1051.5 877.3L1050.0 877.6ZM1047.7 869.2L1050.0 870.4L1048.8 870.8L1047.6 870.1Z" fill="#d3d3d3"/>
<path d="M742.6 676.0L743.7 675.0L747.9 674.9L751.4 675.9L760.7 678.0L753.6 679.2L752.0 681.3L749.6 681.8L748.2 684.2L744.8 684.3L738.7 682.6L741.3 681.5L737.1 680.7L731.6 678.3L729.4 676.0L737.1 675.0L738.6 676.0ZM777.3 674.9L773.1 676.4L764.9 676.8L756.6 676.3L756.1 675.5L752.0 675.4L748.9 674.1L757.7 673.3L761.8 674.0L764.6 673.1L771.7 673.9ZM769.7 681.2L763.4 682.4L758.4 681.7L760.4 681.0L758.6 680.1L764.5 679.5L765.6 680.6ZM851.0 693.0L857.7 690.5L856.9 689.2L863.3 687.7L872.6 685.8L882.0 685.3L886.8 684.2L892.3 683.8L894.3 685.0L892.4 685.9L882.4 687.3L873.7 688.7L865.0 691.4L860.8 694.2L856.4 697.0L856.9 699.4L862.3 701.7L860.6 702.0L851.4 701.6L850.7 700.3L845.6 699.6L845.2 698.0L848.1 697.4L847.9 695.8L853.6 693.4ZM832.6 674.5L838.2 674.8L845.3 673.6L841.0 672.5L834.3 673.0L826.4 673.3ZM850.9 674.5L860.8 674.8L867.9 673.9L872.1 672.5L863.6 671.3L855.2 672.5ZM874.9 673.3L883.4 673.0L883.4 671.9L876.3 672.2ZM982.0 678.3L975.9 678.6L968.0 677.8L963.3 676.7L961.2 674.6L957.3 674.1L964.6 672.1L970.7 671.4L976.2 672.9L982.7 675.7ZM996.5 679.9L980.6 681.0L985.8 677.3L988.1 676.9L990.2 677.1L997.4 678.8ZM1091.8 686.1L1099.3 686.3L1109.5 687.8L1107.3 689.9L1096.8 689.9L1092.2 690.5L1086.6 688.7L1088.1 686.7ZM1118.3 688.4L1125.4 689.2L1122.2 690.3L1117.6 690.1L1112.4 688.9L1113.1 688.0ZM1094.7 694.1L1097.4 693.0L1100.9 692.7L1104.9 693.8L1105.3 694.6L1101.0 694.6L1095.2 694.3ZM1208.0 699.4L1204.5 700.6L1204.9 701.6L1208.0 701.4ZM191.8 701.4L195.5 701.2L198.4 700.6L198.6 700.2L191.8 699.4ZM691.4 736.5L688.4 739.6L691.3 739.2L694.4 739.3L693.6 741.6L691.1 744.2L694.0 744.3L696.8 748.1L698.7 748.5L700.4 751.8L701.2 752.9L704.6 753.5L704.3 755.3L702.9 756.1L704.0 757.6L701.5 759.1L697.7 759.1L692.9 759.9L691.5 759.3L689.7 760.7L687.1 760.4L685.1 761.5L683.6 760.9L687.7 757.9L690.3 757.2L685.8 756.8L685.0 755.6L688.0 754.7L686.4 753.2L687.0 751.3L691.2 751.6L691.6 749.9L689.7 748.1L686.2 747.6L685.6 746.8L686.6 745.5L685.6 744.7L684.1 746.1L684.0 743.3L682.5 741.8L683.6 738.9L685.8 736.5L688.0 736.8ZM682.4 750.2L682.9 752.3L680.7 754.8L675.7 756.5L671.7 756.1L674.0 753.1L672.5 750.2L676.4 747.9L678.5 746.6L680.9 746.5L683.9 748.3ZM658.9 714.0L658.3 715.9L661.5 717.8L657.8 720.0L649.7 722.0L647.2 722.5L643.5 722.1L635.6 721.2L638.4 719.9L632.3 718.5L637.3 718.0L637.1 717.1L631.2 716.4L633.1 714.6L637.4 714.1L641.8 716.1L646.1 714.5L649.7 715.3L654.3 713.8ZM472.6 693.2L479.7 693.3L484.5 694.9L484.5 695.8L481.7 695.6L478.6 695.5L475.5 695.9L471.5 694.3ZM344.4 698.4L345.6 697.2L347.6 695.1L350.0 693.2L347.3 691.5L356.8 691.0L360.8 691.6L368.0 691.8L370.8 692.6L373.8 693.8L370.3 694.5L363.3 696.6L359.8 698.6L359.8 699.8L352.4 701.2L350.9 700.0ZM390.6 684.3L393.5 684.6L394.4 686.0L395.5 687.0L398.0 686.5L401.0 686.6L401.5 688.0L399.8 689.4L390.2 689.9L383.1 691.1L378.8 691.2L378.4 690.2L384.3 689.0L371.6 689.3L367.6 688.8L371.4 686.0L374.1 685.2L382.1 686.1L387.1 687.8L392.0 688.1L388.0 685.3ZM353.1 686.2L357.9 684.1L363.7 682.2L368.0 682.2L371.9 681.8L371.5 684.0L369.3 685.0L366.7 685.2L361.4 686.4L356.9 686.8ZM421.8 684.5L424.0 685.8L424.1 687.3L422.8 689.4L418.1 689.7L415.1 689.3L415.2 687.6L410.5 687.8L410.3 685.6L413.4 685.7L417.7 684.7L421.6 684.9ZM434.5 688.6L435.7 689.5L434.1 690.6L430.0 690.4L426.6 689.6L428.1 688.3L432.1 687.6ZM474.6 689.7L472.8 690.4L468.6 691.0L464.9 690.7L456.8 691.1L451.1 691.2L446.5 690.8L439.0 689.9L438.0 688.3L437.7 686.9L434.8 685.6L429.0 685.3L425.7 684.4L426.8 683.2L432.6 683.4L435.8 684.3L441.3 684.3L443.7 685.3L443.1 686.3L446.3 687.0L448.1 687.7L451.9 687.8L456.0 688.0L460.5 687.4L466.3 687.2L470.9 687.4L473.9 688.4ZM433.1 691.9L439.0 692.0L444.4 692.7L440.2 695.3L436.8 695.8L433.8 698.0L430.6 697.9L428.8 695.4L428.8 693.9L430.3 692.7ZM416.4 696.0L413.3 694.1L416.6 692.8L420.0 693.4L425.0 693.0L425.7 693.8L423.1 695.2L427.4 696.4L426.9 699.0L422.2 700.2L419.5 699.9L417.6 698.8L410.5 696.6L410.6 695.7ZM429.9 706.4L428.1 707.4L424.3 706.5L422.0 706.8L418.2 705.5L420.6 704.6L422.6 703.4L425.6 704.2L427.3 704.7L428.2 705.3ZM465.3 726.4L463.4 726.3L462.8 725.5L464.9 724.2L468.8 724.2L468.7 724.8ZM474.3 725.7L475.4 725.8L476.1 726.4L475.0 727.9L473.8 727.6L473.0 726.8ZM485.7 712.0L482.6 712.2L481.9 710.7L483.1 709.1L485.6 708.7L487.9 709.5L487.9 710.8ZM454.2 676.0L457.7 676.9L453.8 677.8L448.5 680.0L443.6 680.2L437.7 679.8L434.7 678.6L434.7 677.6L436.9 676.8L431.8 676.9L428.7 675.9L426.9 674.6L430.8 672.4L433.7 672.2L432.4 671.6L439.0 671.4L442.6 673.0L452.0 674.1ZM417.4 679.9L418.5 681.1L413.9 680.7L409.3 679.8L403.0 679.7L405.7 678.8L402.3 678.1L402.1 677.1L407.6 677.4L415.3 678.5ZM425.1 678.4L426.8 678.6L430.1 679.6L429.4 680.6L425.2 681.2L422.9 680.6L421.7 679.5L421.5 678.3ZM385.1 678.3L386.7 678.5L390.3 679.1L386.9 679.6L382.2 679.6L382.2 679.2ZM388.8 681.7L383.6 682.5L379.4 681.6L381.7 680.7L385.8 680.4L389.8 680.8ZM367.2 696.0L374.7 694.3L377.5 694.9L376.1 696.2L382.6 695.3L386.4 696.8L389.7 695.3L394.5 694.9L395.9 697.9L393.9 694.9L396.4 694.5L399.3 694.9L402.4 696.1L404.0 698.9L405.0 701.0L409.7 702.4L414.8 703.8L414.5 705.0L409.9 705.2L411.7 706.3L410.7 707.4L405.6 706.9L400.8 706.2L397.5 706.3L392.2 707.3L380.0 708.0L378.5 706.7L374.6 705.9L372.1 706.2L368.6 703.9L370.5 703.6L374.9 703.1L378.9 703.3L382.5 702.7L377.1 702.1L371.0 702.3L367.1 702.3L365.6 701.2L372.1 700.0L367.7 700.1L362.8 699.3L365.2 697.2ZM459.5 716.3L460.0 717.6L461.5 717.1L463.1 717.9L466.2 718.9L469.4 719.7L469.7 721.1L471.7 720.9L473.8 721.8L471.3 722.8L466.9 722.1L465.3 720.8L462.5 722.3L458.5 723.8L457.5 722.1L453.7 722.4L456.1 721.0L456.5 718.7L457.5 716.1ZM1105.4 759.2L1108.2 764.3L1104.1 763.3L1102.3 767.5L1105.1 770.4L1105.0 772.5L1102.9 770.7L1101.0 772.9L1100.5 770.5L1100.8 767.7L1100.5 764.6L1101.2 762.4L1101.3 758.6L1099.6 755.8L1099.9 751.9L1102.5 750.5L1101.4 749.2L1102.6 748.8L1103.3 750.7L1104.3 753.5L1104.3 756.3ZM1106.2 778.1L1108.1 778.7L1110.1 777.5L1110.8 780.7L1106.6 781.5L1104.1 784.4L1099.7 782.4L1098.1 785.6L1095.0 785.6L1094.6 782.8L1096.0 780.5L1099.0 780.4L1099.8 776.4L1100.7 774.2L1104.0 777.1ZM1097.9 798.3L1096.8 800.6L1097.3 802.1L1095.8 804.1L1092.2 805.5L1087.3 805.6L1083.2 808.9L1081.3 807.8L1081.2 805.7L1076.3 806.3L1073.0 807.7L1069.7 807.7L1072.5 809.8L1070.6 814.7L1068.8 815.9L1067.5 814.8L1068.2 812.2L1066.4 811.4L1065.2 809.4L1067.9 808.5L1069.4 806.7L1072.2 805.2L1074.3 803.3L1079.9 802.4L1082.9 803.0L1085.9 797.9L1087.8 799.2L1091.9 796.4L1093.5 795.2L1095.3 791.7L1094.8 788.5L1096.0 786.7L1099.0 786.1L1100.5 790.1L1100.4 792.5L1097.8 795.4ZM1080.0 807.0L1080.4 807.9L1078.7 809.7L1077.6 808.8L1076.1 809.4L1075.4 811.1L1073.6 810.3L1073.6 808.9L1075.1 807.2L1076.7 807.6L1077.9 806.3ZM1006.5 924.7L1012.0 925.0L1012.6 923.8L1017.8 925.2L1018.8 927.0L1023.1 927.6L1026.5 929.3L1023.3 930.4L1020.2 929.2L1017.7 929.3L1014.7 929.1L1012.1 928.6L1008.8 927.5L1006.7 927.2L1005.6 927.6L1000.4 926.3L999.9 925.1L997.4 924.9L999.3 922.2L1002.7 922.3L1005.0 923.5L1006.2 923.7ZM1032.7 928.5L1033.7 929.3L1035.5 929.0L1036.2 930.3L1032.9 930.8L1031.0 931.2L1029.5 931.2L1030.4 929.5L1032.0 929.5ZM1046.8 928.5L1046.5 930.1L1042.2 930.9L1038.4 930.5L1038.4 929.5L1040.7 928.9L1042.4 929.8L1044.3 929.5ZM1035.8 932.7L1038.4 932.1L1039.9 933.0L1040.9 933.9L1040.7 934.7L1039.5 934.7ZM1052.7 930.8L1053.0 930.1L1055.5 929.5L1057.4 929.4L1058.3 929.0L1059.4 929.4L1058.3 930.1L1055.4 931.4L1053.0 932.2L1051.2 934.4L1048.8 935.0L1048.4 934.7L1048.7 933.7L1049.9 931.9ZM1063.2 901.9L1063.1 904.5L1061.6 904.2L1061.2 905.9L1062.3 907.4L1061.5 907.8L1060.4 906.0L1059.6 902.3L1060.1 900.0L1061.0 899.0L1061.2 900.5L1062.9 900.8ZM1068.2 914.1L1069.2 916.3L1066.9 915.1L1064.5 914.9L1062.9 915.1L1061.0 915.0L1061.6 913.4L1065.1 913.3ZM1128.9 921.0L1127.5 921.2L1127.0 922.0L1125.5 922.7L1124.0 923.4L1122.5 923.4L1120.2 922.5L1118.6 921.7L1118.8 920.9L1121.4 921.3L1122.9 921.1L1123.7 919.6L1124.0 921.1L1125.6 920.9L1126.4 919.9L1128.0 918.9L1127.7 917.2L1129.4 917.1L1130.0 917.6L1129.9 919.2ZM1125.2 913.1L1126.0 912.4L1127.5 913.2L1128.5 913.8L1129.7 914.5L1130.8 915.7L1131.9 916.7L1132.2 918.1L1131.3 918.9L1130.8 917.2L1130.2 916.1L1128.9 915.2L1127.2 913.9ZM1199.3 1020.5L1198.2 1022.0L1196.8 1024.0L1194.6 1025.1L1194.1 1024.4L1192.9 1024.0L1194.6 1021.6L1193.6 1020.0L1190.6 1018.9L1190.7 1017.8L1192.7 1016.8L1193.2 1014.6L1193.1 1012.7L1191.9 1010.8L1192.0 1010.3L1190.7 1009.1L1188.4 1006.6L1187.3 1004.5L1188.3 1004.3L1189.8 1005.9L1192.0 1006.7L1192.8 1009.2L1194.9 1012.3L1194.9 1010.3L1196.2 1011.1L1196.6 1013.3L1198.9 1014.2L1200.8 1014.4L1202.4 1013.3L1203.9 1013.7L1203.2 1016.2L1202.3 1017.9L1200.2 1017.8L1199.4 1018.7L1199.7 1019.9ZM1053.5 901.1L1051.2 904.0L1049.1 904.5L1046.3 904.0L1041.7 904.1L1039.2 904.5L1038.8 906.7L1041.3 909.3L1042.8 908.0L1048.1 907.0L1047.9 908.3L1046.6 907.9L1045.4 909.6L1042.9 910.7L1045.6 914.4L1045.1 915.4L1047.6 918.7L1047.6 920.6L1046.1 921.4L1045.0 920.4L1046.3 918.0L1043.6 919.2L1042.9 918.3L1043.2 917.3L1041.2 915.6L1041.4 912.8L1039.5 913.6L1039.8 917.0L1039.9 921.1L1038.1 921.5L1036.9 920.7L1037.7 918.0L1037.2 915.2L1036.1 915.2L1035.2 913.3L1036.3 911.4L1036.7 909.1L1038.2 904.8L1038.8 903.6L1041.2 901.4L1043.4 902.3L1046.9 902.7L1050.2 902.6L1053.0 900.5ZM467.7 838.5L470.1 838.7L472.3 838.7L475.0 839.7L476.1 840.8L478.7 840.4L479.7 841.1L482.1 842.9L483.9 844.2L484.8 844.2L486.5 844.7L486.3 845.5L488.4 845.7L490.5 846.9L490.2 847.5L488.3 847.9L486.4 848.0L484.4 847.8L480.4 848.1L482.3 846.5L481.1 845.7L479.3 845.5L478.4 844.7L477.7 843.1L476.1 843.2L473.4 842.4L472.6 841.8L468.9 841.4L467.9 840.8L469.0 840.1L466.2 839.9L464.2 841.4L463.0 841.5L462.6 842.2L461.2 842.5L460.0 842.2L461.5 841.3L462.1 840.3L463.4 839.6L464.8 839.1L467.0 838.8ZM497.5 848.5L497.8 848.0L500.0 848.0L501.7 848.8L502.4 848.7L502.9 849.7L504.5 849.6L504.4 850.5L505.6 850.6L507.0 851.7L506.0 852.8L504.7 852.2L503.4 852.3L502.4 852.2L501.9 852.7L500.8 852.9L500.4 852.2L499.5 852.6L498.3 854.6L497.6 854.1L497.5 853.3L495.6 852.8L494.3 853.0L492.6 852.8L491.2 853.3L489.7 852.4L490.0 851.5L492.6 851.9L494.7 852.1L495.7 851.5L494.4 850.2L494.4 849.2L492.6 848.7L493.3 847.9L495.0 848.0Z" fill="#dadada"/>
<path d="M1112.1 777.5L1114.9 775.7L1119.4 774.0L1118.3 775.2L1114.3 777.2ZM1129.0 770.0L1131.8 767.4L1131.0 769.1ZM1138.0 761.1L1140.6 759.3L1139.2 760.8ZM1056.2 809.4L1058.1 808.8L1057.3 809.7ZM1027.1 929.4L1029.1 929.1L1028.8 930.8L1027.1 930.5ZM1059.1 915.2L1058.1 916.1L1056.1 915.6L1055.6 914.3L1058.4 914.2ZM997.7 909.8L999.7 910.1L1001.1 912.7L999.4 913.5L998.0 911.2ZM1136.8 920.6L1137.6 921.2L1139.0 923.0L1140.3 924.0L1139.9 924.8L1139.2 925.1L1137.9 924.0L1136.7 922.2L1136.1 920.0L1136.5 919.7ZM1150.6 932.9L1152.6 932.2L1154.0 933.6L1152.9 933.7L1151.2 933.4ZM1154.0 929.1L1155.2 931.4L1156.3 932.8L1155.9 933.3L1153.8 930.9L1153.2 929.1ZM1147.0 926.3L1150.6 928.3L1151.2 929.2L1151.4 929.8L1147.6 927.5L1146.5 926.5ZM1141.8 924.2L1143.5 925.4L1144.6 926.3L1144.1 926.5L1142.8 925.9L1141.7 924.7ZM1156.9 934.5L1158.1 935.4L1157.5 936.3L1155.8 935.1ZM1171.8 950.9L1172.0 950.9L1171.6 948.2L1170.3 947.3L1170.7 950.3ZM1173.7 952.6L1172.8 953.0L1171.8 951.7L1172.0 950.9ZM1167.9 965.8L1170.2 967.6L1171.7 969.0L1170.6 969.6L1169.1 968.9L1167.0 967.6L1165.2 966.0L1163.4 964.0L1163.0 963.1L1164.2 963.1L1165.8 964.1L1167.0 965.0ZM1203.4 955.1L1204.4 955.9L1203.9 957.4L1202.2 957.8L1200.6 957.4L1200.4 956.2L1201.5 955.2L1202.8 955.5ZM1206.2 953.5L1204.5 954.1L1204.1 953.1L1205.5 952.5L1206.4 952.3L1208.0 951.4L1208.0 952.8ZM1172.8 1039.8L1174.7 1040.0L1174.4 1041.0L1172.8 1041.1ZM480.9 852.0L482.8 852.3L484.3 853.0L484.8 853.7L482.8 853.8L481.9 854.2L480.4 853.8L478.7 852.8L479.1 852.1L480.3 851.9ZM512.8 851.9L514.2 852.2L514.7 852.8L514.0 853.5L511.9 853.5L510.3 853.6L510.1 852.3L510.5 851.9ZM479.2 832.7L480.0 832.8L481.0 835.2L481.0 836.8L480.3 837.0L479.6 835.3L478.5 834.5ZM482.5 828.7L482.0 830.7L481.5 830.4L481.6 828.9L480.3 827.7L480.3 827.4ZM476.9 828.1L478.3 827.9L480.1 828.0L480.2 828.7L477.1 829.2ZM525.8 874.2L527.4 873.9L528.0 874.0L527.9 876.1L525.5 876.4L525.0 876.2L525.8 875.4ZM441.9 906.4L442.7 906.2L443.0 907.8L442.0 907.6ZM234.1 748.1L236.4 747.3L238.6 747.3L238.1 748.1L235.5 748.7ZM226.2 751.9L229.9 749.8L230.7 750.4L227.9 751.9ZM222.8 753.0L225.6 751.3L226.2 751.9L223.4 753.2ZM205.9 755.6L208.7 754.7L211.5 755.3L208.1 755.7ZM199.7 756.5L201.6 755.7L203.1 756.2L200.8 756.7ZM1188.3 753.3L1189.7 752.7L1186.9 752.7ZM257.5 845.1L258.8 845.0L259.5 845.5L259.3 845.8L258.4 846.0ZM253.2 843.2L254.0 842.9L254.9 843.9L253.5 843.9ZM248.8 841.7L248.9 841.5L250.1 841.3L250.0 842.0L249.7 842.3ZM632.7 861.2L633.7 861.5L633.6 862.3L632.7 862.0ZM635.1 858.4L636.0 858.7L635.7 859.3L635.1 859.2ZM628.3 856.0L629.3 855.7L629.5 856.4L628.5 856.6ZM630.7 857.3L632.1 857.4L631.9 857.7ZM652.2 823.6L654.4 823.1L653.0 824.6ZM659.8 824.1L660.9 822.6L660.7 824.4ZM655.3 824.6L656.4 824.4L656.1 825.4ZM822.1 938.3L822.7 939.4L822.0 939.1ZM856.0 965.3L857.4 965.9L856.6 966.6ZM861.9 962.7L863.1 963.3L862.2 964.2ZM723.9 895.4L725.2 894.6L724.6 895.7Z" fill="#e3e3e3"/>
<path d="M781.8 786.5L779.2 785.5L778.7 784.4L778.0 782.7L779.1 780.7L780.5 779.4L781.3 776.0L783.5 774.9L785.7 772.8L786.7 771.2L789.3 770.8L792.0 772.7L793.9 772.6L791.6 774.8L794.6 775.6L794.0 777.0L795.5 777.6L799.4 775.9L802.5 775.4L803.0 774.4L800.1 774.6L798.8 773.9L798.6 772.1L801.0 771.0L803.7 770.8L805.6 769.9L807.8 769.7L810.3 769.2L810.4 769.9L807.7 772.3L806.2 771.0L805.5 774.6L803.4 775.0L805.9 776.7L809.1 777.8L812.7 780.3L816.9 782.5L817.6 784.5L817.2 785.7L813.9 787.2L811.4 787.0L808.2 787.4L804.1 786.3L799.2 784.3L794.5 784.3L791.2 785.1L787.8 787.0L782.4 786.6ZM831.7 776.9L834.5 773.9L838.5 771.7L841.1 771.1L844.4 769.8L846.8 770.6L849.6 770.4L850.1 772.2L849.6 775.0L847.2 774.6L844.8 775.0L844.7 777.1L841.9 776.9L842.0 777.8L843.6 778.5L844.8 781.1L848.1 782.1L848.6 783.1L848.0 785.0L849.0 786.8L849.3 784.7L852.6 783.4L854.5 784.3L854.4 787.4L851.9 788.3L849.3 787.6L850.5 790.2L849.8 792.2L852.0 793.1L851.6 796.1L852.1 798.2L851.9 798.8L847.4 799.6L843.4 799.1L841.5 797.7L838.8 797.1L837.9 795.0L837.8 793.5L838.8 792.9L839.4 791.8L839.8 789.6L842.2 789.4L841.3 788.6L840.0 788.5L838.5 786.4L837.0 784.9L834.0 781.5L834.2 779.6ZM775.3 789.0L777.0 788.8L781.5 789.0L784.3 788.0L781.8 787.1L778.9 787.2L776.7 788.1ZM778.7 876.4L780.9 876.4L781.5 877.9L780.4 878.7L778.7 878.2Z" fill="#fff"/>
<path d="M369.2 811.6L372.5 811.4L376.0 811.1L375.8 811.6L380.1 813.0L386.5 815.1L392.1 815.0L394.3 815.0L394.3 813.9L399.2 813.9L400.3 814.9L401.7 815.8L403.4 817.0L404.3 818.5L405.0 820.1L406.5 821.0L408.8 821.9L410.6 819.6L412.9 819.5L414.9 820.7L416.3 822.6L417.3 824.3L419.0 826.0L419.6 828.0L420.4 829.3L422.6 830.2L424.6 830.9L425.8 830.7L424.7 833.3L424.1 835.3L423.8 839.3L423.5 840.8L424.1 842.2L424.9 843.6L425.5 845.9L427.5 847.9L428.0 849.7L429.2 851.1L432.3 851.7L433.4 853.1L435.9 852.3L437.9 852.0L440.2 851.4L441.9 850.8L443.6 849.7L444.4 845.6L445.0 844.8L447.0 843.9L450.1 843.3L452.4 843.5L454.2 843.2L454.9 843.9L454.7 845.2L453.2 846.9L452.6 848.7L453.2 849.1L452.6 850.5L452.0 852.6L451.2 852.0L450.6 852.0L450.1 852.0L449.1 853.8L448.6 853.4L448.2 853.5L448.3 854.0L445.6 853.9L443.0 853.9L443.0 855.6L441.7 855.6L442.8 856.5L443.8 857.2L444.1 857.8L444.6 858.0L444.5 859.0L440.9 859.0L439.5 861.3L439.9 861.9L439.6 862.5L439.5 863.4L436.3 860.3L434.8 859.3L432.6 858.6L431.0 858.8L428.8 859.9L427.3 860.2L425.3 859.4L423.2 858.9L420.6 857.5L418.4 857.2L415.3 855.8L412.9 854.4L412.2 853.7L410.6 853.5L407.7 852.6L406.6 851.3L403.5 849.7L402.1 847.8L401.5 846.4L402.4 846.1L402.1 845.4L402.7 844.6L402.7 843.6L401.8 842.3L401.5 841.1L400.6 839.7L398.1 836.8L395.3 834.6L393.9 832.8L391.5 831.6L391.0 830.9L391.4 829.1L389.9 828.4L388.3 827.1L387.6 825.0L386.0 824.8L384.4 823.3L383.1 821.9L383.0 821.0L381.5 818.9L380.4 816.6L380.5 815.5L378.4 814.4L377.5 814.5L375.9 813.7L375.4 814.9L375.9 816.3L376.2 818.4L377.1 819.6L379.2 821.6L379.7 822.3L380.1 822.5L380.5 823.5L381.0 823.4L381.6 825.3L382.4 826.0L383.0 827.0L384.8 828.5L385.8 831.2L386.6 832.4L387.4 833.8L387.5 835.3L388.9 835.4L390.0 836.7L391.0 838.0L391.0 838.5L389.8 839.5L389.3 839.5L388.5 837.8L386.7 836.2L384.7 834.8L383.2 834.0L383.3 831.9L382.9 830.4L381.5 829.5L379.6 828.2L379.2 828.6L378.5 827.8L376.8 827.1L375.1 825.4L375.3 825.2L376.5 825.4L377.5 824.3L377.6 823.0L375.5 821.0L373.8 820.2L372.7 818.4L371.7 816.5L370.4 814.2Z" fill="#f3faac" stroke="#f3faac" stroke-width="0.5" stroke-linejoin="round"/>
<path d="M439.5 863.4L439.6 862.5L439.9 861.9L439.5 861.3L440.9 859.0L444.5 859.0L444.6 858.0L444.1 857.8L443.8 857.2L442.8 856.5L441.7 855.6L443.0 855.6L443.0 853.9L445.6 853.9L448.3 854.0L448.2 856.2L448.0 859.5L448.9 859.5L449.8 860.0L450.9 860.0L449.6 861.0L448.2 861.8L448.0 862.4L448.2 863.0L447.7 863.7L447.0 863.9L447.2 864.2L446.6 864.5L445.7 865.3L445.5 865.7L444.1 865.2L442.4 865.1L441.0 864.5Z" fill="#bce4a0" stroke="#bce4a0" stroke-width="0.5" stroke-linejoin="round"/>
<path d="M452.0 866.6L452.3 865.5L451.9 865.2L451.3 865.0L450.1 865.4L450.0 865.0L449.1 864.5L448.5 863.9L447.7 863.7L447.0 863.9L447.2 864.2L446.6 864.5L445.7 865.3L445.5 865.7L446.4 866.4L447.9 866.5L449.2 867.1L450.1 867.3L451.8 867.4Z" fill="#62bda7" stroke="#62bda7" stroke-width="0.5" stroke-linejoin="round"/>
<path d="M450.9 860.0L451.8 859.5L453.2 859.6L454.6 859.9L456.0 859.7L457.1 859.2L458.8 859.5L459.9 859.2L461.6 859.7L463.3 860.9L464.5 861.2L465.2 862.0L464.2 862.0L463.8 862.4L462.8 862.8L462.1 862.8L461.5 863.1L460.9 863.0L460.5 862.6L460.2 862.6L459.8 863.3L459.5 863.3L459.5 863.9L458.5 864.7L458.0 865.0L457.7 865.4L456.8 864.8L456.2 865.6L455.7 865.6L455.0 865.6L455.1 867.1L454.6 867.1L454.3 867.7L453.5 867.8L452.9 866.9L452.0 866.6L452.3 865.5L451.9 865.2L451.3 865.0L450.1 865.4L450.0 865.0L449.1 864.5L448.5 863.9L447.7 863.7L448.2 863.0L448.0 862.4L448.2 861.8L449.6 861.0Z" fill="#459eb4" stroke="#459eb4" stroke-width="0.5" stroke-linejoin="round"/>
<path d="M465.2 862.0L465.0 864.1L464.2 866.1L464.2 868.1L464.2 869.5L463.6 871.0L463.8 873.6L463.1 874.3L462.2 874.2L461.8 873.6L460.9 873.3L460.2 873.7L458.4 872.9L458.0 873.3L457.0 872.4L455.7 871.3L455.0 870.3L453.8 869.4L452.4 868.1L452.7 867.6L453.2 868.1L453.5 867.8L454.3 867.7L454.6 867.1L455.1 867.1L455.0 865.6L455.7 865.6L456.2 865.6L456.8 864.8L457.7 865.4L458.0 865.0L458.5 864.7L459.5 863.9L459.5 863.3L459.8 863.3L460.2 862.6L460.5 862.6L460.9 863.0L461.5 863.1L462.1 862.8L462.8 862.8L463.8 862.4L464.2 862.0Z" fill="#fff3ac" stroke="#fff3ac" stroke-width="0.5" stroke-linejoin="round"/>
<path d="M467.0 877.6L467.8 878.7L469.3 879.3L470.1 879.9L471.5 879.6L472.6 879.0L474.3 878.4L475.2 877.6L476.9 877.7L478.3 878.2L479.4 878.6L480.6 879.6L481.5 880.3L481.2 880.7L481.9 882.4L481.3 883.2L480.4 883.0L480.0 884.5L479.1 883.6L478.6 882.0L479.1 881.3L478.6 881.0L478.0 880.2L476.6 879.3L475.2 879.6L474.6 880.5L472.9 881.3L472.6 881.9L474.1 883.5L473.2 883.9L471.5 884.5L471.0 882.8L469.8 883.0L469.3 881.9L467.3 881.3L465.9 881.6L465.7 882.1L466.1 881.3L466.0 880.4L466.4 879.5L465.8 879.1L465.8 877.9Z" fill="#5e4fa2" stroke="#5e4fa2" stroke-width="0.5" stroke-linejoin="round"/>
<path d="M481.5 880.3L483.0 880.3L485.1 878.3L486.3 878.0L486.3 877.1L486.8 874.6L488.4 873.3L490.2 873.3L490.4 872.7L492.7 872.9L494.9 871.5L496.0 870.8L497.3 869.4L498.3 869.6L499.1 870.4L498.5 871.3L496.7 871.8L496.0 873.2L494.9 874.1L494.1 875.1L493.7 877.2L493.0 878.9L494.4 879.0L494.8 880.4L495.4 881.0L495.6 882.2L495.3 883.2L495.4 883.9L496.1 884.1L496.8 885.1L500.4 884.8L502.0 885.2L504.0 887.7L505.1 887.3L507.2 887.5L508.8 887.2L509.8 887.7L509.3 889.2L508.7 890.2L508.4 892.3L509.0 894.2L509.8 895.0L509.9 895.6L508.5 897.1L509.5 897.7L510.3 898.7L511.1 901.6L510.6 901.9L510.0 900.3L509.2 899.3L508.3 900.3L502.8 900.3L502.9 902.1L504.5 902.4L504.4 903.5L503.8 903.2L502.2 903.6L502.2 905.7L503.5 906.8L503.9 908.4L503.9 909.7L502.6 917.6L501.2 916.0L500.3 916.0L502.1 913.1L500.0 911.7L498.3 911.9L497.3 911.4L495.7 912.2L493.6 911.8L492.0 908.8L490.7 908.1L489.8 906.7L487.9 905.4L487.1 905.6L485.9 905.0L484.5 904.0L483.7 904.5L481.3 904.0L480.6 902.8L480.1 902.9L477.3 901.2L476.9 900.3L478.0 900.1L477.8 898.7L478.5 897.6L479.9 897.4L481.1 895.6L482.2 894.1L481.1 893.4L481.7 891.8L481.0 889.1L481.6 888.4L481.2 886.0L480.0 884.5L480.4 883.0L481.3 883.2L481.9 882.4L481.2 880.7Z" fill="#5e4fa2" stroke="#5e4fa2" stroke-width="0.5" stroke-linejoin="round"/>
<path d="M473.2 915.0L474.7 912.9L474.1 911.6L473.0 912.9L471.3 911.7L471.9 910.9L471.4 908.2L472.4 907.8L472.9 906.0L474.0 904.2L473.8 903.0L475.4 902.4L477.3 901.2L480.1 902.9L480.6 902.8L481.3 904.0L483.7 904.5L484.5 904.0L485.9 905.0L487.1 905.6L487.5 907.8L486.7 909.7L483.5 912.7L480.2 913.8L478.4 916.3L477.9 918.3L476.3 919.5L475.1 918.0L474.0 917.7L472.8 917.9L472.7 916.9L473.6 916.2Z" fill="#fba05b" stroke="#fba05b" stroke-width="0.5" stroke-linejoin="round"/>
<path d="M501.2 958.0L498.4 956.3L498.2 955.1L492.6 952.3L487.5 949.1L485.3 947.3L484.2 945.0L484.6 944.2L482.2 940.4L479.5 935.1L476.8 929.3L475.6 928.0L474.7 925.9L472.5 924.0L470.5 922.9L471.4 921.6L470.1 918.8L471.0 916.8L473.2 915.0L473.6 916.2L472.7 916.9L472.8 917.9L474.0 917.7L475.1 918.0L476.3 919.5L477.9 918.3L478.4 916.3L480.2 913.8L483.5 912.7L486.7 909.7L487.5 907.8L487.1 905.6L487.9 905.4L489.8 906.7L490.7 908.1L492.0 908.8L493.6 911.8L495.7 912.2L497.3 911.4L498.3 911.9L500.0 911.7L502.1 913.1L500.3 916.0L501.2 916.0L502.6 917.6L500.1 917.4L499.7 917.9L497.3 918.4L494.1 920.4L493.9 921.7L493.2 922.7L493.5 924.3L491.8 925.1L491.8 926.3L491.0 926.8L492.2 929.4L493.8 931.2L493.2 932.4L495.1 932.6L496.1 934.1L498.6 934.2L500.9 932.5L500.7 936.9L502.0 937.2L503.6 936.7L506.0 941.3L505.5 942.3L505.3 944.3L505.3 946.8L504.2 948.2L504.7 949.3L504.0 950.3L505.2 952.7L503.4 955.8L502.7 957.2Z" fill="#5e4fa2" stroke="#5e4fa2" stroke-width="0.5" stroke-linejoin="round"/>
<path d="M501.2 958.0L502.7 957.2L503.4 955.8L504.8 957.7L505.2 959.8L506.7 961.0L505.8 963.8L507.3 967.0L508.4 971.0L510.4 970.6L510.8 971.3L509.8 974.3L506.8 975.7L506.8 980.5L506.3 981.5L507.1 982.6L505.1 984.4L503.2 987.1L502.3 989.7L502.5 992.5L500.8 995.5L502.1 1000.4L502.8 1000.9L502.8 1003.6L501.2 1006.4L501.3 1008.8L499.1 1010.7L499.1 1013.3L500.0 1016.1L498.3 1017.2L497.5 1019.7L496.9 1022.7L497.3 1026.2L496.2 1026.8L496.9 1030.1L498.2 1031.2L497.2 1032.4L498.5 1033.0L498.8 1034.0L497.6 1034.6L497.9 1036.3L496.9 1040.1L495.4 1042.5L495.7 1044.0L494.8 1045.8L492.6 1047.1L492.9 1050.1L493.9 1051.2L495.8 1051.0L495.7 1053.2L496.9 1054.8L503.7 1055.2L506.3 1055.7L506.8 1056.0L504.3 1056.2L500.0 1057.4L499.5 1060.0L498.3 1060.2L495.1 1059.2L491.8 1057.2L488.3 1055.6L487.4 1053.7L488.2 1052.0L486.8 1050.1L486.5 1045.2L487.7 1042.5L490.6 1040.2L486.4 1039.4L489.1 1036.9L490.0 1032.1L493.1 1033.1L494.6 1027.1L492.7 1026.4L491.8 1030.0L490.1 1029.5L490.9 1025.4L491.9 1020.1L493.2 1018.2L492.4 1015.3L492.2 1012.1L493.3 1012.0L495.1 1007.4L497.0 1002.8L498.2 998.5L497.6 994.2L498.4 991.8L498.1 988.2L499.7 984.7L500.3 979.2L501.2 973.2L502.0 966.7L501.8 962.0ZM506.2 1056.6L506.2 1063.1L504.5 1064.9L502.4 1064.0L499.5 1063.6L495.9 1062.0L493.0 1060.4L489.1 1057.2L491.4 1057.8L495.4 1059.8L499.2 1060.8L500.6 1059.5L501.5 1057.5L504.1 1056.3Z" fill="#3585bb" stroke="#3585bb" stroke-width="0.5" stroke-linejoin="round"/>
<path d="M691.8 890.8L690.8 887.2L691.5 884.0L692.7 881.6L691.9 877.5L691.5 875.3L691.6 873.7L696.5 873.5L697.8 873.7L698.7 873.3L700.0 873.5L699.8 874.4L700.9 875.9L700.9 878.0L701.2 880.2L701.9 881.3L701.3 883.9L701.5 885.3L702.3 887.1L702.9 888.1L698.5 889.8L696.9 890.8L694.4 891.6Z" fill="#b61b48" stroke="#b61b48" stroke-width="0.5" stroke-linejoin="round"/>
<path d="M723.9 891.5L724.6 889.4L726.0 886.7L726.8 886.6L728.5 884.9L729.5 884.9L731.1 886.1L733.1 885.1L733.3 883.9L733.9 882.8L734.4 881.3L735.9 880.1L736.5 878.1L737.1 877.5L737.5 876.0L738.2 874.1L740.6 871.9L740.7 871.0L741.1 870.4L739.9 869.3L740.0 868.4L740.8 868.2L741.9 870.0L742.1 871.9L742.0 873.9L743.6 876.5L742.0 876.5L741.2 876.7L739.9 876.4L739.3 877.7L740.9 879.4L742.2 879.9L742.6 881.1L743.5 883.1L743.0 883.9L741.6 886.8L740.9 887.3L740.7 889.5L741.0 890.7L740.8 891.6L742.1 893.1L742.4 894.1L743.4 895.6L744.7 896.5L744.8 897.8L745.1 898.7L744.9 900.2L742.7 899.6L740.4 898.8L736.8 898.7L736.5 898.5L734.8 898.9L733.1 898.5L731.7 898.7L727.1 898.6L727.6 896.4L726.4 894.5L725.2 894.0L724.6 892.7L723.9 892.3Z" fill="#af1446" stroke="#af1446" stroke-width="0.5" stroke-linejoin="round"/>
<path d="M740.8 868.2L739.3 866.8L738.1 863.9L739.3 860.1L743.0 857.4L743.1 853.6L744.2 847.8L744.8 846.5L743.6 845.6L743.6 844.6L742.5 843.9L741.8 839.4L744.7 837.8L755.9 843.3L767.2 848.9L767.3 860.3L764.9 860.1L763.6 862.2L762.9 864.0L763.4 864.7L762.5 865.5L762.9 866.7L762.1 867.9L761.8 869.0L762.8 868.8L763.4 869.9L763.4 871.6L764.5 872.5L764.4 873.2L762.7 873.6L761.2 874.8L759.2 877.9L756.5 879.3L753.8 879.1L753.0 879.4L753.3 880.4L751.8 881.4L750.6 882.5L747.1 883.6L746.4 883.0L745.9 882.9L745.4 883.6L743.0 883.9L743.5 883.1L742.6 881.1L742.2 879.9L740.9 879.4L739.3 877.7L739.9 876.4L741.2 876.7L742.0 876.5L743.6 876.5L742.0 873.9L742.1 871.9L741.9 870.0Z" fill="#df4e4b" stroke="#df4e4b" stroke-width="0.5" stroke-linejoin="round"/>
<path d="M734.7 922.7L735.9 922.4L736.7 922.4L737.7 922.1L746.0 922.1L746.7 924.2L747.5 926.0L748.1 926.9L749.2 928.4L751.1 928.2L752.0 927.8L753.6 928.2L754.0 927.5L754.7 925.8L756.5 925.7L756.6 925.2L758.1 925.2L757.8 926.2L761.2 926.2L761.3 928.0L761.9 929.1L761.4 930.8L761.7 932.6L762.6 933.7L762.5 937.1L763.1 936.8L764.4 936.9L766.1 936.5L767.4 936.6L767.7 937.5L767.4 938.9L767.9 940.3L767.5 941.4L767.7 942.3L761.8 942.3L761.7 951.5L763.6 953.8L765.5 955.6L760.3 956.8L753.4 956.4L751.4 955.0L740.0 955.1L739.6 955.3L737.9 954.0L736.1 953.9L734.4 954.4L733.0 955.0L732.8 953.2L733.2 950.6L734.1 948.0L734.3 946.8L735.2 944.2L735.9 943.0L737.5 941.1L738.4 939.8L738.7 937.7L738.5 936.1L737.7 935.0L736.9 933.3L736.3 931.6L736.4 931.0L737.3 929.8L736.4 927.1L735.8 925.1L734.4 923.3ZM734.3 921.9L733.5 919.7L734.7 918.5L735.5 918.0L736.6 919.0L735.6 919.6L735.1 920.3L735.0 921.5Z" fill="#c1274a" stroke="#c1274a" stroke-width="0.5" stroke-linejoin="round"/>
<path d="M733.0 955.0L734.4 954.4L736.1 953.9L737.9 954.0L739.6 955.3L740.0 955.1L751.4 955.0L753.4 956.4L760.3 956.8L765.5 955.6L767.7 955.0L769.6 955.1L770.7 955.8L770.7 956.0L769.1 956.7L768.3 956.7L766.5 957.8L765.4 956.6L761.0 957.6L758.9 957.7L758.8 967.9L756.1 968.1L756.1 976.5L756.0 987.1L753.5 988.5L752.0 988.8L750.3 988.2L749.0 988.0L748.5 986.8L747.4 986.0L746.0 987.4L743.9 985.2L742.8 983.1L742.2 980.3L741.5 978.2L740.6 973.8L740.5 970.4L740.2 968.8L739.1 967.6L737.6 965.2L736.1 961.8L735.5 960.0L733.2 957.2Z" fill="#5e4fa2" stroke="#5e4fa2" stroke-width="0.5" stroke-linejoin="round"/>
<path d="M792.6 982.1L790.4 982.1L790.2 980.8L789.8 979.5L789.5 978.5L790.0 975.3L789.3 973.3L787.9 969.2L790.9 966.0L791.7 963.9L792.1 963.6L792.4 961.9L792.0 961.1L792.1 958.9L792.6 956.9L792.6 953.3L791.2 952.4L789.8 952.2L789.2 951.4L787.9 950.8L785.5 950.9L785.4 949.8L785.1 947.8L793.7 945.4L795.3 946.8L796.1 946.5L797.2 947.2L797.3 948.4L796.8 949.7L797.0 951.7L798.8 953.5L799.7 951.5L800.9 950.9L800.7 947.2L799.5 945.2L798.5 944.2L797.5 944.3L796.7 940.5L797.5 938.3L799.6 938.1L803.0 938.9L803.7 938.5L805.7 938.5L806.7 937.6L808.4 937.7L811.5 936.6L813.7 934.9L814.2 936.2L814.1 939.0L814.4 941.6L814.5 946.1L815.0 947.5L814.2 949.5L813.1 951.5L811.3 953.3L808.7 954.4L805.5 955.8L802.3 958.9L801.2 959.4L799.3 961.4L798.1 962.1L797.9 964.2L799.2 966.3L799.7 968.0L799.8 968.9L800.3 968.8L800.2 971.6L799.7 972.9L800.4 973.4L800.0 974.6L798.8 975.6L796.5 976.6L793.1 978.2L791.8 979.2L792.1 980.4L792.8 980.6Z" fill="#f26944" stroke="#f26944" stroke-width="0.5" stroke-linejoin="round"/>
<path d="M790.4 982.1L789.9 983.4L788.2 983.7L786.5 982.1L786.5 981.2L787.3 980.1L787.5 979.2L788.3 979.0L789.8 979.5L790.2 980.8Z" fill="#5e4fa2" stroke="#5e4fa2" stroke-width="0.5" stroke-linejoin="round"/>
<path d="M810.6 918.7L806.5 915.8L806.3 914.1L796.1 908.2L795.6 907.9L795.6 904.9L796.4 903.7L797.8 901.8L798.8 899.7L797.6 896.4L797.2 895.0L795.9 893.0L797.3 892.4L799.6 891.8L801.4 891.8L802.0 892.4L804.0 892.4L807.5 894.8L808.4 894.9L809.1 894.8L809.7 895.1L811.6 895.4L812.4 894.2L815.0 892.9L816.1 893.9L818.1 893.9L815.6 897.2L815.6 907.7L817.3 910.0L815.3 911.2L814.6 912.4L813.6 912.6L813.2 914.6L812.3 915.8L811.7 917.7Z" fill="#fa9b58" stroke="#fa9b58" stroke-width="0.5" stroke-linejoin="round"/>
<path d="M785.8 908.5L786.9 910.1L786.7 911.8L785.9 912.1L784.4 912.0L783.5 913.6L781.8 913.4L782.1 911.8L782.5 911.6L782.6 909.9L783.4 909.1L784.1 909.3Z" fill="#ed6246" stroke="#ed6246" stroke-width="0.5" stroke-linejoin="round"/>
<path d="M782.7 918.1L782.6 914.7L781.8 913.4L783.5 913.6L784.4 912.0L785.9 912.1L786.1 913.3L786.7 913.9L786.7 914.9L786.0 915.5L784.9 917.0L783.9 918.0Z" fill="#fcaa5f" stroke="#fcaa5f" stroke-width="0.5" stroke-linejoin="round"/>
<path d="M1004.9 843.2L1000.7 841.3L1001.2 839.6L998.6 839.1L997.2 838.0L994.8 839.5L992.1 839.9L989.9 839.9L988.3 840.6L986.9 841.0L987.3 844.3L985.8 844.2L985.5 843.5L985.4 842.3L983.4 843.2L982.1 842.7L980.1 841.6L980.9 839.2L979.1 838.6L978.4 836.0L975.4 836.4L975.8 833.0L978.4 830.6L978.6 828.3L978.5 826.1L977.3 825.4L976.3 823.7L974.7 823.9L971.6 820.5L969.2 821.7L966.9 821.0L963.6 822.8L961.0 824.9L958.8 825.3L957.5 824.5L956.0 824.5L954.0 823.8L952.5 824.5L950.6 826.7L950.4 824.4L948.7 825.0L945.4 824.7L942.2 824.1L939.9 822.8L937.7 822.2L936.7 820.8L935.2 820.4L932.3 818.5L930.1 817.7L928.9 818.4L924.9 816.4L922.2 814.5L921.4 811.4L923.4 811.8L923.5 810.3L922.4 808.8L922.7 806.5L919.6 803.1L915.0 801.9L914.2 799.7L912.1 798.4L911.6 797.5L911.1 795.9L911.2 794.8L909.5 794.1L908.6 794.4L907.9 791.8L908.7 791.1L908.3 790.4L911.0 789.1L913.0 788.5L915.9 788.9L917.0 787.0L920.6 786.7L921.6 785.6L926.1 784.0L926.5 783.4L926.2 781.7L928.2 781.0L925.7 776.0L931.2 774.8L932.7 774.2L934.7 769.0L940.3 770.0L941.9 768.7L942.0 765.8L944.4 765.5L946.5 763.6L947.6 763.4L948.4 765.4L950.7 766.9L954.8 768.0L956.7 770.3L955.6 773.7L956.7 774.9L960.0 775.4L963.8 775.8L967.2 777.6L969.0 777.9L970.2 780.6L971.9 782.3L975.0 782.2L980.8 782.9L984.6 782.5L987.4 782.9L991.5 784.6L995.0 784.6L996.2 785.5L999.5 784.0L1004.1 783.0L1008.3 782.9L1011.6 781.9L1013.6 780.3L1015.6 779.4L1015.1 778.4L1014.2 777.3L1015.7 775.4L1017.3 775.7L1020.2 776.3L1023.0 774.8L1027.3 773.6L1029.4 771.7L1031.4 770.9L1035.5 770.5L1037.7 770.9L1038.0 769.8L1035.5 767.8L1033.2 766.9L1031.0 768.0L1028.2 767.5L1026.6 767.9L1025.9 766.7L1027.9 763.9L1029.3 761.7L1032.7 762.8L1036.7 760.9L1036.6 759.7L1039.2 756.6L1040.7 755.7L1040.7 754.1L1039.2 753.4L1041.5 752.0L1045.0 751.5L1048.7 751.4L1053.0 752.3L1055.5 753.3L1057.2 756.2L1058.3 757.5L1059.2 759.2L1060.3 762.0L1065.2 763.0L1068.5 765.0L1069.7 767.7L1074.0 767.7L1076.4 766.6L1081.1 765.7L1079.6 768.3L1078.5 769.4L1077.5 772.5L1075.6 775.3L1072.2 774.8L1069.8 775.8L1070.5 778.3L1070.1 781.7L1068.7 781.8L1068.7 783.2L1066.9 781.5L1065.8 783.2L1061.4 784.4L1061.8 785.9L1059.4 785.8L1058.1 784.9L1056.1 786.9L1053.0 788.5L1050.7 790.3L1046.8 791.2L1044.7 792.5L1041.6 793.3L1043.1 792.0L1042.6 790.8L1044.8 788.9L1043.3 787.4L1040.8 788.4L1037.6 790.4L1035.9 792.3L1033.1 792.4L1031.7 793.7L1033.2 795.7L1035.5 796.2L1035.6 797.5L1037.8 798.3L1041.0 796.2L1043.5 797.4L1045.3 797.5L1045.8 799.0L1041.8 799.8L1040.5 801.3L1037.7 802.8L1036.3 804.8L1039.3 806.3L1040.4 809.2L1042.1 811.8L1044.1 814.0L1044.0 816.2L1042.2 816.9L1042.9 818.5L1044.6 819.4L1044.1 821.7L1043.4 824.0L1041.8 824.2L1039.8 827.4L1037.5 831.1L1034.9 834.6L1031.0 837.2L1027.1 839.7L1023.9 840.0L1022.1 841.3L1021.2 840.3L1019.6 841.8L1015.6 843.2L1012.7 843.6L1011.7 846.7L1010.1 846.9L1009.4 844.8L1010.0 843.6L1006.3 842.7ZM1011.4 851.5L1009.0 852.8L1006.6 851.9L1006.6 849.5L1007.9 848.2L1011.0 847.4L1012.7 847.4L1013.3 848.5L1012.0 849.8ZM1043.7 835.0L1042.0 839.6L1040.8 842.0L1039.3 839.6L1039.0 837.4L1040.6 834.6L1042.9 832.4L1044.2 833.3Z" fill="#af1446" stroke="#af1446" stroke-width="0.5" stroke-linejoin="round"/>
<path d="M1042.4 852.0L1044.1 852.8L1045.0 852.0L1045.3 852.8L1044.8 854.0L1045.8 856.0L1045.0 858.4L1043.3 859.4L1042.9 861.7L1043.5 864.0L1045.0 864.3L1046.3 863.9L1049.8 865.6L1049.6 867.1L1050.5 867.8L1050.2 869.1L1048.0 867.7L1046.9 866.2L1046.2 867.3L1044.4 865.6L1041.8 866.0L1040.4 865.3L1040.6 864.1L1041.5 863.4L1040.6 862.7L1040.2 863.8L1038.9 862.1L1038.4 860.9L1038.3 858.1L1039.5 859.1L1039.8 854.6L1040.7 851.9ZM1056.7 881.0L1057.0 882.9L1057.1 884.5L1056.2 887.2L1055.1 884.2L1053.8 885.7L1054.7 887.8L1053.9 889.1L1050.6 887.5L1049.8 885.4L1050.6 884.0L1048.9 882.7L1048.0 883.9L1046.6 883.7L1044.6 885.3L1044.1 884.5L1045.2 882.1L1047.0 881.3L1048.5 880.2L1049.5 881.5L1051.6 880.7L1052.1 879.4L1054.1 879.3L1053.9 877.1L1056.2 878.5L1056.5 879.9ZM1037.3 872.5L1037.8 874.8L1035.9 876.4L1034.5 878.4L1030.7 881.1L1032.1 879.1L1034.1 877.4L1035.8 875.3ZM1050.7 869.1L1053.4 869.1L1054.2 870.2L1055.0 873.4L1052.8 872.7L1052.9 873.6L1053.6 875.4L1052.2 876.1L1052.1 874.0L1051.3 873.9L1050.8 872.1L1052.5 872.3L1052.4 871.3ZM1048.5 873.7L1048.1 875.7L1047.1 878.2L1045.4 877.3L1046.0 876.5L1046.7 875.7L1047.0 873.9ZM1044.0 871.0L1045.7 871.9L1047.5 871.9L1047.4 873.1L1046.1 874.3L1044.3 875.2L1044.2 873.8L1044.4 872.3ZM1039.6 866.4L1042.0 866.6L1043.0 867.6L1042.2 870.1L1041.0 868.7ZM1050.1 872.8L1050.0 875.6L1048.8 876.6L1048.1 878.2L1048.8 875.3ZM1049.4 876.7L1051.4 876.3L1051.5 877.3L1050.0 877.6ZM1047.7 869.2L1050.0 870.4L1048.8 870.8L1047.6 870.1Z" fill="#cb334d" stroke="#cb334d" stroke-width="0.5" stroke-linejoin="round"/>
</g>
<rect x="141.8" y="38.1" width="1116.9" height="453.7" fill="none" stroke="#000" stroke-width="1.7"/>
<rect x="141.8" y="643.6" width="1116.9" height="454.30000000000007" fill="none" stroke="#000" stroke-width="1.7"/>
<text x="141.5" y="24.6" font-size="32.5" text-anchor="start" fill="#000" >A. Average maize price coefficient of variation (2000/01 -- 2017/18, %)</text>
<text x="141.7" y="593.1" font-size="32.5" text-anchor="start" fill="#000" >B. Average percentage ratio of net maize imports to maize</text>
<text x="141.7" y="630.8" font-size="32.5" text-anchor="start" fill="#000" >consumption (2000/01 -- 2017/18, %)</text>
<text x="141.5" y="1183.8" font-size="32.5" text-anchor="start" fill="#000" >C. Correlation between maize price coefficient of variation and imports</text>
<defs><linearGradient id="spec" x1="0" y1="1" x2="0" y2="0">
<stop offset="0.0000" stop-color="#9e0142"/>
<stop offset="0.0156" stop-color="#a70b44"/>
<stop offset="0.0312" stop-color="#af1446"/>
<stop offset="0.0469" stop-color="#b81e48"/>
<stop offset="0.0625" stop-color="#c1274a"/>
<stop offset="0.0781" stop-color="#c9314c"/>
<stop offset="0.0938" stop-color="#d23a4e"/>
<stop offset="0.1094" stop-color="#d8434e"/>
<stop offset="0.1250" stop-color="#dd4a4c"/>
<stop offset="0.1406" stop-color="#e2514a"/>
<stop offset="0.1562" stop-color="#e75948"/>
<stop offset="0.1719" stop-color="#eb6046"/>
<stop offset="0.1875" stop-color="#f06744"/>
<stop offset="0.2031" stop-color="#f47044"/>
<stop offset="0.2188" stop-color="#f67a49"/>
<stop offset="0.2344" stop-color="#f7844e"/>
<stop offset="0.2500" stop-color="#f98e52"/>
<stop offset="0.2656" stop-color="#fa9857"/>
<stop offset="0.2812" stop-color="#fba35c"/>
<stop offset="0.2969" stop-color="#fdad60"/>
<stop offset="0.3125" stop-color="#fdb567"/>
<stop offset="0.3281" stop-color="#fdbd6d"/>
<stop offset="0.3438" stop-color="#fdc574"/>
<stop offset="0.3594" stop-color="#fecc7b"/>
<stop offset="0.3750" stop-color="#fed481"/>
<stop offset="0.3906" stop-color="#fedc88"/>
<stop offset="0.4062" stop-color="#fee28f"/>
<stop offset="0.4219" stop-color="#fee797"/>
<stop offset="0.4375" stop-color="#feec9f"/>
<stop offset="0.4531" stop-color="#fff1a8"/>
<stop offset="0.4688" stop-color="#fff6b0"/>
<stop offset="0.4844" stop-color="#fffbb8"/>
<stop offset="0.5000" stop-color="#ffffbe"/>
<stop offset="0.5156" stop-color="#fbfdb8"/>
<stop offset="0.5312" stop-color="#f7fcb2"/>
<stop offset="0.5469" stop-color="#f3faac"/>
<stop offset="0.5625" stop-color="#eff9a6"/>
<stop offset="0.5781" stop-color="#ebf7a0"/>
<stop offset="0.5938" stop-color="#e7f59a"/>
<stop offset="0.6094" stop-color="#dff299"/>
<stop offset="0.6250" stop-color="#d6ee9b"/>
<stop offset="0.6406" stop-color="#cdeb9d"/>
<stop offset="0.6562" stop-color="#c3e79f"/>
<stop offset="0.6719" stop-color="#bae3a1"/>
<stop offset="0.6875" stop-color="#b1dfa3"/>
<stop offset="0.7031" stop-color="#a7dba4"/>
<stop offset="0.7188" stop-color="#9cd7a4"/>
<stop offset="0.7344" stop-color="#91d3a4"/>
<stop offset="0.7500" stop-color="#86cfa5"/>
<stop offset="0.7656" stop-color="#7ccaa5"/>
<stop offset="0.7812" stop-color="#71c6a5"/>
<stop offset="0.7969" stop-color="#66c2a5"/>
<stop offset="0.8125" stop-color="#5eb9a9"/>
<stop offset="0.8281" stop-color="#56b0ad"/>
<stop offset="0.8438" stop-color="#4ea7b0"/>
<stop offset="0.8594" stop-color="#459eb4"/>
<stop offset="0.8750" stop-color="#3d95b8"/>
<stop offset="0.8906" stop-color="#358bbc"/>
<stop offset="0.9062" stop-color="#3682ba"/>
<stop offset="0.9219" stop-color="#3d79b6"/>
<stop offset="0.9375" stop-color="#4471b2"/>
<stop offset="0.9531" stop-color="#4b68ae"/>
<stop offset="0.9688" stop-color="#525fa9"/>
<stop offset="0.9844" stop-color="#5956a5"/>
<stop offset="1.0000" stop-color="#5e4fa2"/>
</linearGradient></defs>
<rect x="1328.6" y="41.3" width="22.800000000000182" height="447.5" fill="url(#spec)" stroke="#000" stroke-width="1.45"/>
<line x1="1351.4" y1="488.8" x2="1358.4" y2="488.8" stroke="#000" stroke-width="1.5"/>
<text x="1367.0" y="499.2" font-size="27.1" text-anchor="start" fill="#000" >0.0</text>
<line x1="1351.4" y1="432.9" x2="1358.4" y2="432.9" stroke="#000" stroke-width="1.5"/>
<text x="1367.0" y="443.3" font-size="27.1" text-anchor="start" fill="#000" >2.5</text>
<line x1="1351.4" y1="376.9" x2="1358.4" y2="376.9" stroke="#000" stroke-width="1.5"/>
<text x="1367.0" y="387.3" font-size="27.1" text-anchor="start" fill="#000" >5.0</text>
<line x1="1351.4" y1="321.0" x2="1358.4" y2="321.0" stroke="#000" stroke-width="1.5"/>
<text x="1367.0" y="331.4" font-size="27.1" text-anchor="start" fill="#000" >7.5</text>
<line x1="1351.4" y1="265.1" x2="1358.4" y2="265.1" stroke="#000" stroke-width="1.5"/>
<text x="1367.0" y="275.4" font-size="27.1" text-anchor="start" fill="#000" >10.0</text>
<line x1="1351.4" y1="209.1" x2="1358.4" y2="209.1" stroke="#000" stroke-width="1.5"/>
<text x="1367.0" y="219.5" font-size="27.1" text-anchor="start" fill="#000" >12.5</text>
<line x1="1351.4" y1="153.2" x2="1358.4" y2="153.2" stroke="#000" stroke-width="1.5"/>
<text x="1367.0" y="163.6" font-size="27.1" text-anchor="start" fill="#000" >15.0</text>
<line x1="1351.4" y1="97.2" x2="1358.4" y2="97.2" stroke="#000" stroke-width="1.5"/>
<text x="1367.0" y="107.6" font-size="27.1" text-anchor="start" fill="#000" >17.5</text>
<line x1="1351.4" y1="41.3" x2="1358.4" y2="41.3" stroke="#000" stroke-width="1.5"/>
<text x="1367.0" y="51.7" font-size="27.1" text-anchor="start" fill="#000" >20.0</text>
<rect x="1328.6" y="647.5" width="22.800000000000182" height="446.5" fill="url(#spec)" stroke="#000" stroke-width="1.45"/>
<line x1="1351.4" y1="1094.0" x2="1358.4" y2="1094.0" stroke="#000" stroke-width="1.5"/>
<text x="1367.0" y="1104.4" font-size="27.1" text-anchor="start" fill="#000" >0</text>
<line x1="1351.4" y1="1004.7" x2="1358.4" y2="1004.7" stroke="#000" stroke-width="1.5"/>
<text x="1367.0" y="1015.1" font-size="27.1" text-anchor="start" fill="#000" >10</text>
<line x1="1351.4" y1="915.4" x2="1358.4" y2="915.4" stroke="#000" stroke-width="1.5"/>
<text x="1367.0" y="925.8" font-size="27.1" text-anchor="start" fill="#000" >20</text>
<line x1="1351.4" y1="826.1" x2="1358.4" y2="826.1" stroke="#000" stroke-width="1.5"/>
<text x="1367.0" y="836.5" font-size="27.1" text-anchor="start" fill="#000" >30</text>
<line x1="1351.4" y1="736.8" x2="1358.4" y2="736.8" stroke="#000" stroke-width="1.5"/>
<text x="1367.0" y="747.2" font-size="27.1" text-anchor="start" fill="#000" >40</text>
<line x1="1351.4" y1="647.5" x2="1358.4" y2="647.5" stroke="#000" stroke-width="1.5"/>
<text x="1367.0" y="657.9" font-size="27.1" text-anchor="start" fill="#000" >50</text>
<rect x="141.8" y="1197.0" width="1224.1000000000001" height="558.5999999999999" fill="none" stroke="#000" stroke-width="1.7"/>
<line x1="174.4" y1="1755.6" x2="174.4" y2="1764.1" stroke="#000" stroke-width="1.7"/>
<text x="174.4" y="1792.1" font-size="27.1" text-anchor="middle" fill="#000" >0</text>
<line x1="312.4" y1="1755.6" x2="312.4" y2="1764.1" stroke="#000" stroke-width="1.7"/>
<text x="312.4" y="1792.1" font-size="27.1" text-anchor="middle" fill="#000" >10</text>
<line x1="450.4" y1="1755.6" x2="450.4" y2="1764.1" stroke="#000" stroke-width="1.7"/>
<text x="450.4" y="1792.1" font-size="27.1" text-anchor="middle" fill="#000" >20</text>
<line x1="588.4" y1="1755.6" x2="588.4" y2="1764.1" stroke="#000" stroke-width="1.7"/>
<text x="588.4" y="1792.1" font-size="27.1" text-anchor="middle" fill="#000" >30</text>
<line x1="726.4" y1="1755.6" x2="726.4" y2="1764.1" stroke="#000" stroke-width="1.7"/>
<text x="726.4" y="1792.1" font-size="27.1" text-anchor="middle" fill="#000" >40</text>
<line x1="864.4" y1="1755.6" x2="864.4" y2="1764.1" stroke="#000" stroke-width="1.7"/>
<text x="864.4" y="1792.1" font-size="27.1" text-anchor="middle" fill="#000" >50</text>
<line x1="1002.4" y1="1755.6" x2="1002.4" y2="1764.1" stroke="#000" stroke-width="1.7"/>
<text x="1002.4" y="1792.1" font-size="27.1" text-anchor="middle" fill="#000" >60</text>
<line x1="1140.4" y1="1755.6" x2="1140.4" y2="1764.1" stroke="#000" stroke-width="1.7"/>
<text x="1140.4" y="1792.1" font-size="27.1" text-anchor="middle" fill="#000" >70</text>
<line x1="1278.4" y1="1755.6" x2="1278.4" y2="1764.1" stroke="#000" stroke-width="1.7"/>
<text x="1278.4" y="1792.1" font-size="27.1" text-anchor="middle" fill="#000" >80</text>
<line x1="133.3" y1="1726.1" x2="141.8" y2="1726.1" stroke="#000" stroke-width="1.7"/>
<text x="125.2" y="1736.8" font-size="27.1" text-anchor="end" fill="#000" >2.5</text>
<line x1="133.3" y1="1654.1" x2="141.8" y2="1654.1" stroke="#000" stroke-width="1.7"/>
<text x="125.2" y="1664.8" font-size="27.1" text-anchor="end" fill="#000" >5.0</text>
<line x1="133.3" y1="1582.1" x2="141.8" y2="1582.1" stroke="#000" stroke-width="1.7"/>
<text x="125.2" y="1592.8" font-size="27.1" text-anchor="end" fill="#000" >7.5</text>
<line x1="133.3" y1="1510.1" x2="141.8" y2="1510.1" stroke="#000" stroke-width="1.7"/>
<text x="125.2" y="1520.8" font-size="27.1" text-anchor="end" fill="#000" >10.0</text>
<line x1="133.3" y1="1438.1" x2="141.8" y2="1438.1" stroke="#000" stroke-width="1.7"/>
<text x="125.2" y="1448.8" font-size="27.1" text-anchor="end" fill="#000" >12.5</text>
<line x1="133.3" y1="1366.1" x2="141.8" y2="1366.1" stroke="#000" stroke-width="1.7"/>
<text x="125.2" y="1376.8" font-size="27.1" text-anchor="end" fill="#000" >15.0</text>
<line x1="133.3" y1="1294.1" x2="141.8" y2="1294.1" stroke="#000" stroke-width="1.7"/>
<text x="125.2" y="1304.8" font-size="27.1" text-anchor="end" fill="#000" >17.5</text>
<line x1="133.3" y1="1222.1" x2="141.8" y2="1222.1" stroke="#000" stroke-width="1.7"/>
<text x="125.2" y="1232.8" font-size="27.1" text-anchor="end" fill="#000" >20.0</text>
<line x1="197.0" y1="1431.8" x2="1310.3" y2="1610.6" stroke="#1f77b4" stroke-width="2.2" stroke-dasharray="8.4 3.65"/>
<circle cx="378.4" cy="1222.7" r="4.6" fill="#1f77b4" fill-opacity="0.85"/>
<circle cx="494.3" cy="1228.1" r="4.6" fill="#1f77b4" fill-opacity="0.85"/>
<circle cx="308.5" cy="1262.7" r="4.6" fill="#1f77b4" fill-opacity="0.85"/>
<circle cx="768.4" cy="1276.0" r="4.6" fill="#1f77b4" fill-opacity="0.85"/>
<circle cx="204.2" cy="1328.4" r="4.6" fill="#1f77b4" fill-opacity="0.85"/>
<circle cx="360.6" cy="1370.7" r="4.6" fill="#1f77b4" fill-opacity="0.85"/>
<circle cx="366.4" cy="1382.2" r="4.6" fill="#1f77b4" fill-opacity="0.85"/>
<circle cx="267.1" cy="1404.4" r="4.6" fill="#1f77b4" fill-opacity="0.85"/>
<circle cx="635.9" cy="1478.4" r="4.6" fill="#1f77b4" fill-opacity="0.85"/>
<circle cx="198.4" cy="1498.3" r="4.6" fill="#1f77b4" fill-opacity="0.85"/>
<circle cx="296.3" cy="1500.3" r="4.6" fill="#1f77b4" fill-opacity="0.85"/>
<circle cx="731.9" cy="1502.9" r="4.6" fill="#1f77b4" fill-opacity="0.85"/>
<circle cx="970.2" cy="1548.7" r="4.6" fill="#1f77b4" fill-opacity="0.85"/>
<circle cx="1142.3" cy="1577.8" r="4.6" fill="#1f77b4" fill-opacity="0.85"/>
<circle cx="1118.0" cy="1586.4" r="4.6" fill="#1f77b4" fill-opacity="0.85"/>
<circle cx="233.3" cy="1611.2" r="4.6" fill="#1f77b4" fill-opacity="0.85"/>
<circle cx="552.8" cy="1603.7" r="4.6" fill="#1f77b4" fill-opacity="0.85"/>
<circle cx="1310.1" cy="1631.6" r="4.6" fill="#1f77b4" fill-opacity="0.85"/>
<circle cx="799.5" cy="1642.3" r="4.6" fill="#1f77b4" fill-opacity="0.85"/>
<circle cx="197.4" cy="1659.9" r="4.6" fill="#1f77b4" fill-opacity="0.85"/>
<circle cx="933.1" cy="1662.7" r="4.6" fill="#1f77b4" fill-opacity="0.85"/>
<circle cx="1212.2" cy="1696.1" r="4.6" fill="#1f77b4" fill-opacity="0.85"/>
<circle cx="218.1" cy="1730.4" r="4.6" fill="#1f77b4" fill-opacity="0.85"/>
<text x="379.0" y="1223.4" font-size="18.06" text-anchor="start" fill="#000" >Burundi</text>
<text x="494.9" y="1228.8" font-size="18.06" text-anchor="start" fill="#000" >Nicaragua</text>
<text x="309.1" y="1263.4" font-size="18.06" text-anchor="start" fill="#000" >Mozambique</text>
<text x="769.0" y="1276.7" font-size="18.06" text-anchor="start" fill="#000" >Honduras</text>
<text x="204.8" y="1329.1" font-size="18.06" text-anchor="start" fill="#000" >Ghana</text>
<text x="361.2" y="1371.4" font-size="18.06" text-anchor="start" fill="#000" >Kenya</text>
<text x="367.0" y="1382.9" font-size="18.06" text-anchor="start" fill="#000" >Ecuador</text>
<text x="267.7" y="1405.1" font-size="18.06" text-anchor="start" fill="#000" >Chad</text>
<text x="636.5" y="1479.1" font-size="18.06" text-anchor="start" fill="#000" >Guatemala</text>
<text x="199.0" y="1499.0" font-size="18.06" text-anchor="start" fill="#000" >Cameroon</text>
<text x="296.9" y="1501.0" font-size="18.06" text-anchor="start" fill="#000" >Rwanda</text>
<text x="732.5" y="1503.6" font-size="18.06" text-anchor="start" fill="#000" >El Salvador</text>
<text x="970.8" y="1549.4" font-size="18.06" text-anchor="start" fill="#000" >Eswatini</text>
<text x="1142.9" y="1578.5" font-size="18.06" text-anchor="start" fill="#000" >Namibia</text>
<text x="1118.6" y="1587.1" font-size="18.06" text-anchor="start" fill="#000" >Colombia</text>
<text x="233.9" y="1611.9" font-size="18.06" text-anchor="start" fill="#000" >Philippines</text>
<text x="553.4" y="1604.4" font-size="18.06" text-anchor="start" fill="#000" >Mexico</text>
<text x="1310.7" y="1632.3" font-size="18.06" text-anchor="start" fill="#000" >Panama</text>
<text x="800.1" y="1643.0" font-size="18.06" text-anchor="start" fill="#000" >Chile</text>
<text x="198.0" y="1660.6" font-size="18.06" text-anchor="start" fill="#000" >China</text>
<text x="933.7" y="1663.4" font-size="18.06" text-anchor="start" fill="#000" >Peru</text>
<text x="1212.8" y="1696.8" font-size="18.06" text-anchor="start" fill="#000" >Cabo Verde</text>
<text x="218.7" y="1731.1" font-size="18.06" text-anchor="start" fill="#000" >Angola</text>
<text x="749.5" y="1826.6" font-size="27.1" text-anchor="middle" fill="#000" >Average percentage ratio of net maize imports to maize consumption</text>
<text x="753.9" y="1857.0" font-size="27.1" text-anchor="middle" fill="#000" >(2000/01 -- 2017/18, %)</text>
<g transform="translate(0,1476.3) rotate(-90)">
<text x="-5.6" y="20.9" font-size="27.1" text-anchor="middle" fill="#000" >Average maize price coefficient of variation</text>
<text x="-0.8" y="50.9" font-size="27.1" text-anchor="middle" fill="#000" >(2000/01 -- 2017/18, %)</text>
</g>
</svg>
</body></html>
